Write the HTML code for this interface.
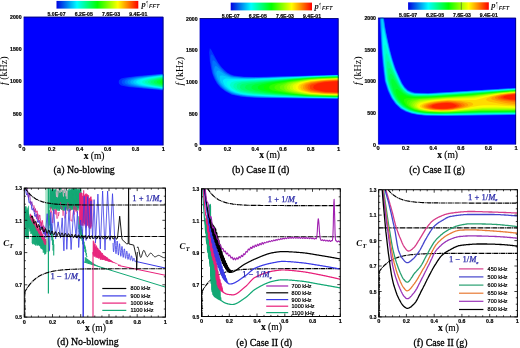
<!DOCTYPE html><html><head><meta charset="utf-8"><style>html,body{margin:0;padding:0;background:#fff;overflow:hidden;}svg{display:block;}</style></head><body>
<svg width="520" height="348" viewBox="0 0 520 348">
<defs>
<linearGradient id="cbg" x1="0" x2="1" y1="0" y2="0"><stop offset="0" stop-color="#0000e0"/><stop offset="0.25" stop-color="#00ffff"/><stop offset="0.5" stop-color="#00ff00"/><stop offset="0.75" stop-color="#ffff00"/><stop offset="1" stop-color="#ff0000"/></linearGradient>
<clipPath id="clipa"><rect x="23.8" y="16.8" width="139.6" height="128.5"/></clipPath>
<clipPath id="clipb"><rect x="199.8" y="18.2" width="138.7" height="126.6"/></clipPath>
<clipPath id="clipc"><rect x="378.2" y="17.8" width="137.8" height="126.6"/></clipPath>
<clipPath id="clipd"><rect x="24.3" y="188.1" width="141.1" height="129"/></clipPath>
<clipPath id="clipe"><rect x="201.5" y="188.8" width="138.8" height="127.7"/></clipPath>
<clipPath id="clipf"><rect x="378.7" y="189.7" width="138.7" height="127.2"/></clipPath>
</defs>
<rect width="520" height="348" fill="#fff"/>
<rect x="23.8" y="16.8" width="139.6" height="128.5" fill="#0000ff"/>
<g clip-path="url(#clipa)">
<path d="M160 74L163.4 73.7 163.4 90.4 128.1 87.1 121.2 85.4 119.3 84.1 118.8 83.1 118.8 81 119.3 80 121.2 78.6 124.2 77.7 137.3 75.9 160 74Z" fill="#0033ff"/>
<path d="M151.4 75L163.4 74 163.4 90 141.5 88.1 129.3 86.4 124.2 85 122.6 84.1 121.5 82.1 122.5 80 127.1 78 135.3 76.7 151.4 75Z" fill="#0052ff"/>
<path d="M155.2 75L163.4 74.3 163.4 89.7 145.6 88.1 131.4 86.1 125.8 84.1 124.4 82.1 125.7 80 131.1 78 139.3 76.7 155.2 75Z" fill="#0072ff"/>
<path d="M158.8 75L163.4 74.6 163.4 89.4 148.3 87.9 135.2 86.1 129 84.1 127.8 83.1 127.4 82.1 127.7 81 128.9 80 134.8 78 158.8 75Z" fill="#0091ff"/>
<path d="M162.3 75L163.4 74.9 163.4 89.1 138.8 86.1 132.1 84.1 130.7 83.1 130.3 82.1 130.7 81 132 80 138.4 78 162.3 75Z" fill="#00b0ff"/>
<path d="M155.9 76L163.4 75.3 163.4 88.8 141.3 85.9 135.2 84.1 133.7 83.1 133.2 82.1 133.6 81 135 80 137.7 79 145.3 77.4 155.9 76Z" fill="#00cfff"/>
<path d="M159.3 76L163.4 75.6 163.4 88.4 151.9 87.1 142.3 85.3 138.3 84.1 136.7 83.1 136.1 82.1 136.6 81 138.1 80 140.9 79 148.3 77.5 159.3 76Z" fill="#00efff"/>
<path d="M162.5 76L163.4 75.9 163.4 88.1 144.3 85.1 141.3 84.1 139.6 83.1 139.1 82.1 139.5 81 141.1 80 144 79 162.5 76Z" fill="#00fff0"/>
<path d="M157.9 77L163.4 76.3 163.4 87.7 147.5 85.1 144.3 84.1 142.6 83.1 142 82.1 142.5 81 144.2 80 147.2 79 157.9 77Z" fill="#00ffd1"/>
<path d="M161.1 77L163.4 76.7 163.4 87.3 150.5 85.1 147.4 84.1 145.5 83.1 144.9 82.1 145.4 81 147.2 80 150.2 79 161.1 77Z" fill="#00ffb2"/>
<path d="M158 78L163.4 77.2 163.4 86.9 151.3 84.4 148.5 83.1 147.8 82.1 148.4 81 150.2 80 158 78Z" fill="#00ff92"/>
<path d="M161 78L163.4 77.7 163.4 86.4 153.3 84.1 151.4 83.1 150.7 82.1 151.3 81 153.1 80 161 78Z" fill="#00ff73"/>
<path d="M159.4 79L163.4 78.2 163.4 85.8 156.3 84.1 154.3 83.1 153.7 82.1 154.2 81 156.1 80 159.4 79Z" fill="#00ff54"/>
<path d="M162.4 79L163.4 78.8 163.4 85.2 159.3 84.1 157.3 83.1 156.6 82.1 157.2 81 159.1 80 162.4 79Z" fill="#00ff35"/>
<path d="M162 80L163.4 79.6 163.4 84.4 160.2 83.1 159.5 82.1 160.1 81 162 80Z" fill="#00ff15"/>
<path d="M163 81L163.4 80.9 163.4 83.2 162.4 82.1 163 81Z" fill="#0aff00"/>
</g>
<path d="M23.8 17.1H163.1V145.3" fill="none" stroke="#000050" stroke-width="0.7"/>
<path d="M24 16.8V145.1H163.4" fill="none" stroke="#0000a0" stroke-width="0.5"/>
<rect x="56.5" y="0.9" width="81.8" height="7.7" fill="url(#cbg)"/>
<text x="56.5" y="15.8" font-size="6.0" font-family="'Liberation Sans', Arial, sans-serif" stroke="#000" stroke-width="0.2" text-anchor="middle" font-weight="bold" textLength="18" lengthAdjust="spacingAndGlyphs">5.0E-07</text>
<text x="83.8" y="15.8" font-size="6.0" font-family="'Liberation Sans', Arial, sans-serif" stroke="#000" stroke-width="0.2" text-anchor="middle" font-weight="bold" textLength="18" lengthAdjust="spacingAndGlyphs">6.2E-05</text>
<text x="111" y="15.8" font-size="6.0" font-family="'Liberation Sans', Arial, sans-serif" stroke="#000" stroke-width="0.2" text-anchor="middle" font-weight="bold" textLength="18" lengthAdjust="spacingAndGlyphs">7.6E-03</text>
<text x="138.3" y="15.8" font-size="6.0" font-family="'Liberation Sans', Arial, sans-serif" stroke="#000" stroke-width="0.2" text-anchor="middle" font-weight="bold" textLength="18" lengthAdjust="spacingAndGlyphs">9.4E-01</text>
<text x="141.5" y="6.8" font-family="'Liberation Serif', 'Times New Roman', serif" font-size="8.5" font-style="italic" font-weight="bold" fill="#222">p′</text>
<line x1="147.5" y1="0.8" x2="147.5" y2="7.3" stroke="#888" stroke-width="0.4"/>
<text x="149.1" y="8.1" font-family="'Liberation Sans', Arial, sans-serif" font-size="5.8" font-style="italic" font-weight="bold" fill="#222" textLength="10.4" lengthAdjust="spacingAndGlyphs">FFT</text>
<text x="21.6" y="147.6" font-size="6.2" font-family="'Liberation Sans', Arial, sans-serif" stroke="#000" stroke-width="0.2" text-anchor="end" font-weight="bold" textLength="3.0" lengthAdjust="spacingAndGlyphs">0</text>
<text x="21.6" y="115.5" font-size="6.2" font-family="'Liberation Sans', Arial, sans-serif" stroke="#000" stroke-width="0.2" text-anchor="end" font-weight="bold" textLength="8.7" lengthAdjust="spacingAndGlyphs">500</text>
<text x="21.6" y="83.4" font-size="6.2" font-family="'Liberation Sans', Arial, sans-serif" stroke="#000" stroke-width="0.2" text-anchor="end" font-weight="bold" textLength="11.6" lengthAdjust="spacingAndGlyphs">1000</text>
<text x="21.6" y="51.2" font-size="6.2" font-family="'Liberation Sans', Arial, sans-serif" stroke="#000" stroke-width="0.2" text-anchor="end" font-weight="bold" textLength="11.6" lengthAdjust="spacingAndGlyphs">1500</text>
<text x="21.6" y="19.1" font-size="6.2" font-family="'Liberation Sans', Arial, sans-serif" stroke="#000" stroke-width="0.2" text-anchor="end" font-weight="bold" textLength="11.6" lengthAdjust="spacingAndGlyphs">2000</text>
<text x="23.8" y="151.1" font-size="6.2" font-family="'Liberation Sans', Arial, sans-serif" stroke="#000" stroke-width="0.2" text-anchor="middle" font-weight="bold" textLength="3.2" lengthAdjust="spacingAndGlyphs">0</text>
<text x="51.7" y="151.1" font-size="6.2" font-family="'Liberation Sans', Arial, sans-serif" stroke="#000" stroke-width="0.2" text-anchor="middle" font-weight="bold" textLength="7.4" lengthAdjust="spacingAndGlyphs">0.2</text>
<text x="79.6" y="151.1" font-size="6.2" font-family="'Liberation Sans', Arial, sans-serif" stroke="#000" stroke-width="0.2" text-anchor="middle" font-weight="bold" textLength="7.4" lengthAdjust="spacingAndGlyphs">0.4</text>
<text x="107.6" y="151.1" font-size="6.2" font-family="'Liberation Sans', Arial, sans-serif" stroke="#000" stroke-width="0.2" text-anchor="middle" font-weight="bold" textLength="7.4" lengthAdjust="spacingAndGlyphs">0.6</text>
<text x="135.5" y="151.1" font-size="6.2" font-family="'Liberation Sans', Arial, sans-serif" stroke="#000" stroke-width="0.2" text-anchor="middle" font-weight="bold" textLength="7.4" lengthAdjust="spacingAndGlyphs">0.8</text>
<text x="163.4" y="151.1" font-size="6.2" font-family="'Liberation Sans', Arial, sans-serif" stroke="#000" stroke-width="0.2" text-anchor="middle" font-weight="bold" textLength="3.2" lengthAdjust="spacingAndGlyphs">1</text>
<text x="94.1" y="158.7" font-family="'Liberation Serif', 'Times New Roman', serif" font-size="9.5" text-anchor="middle" stroke="#000" stroke-width="0.15"><tspan font-weight="bold">x</tspan> (m)</text>
<text transform="translate(6.6,70.8) rotate(-90)" font-family="'Liberation Serif', 'Times New Roman', serif" font-size="10" text-anchor="middle"><tspan font-style="italic">f</tspan> (kHz)</text>
<rect x="199.8" y="18.2" width="138.7" height="126.6" fill="#0000ff"/>
<g clip-path="url(#clipb)">
<path d="M209.8 48.3L210.9 49.2 218.1 62.4 221.9 67.4 227.2 72.5 231 74.6 234 75.5 244 76.7 256.1 77 338.5 74.7 338.5 99 255.1 97.9 241 96.8 232 94.8 225.5 91.5 220.3 87.5 216.9 83.6 213.9 78 211.9 72.4 209.9 62 209.2 52.4 209.8 48.3Z" fill="#0033ff"/>
<path d="M210.7 55.4L210.9 54.7 211.9 54.4 212.9 55.3 219.4 65.4 225 71.5 230 74.7 234 76 244 77.1 256.1 77.3 338.5 74.9 338.5 98.7 258.1 97.7 242.4 96.6 232 94.4 226.4 91.5 222.2 88.5 218.3 84.5 215.9 80.7 213.1 74.5 211.9 69.6 210.4 59.4 210.7 55.4Z" fill="#0052ff"/>
<path d="M212.4 61.4L212.9 60.5 213.9 60.5 214.9 61.3 220 67.4 223.9 71.5 226.9 73.7 232 76 240 77.2 258.1 77.6 338.5 75 338.5 98.5 261.1 97.4 245.8 96.6 234.2 94.6 229.2 92.6 224.9 89.9 220.9 86.5 217.9 82.8 215.9 79.3 213.5 73.5 212.3 66.4 212.4 61.4Z" fill="#0072ff"/>
<path d="M214.8 66.4L215.9 66.1 216.9 66.5 224.9 73.3 230 76 234 77 241 77.7 258.1 77.9 338.5 75.1 338.5 98.3 264.1 97.2 247 96.3 236 94.6 232 93.3 226.8 90.5 222.9 87.5 219.2 83.5 216.9 79.5 214.6 73.5 214.1 69.4 214.8 66.4Z" fill="#0091ff"/>
<path d="M216.6 71.5L217.9 70.5 218.9 70.6 225.9 75.1 231 77.1 245 78.3 260.1 78.2 338.5 75.3 338.5 98.2 266.1 97 249 96.1 238.1 94.6 233 93.1 229.7 91.5 225.2 88.5 222 85.5 219.7 82.5 217.3 77.5 216.3 73.5 216.6 71.5Z" fill="#00b0ff"/>
<path d="M220.6 75.5L222.9 75.4 232 78.1 248 78.8 338.5 75.4 338.5 98 269.1 96.8 251.1 95.8 240.4 94.6 235 93.1 231.1 91.5 227.8 89.5 224.3 86.5 221.1 82.5 219.8 79.5 219.7 76.5 220.6 75.5Z" fill="#00cfff"/>
<path d="M310.1 76.5L338.5 75.6 338.5 97.9 309.4 97.6 272.2 96.5 254.1 95.6 243.6 94.6 235.2 92.6 230.9 90.5 225.8 86.5 224.2 84.5 223 81.5 223 80.5 223.6 79.5 225.9 78.5 233 79.1 252.1 79.2 310.1 76.5Z" fill="#00efff"/>
<path d="M314.7 76.5L338.5 75.8 338.5 97.8 290.3 96.8 264.1 95.8 247.7 94.6 240 93.3 233 90.7 229.8 88.5 227.8 86.5 226.5 83.5 226.7 82.5 227.9 81.1 231 80.3 259.1 79.4 314.7 76.5Z" fill="#00fff0"/>
<path d="M319.3 76.5L338.5 75.9 338.5 97.6 294.3 96.7 252.1 94.5 241 92.9 237 91.5 231.9 88.5 229.9 85.5 230 84.5 231.2 82.5 233.4 81.5 238 80.8 319.3 76.5Z" fill="#00ffd1"/>
<path d="M323.7 76.5L338.5 76.1 338.5 97.5 296 96.6 253.1 94 243.2 92.6 239.5 91.5 235.7 89.5 233.7 87.5 233.4 86.5 233.7 84.5 235 83.1 237 82.2 242 81.3 323.7 76.5Z" fill="#00ffb2"/>
<path d="M329.1 76.5L338.5 76.2 338.5 97.3 301.3 96.6 269.1 94.8 254.9 93.6 247.8 92.6 241 91 237.4 88.5 236.7 86.5 237.3 84.5 238.5 83.5 242 82.3 302.3 77.7 329.1 76.5Z" fill="#00ff92"/>
<path d="M334.7 76.5L338.5 76.4 338.5 97.1 306.3 96.6 261.3 93.6 253.2 92.6 244.1 90.5 241 89.2 240 87.5 240.3 85.5 242 83.9 250.7 82.5 302.3 77.9 334.7 76.5Z" fill="#00ff73"/>
<path d="M312.7 77.5L338.5 76.5 338.5 97 306.3 96.3 267.4 93.6 256.1 92 249.5 90.5 247 89.5 245.6 88.5 245.1 87.5 245.8 85.5 247.8 84.5 258.4 82.5 289.3 79.3 312.7 77.5Z" fill="#00ff54"/>
<path d="M316.9 77.5L338.5 76.7 338.5 96.8 307.3 96.1 273.2 93.5 265.4 92.6 255.5 90.5 253.1 89.5 251.8 88.5 251.5 87.5 251.7 86.5 252.6 85.5 254.9 84.5 264.7 82.5 290.4 79.5 316.9 77.5Z" fill="#00ff35"/>
<path d="M321.1 77.5L338.5 76.9 338.5 96.6 305.3 95.8 274.2 92.9 261.8 90.5 259.3 89.5 258.1 88.5 257.9 87.5 258 86.5 259.1 85.5 261.5 84.5 270.1 82.5 293.8 79.5 321.1 77.5Z" fill="#00ff15"/>
<path d="M325.5 77.5L338.5 77.1 338.5 96.4 310.4 95.8 288.2 94 270.2 91.3 265.1 89.5 264.1 88.5 263.9 87.5 264 86.5 265 85.5 266.9 84.5 275.5 82.5 301.3 79.1 325.5 77.5Z" fill="#0aff00"/>
<path d="M331.6 77.5L338.5 77.3 338.5 96.2 310.4 95.6 290.3 93.8 272.8 90.5 270.5 89.5 269.5 88.5 269.2 87.5 269.4 86.5 270.2 85.5 272.2 84.5 275.6 83.5 292 80.5 310.4 78.5 331.6 77.5Z" fill="#29ff00"/>
<path d="M337.5 77.5L338.5 77.5 338.5 96 311.4 95.4 292.2 93.6 278.3 90.5 275.9 89.5 274.8 88.5 274.5 87.5 274.7 86.5 275.5 85.5 277.4 84.5 292.3 81 310.4 78.8 337.5 77.5Z" fill="#48ff00"/>
<path d="M318.4 78.5L338.5 77.7 338.5 95.8 311.4 95.1 295.8 93.6 285.8 91.5 281.3 89.5 280.1 88.5 279.8 87.5 279.9 86.5 280.7 85.5 287.7 82.5 303.3 79.8 318.4 78.5Z" fill="#68ff00"/>
<path d="M322.4 78.5L338.5 77.9 338.5 95.6 311.4 94.9 300.3 93.7 288.9 91.5 286.2 90.4 284.4 88.5 284.2 86.5 284.6 85.5 287.6 83.5 290.6 82.5 308.3 79.5 322.4 78.5Z" fill="#87ff00"/>
<path d="M327.5 78.5L338.5 78.1 338.5 95.4 311.4 94.6 302 93.6 292 91.5 289.4 90.5 287.2 88.5 287 86.5 288.5 84.5 293.5 82.5 310.4 79.6 327.5 78.5Z" fill="#a6ff00"/>
<path d="M333.9 78.5L338.5 78.3 338.5 95.2 317.4 94.6 304.9 93.6 294.3 91.3 290.8 89.5 290 88.5 289.9 86.5 291.4 84.5 293.3 83.5 300.4 81.5 311.4 79.8 333.9 78.5Z" fill="#c5ff00"/>
<path d="M319.2 79.5L338.5 78.6 338.5 94.9 323.4 94.6 307.9 93.6 298 91.5 294.3 89.9 292.9 88.5 292.7 86.5 293.1 85.5 294.1 84.5 298.9 82.5 308.6 80.5 319.2 79.5Z" fill="#e5ff00"/>
<path d="M323 79.5L338.5 78.8 338.5 94.7 324.4 94.4 310.4 93.5 300.6 91.5 298 90.5 295.7 88.5 295.5 86.5 295.9 85.5 298.6 83.5 301.4 82.5 310.4 80.6 323 79.5Z" fill="#fffa00"/>
<path d="M328.6 79.5L338.5 79.1 338.5 94.4 324.4 94.1 310.4 93 302.3 91.2 299 89.5 298.3 88.5 298.1 86.5 299.4 84.5 303.8 82.5 311.4 80.9 328.6 79.5Z" fill="#ffdb00"/>
<path d="M335.6 79.5L338.5 79.4 338.5 94.1 324.4 93.8 310.1 92.6 303 90.5 301.4 89.5 300.4 87.5 300.8 85.5 301.7 84.5 306.2 82.5 310.3 81.5 324.4 80 335.6 79.5Z" fill="#ffbc00"/>
<path d="M322.7 80.5L338.5 79.7 338.5 93.8 324.4 93.5 311.4 92.2 305.5 90.5 303 88.5 303.2 85.5 305.8 83.5 311.4 81.9 322.7 80.5Z" fill="#ff9c00"/>
<path d="M328.3 80.5L338.5 80 338.5 93.5 324.4 93.1 311.4 91.6 308 90.5 305.5 88.5 305.2 86.5 305.5 85.5 306.4 84.5 310.4 82.7 317.7 81.5 328.3 80.5Z" fill="#ff7d00"/>
<path d="M335.9 80.5L338.5 80.4 338.5 93.1 324.4 92.7 315.2 91.5 310.4 90.5 308.7 89.5 307.5 87.5 307.9 85.5 308.8 84.5 311.4 83.3 324.4 81.1 335.9 80.5Z" fill="#ff5e00"/>
<path d="M325.7 81.5L338.5 80.8 338.5 92.7 325.4 92.2 319.4 91.5 314.3 90.5 311.3 89.5 310.2 88.5 309.9 86.5 310.2 85.5 311.4 84.5 318.6 82.5 325.7 81.5Z" fill="#ff3f00"/>
<path d="M333.8 81.5L338.5 81.2 338.5 92.2 325.4 91.7 321.4 91.1 315.2 89.5 313.7 88.5 313.3 87.5 313.7 85.5 317.9 83.5 324.4 82.2 333.8 81.5Z" fill="#ff1f00"/>
</g>
<path d="M199.8 18.5H338.2V144.8" fill="none" stroke="#000050" stroke-width="0.7"/>
<path d="M200 18.2V144.6H338.5" fill="none" stroke="#0000a0" stroke-width="0.5"/>
<rect x="230.7" y="2.6" width="81.3" height="7.8" fill="url(#cbg)"/>
<text x="230.7" y="17.6" font-size="6.0" font-family="'Liberation Sans', Arial, sans-serif" stroke="#000" stroke-width="0.2" text-anchor="middle" font-weight="bold" textLength="18" lengthAdjust="spacingAndGlyphs">5.0E-07</text>
<text x="257.8" y="17.6" font-size="6.0" font-family="'Liberation Sans', Arial, sans-serif" stroke="#000" stroke-width="0.2" text-anchor="middle" font-weight="bold" textLength="18" lengthAdjust="spacingAndGlyphs">6.2E-05</text>
<text x="284.9" y="17.6" font-size="6.0" font-family="'Liberation Sans', Arial, sans-serif" stroke="#000" stroke-width="0.2" text-anchor="middle" font-weight="bold" textLength="18" lengthAdjust="spacingAndGlyphs">7.6E-03</text>
<text x="312" y="17.6" font-size="6.0" font-family="'Liberation Sans', Arial, sans-serif" stroke="#000" stroke-width="0.2" text-anchor="middle" font-weight="bold" textLength="18" lengthAdjust="spacingAndGlyphs">9.4E-01</text>
<text x="314.5" y="8.6" font-family="'Liberation Serif', 'Times New Roman', serif" font-size="8.5" font-style="italic" font-weight="bold" fill="#222">p′</text>
<line x1="320.5" y1="2.6" x2="320.5" y2="9.1" stroke="#888" stroke-width="0.4"/>
<text x="322.1" y="9.9" font-family="'Liberation Sans', Arial, sans-serif" font-size="5.8" font-style="italic" font-weight="bold" fill="#222" textLength="10.4" lengthAdjust="spacingAndGlyphs">FFT</text>
<text x="197.6" y="147.1" font-size="6.2" font-family="'Liberation Sans', Arial, sans-serif" stroke="#000" stroke-width="0.2" text-anchor="end" font-weight="bold" textLength="3.0" lengthAdjust="spacingAndGlyphs">0</text>
<text x="197.6" y="115.5" font-size="6.2" font-family="'Liberation Sans', Arial, sans-serif" stroke="#000" stroke-width="0.2" text-anchor="end" font-weight="bold" textLength="8.7" lengthAdjust="spacingAndGlyphs">500</text>
<text x="197.6" y="83.8" font-size="6.2" font-family="'Liberation Sans', Arial, sans-serif" stroke="#000" stroke-width="0.2" text-anchor="end" font-weight="bold" textLength="11.6" lengthAdjust="spacingAndGlyphs">1000</text>
<text x="197.6" y="52.2" font-size="6.2" font-family="'Liberation Sans', Arial, sans-serif" stroke="#000" stroke-width="0.2" text-anchor="end" font-weight="bold" textLength="11.6" lengthAdjust="spacingAndGlyphs">1500</text>
<text x="197.6" y="20.5" font-size="6.2" font-family="'Liberation Sans', Arial, sans-serif" stroke="#000" stroke-width="0.2" text-anchor="end" font-weight="bold" textLength="11.6" lengthAdjust="spacingAndGlyphs">2000</text>
<text x="199.8" y="150.6" font-size="6.2" font-family="'Liberation Sans', Arial, sans-serif" stroke="#000" stroke-width="0.2" text-anchor="middle" font-weight="bold" textLength="3.2" lengthAdjust="spacingAndGlyphs">0</text>
<text x="227.5" y="150.6" font-size="6.2" font-family="'Liberation Sans', Arial, sans-serif" stroke="#000" stroke-width="0.2" text-anchor="middle" font-weight="bold" textLength="7.4" lengthAdjust="spacingAndGlyphs">0.2</text>
<text x="255.3" y="150.6" font-size="6.2" font-family="'Liberation Sans', Arial, sans-serif" stroke="#000" stroke-width="0.2" text-anchor="middle" font-weight="bold" textLength="7.4" lengthAdjust="spacingAndGlyphs">0.4</text>
<text x="283" y="150.6" font-size="6.2" font-family="'Liberation Sans', Arial, sans-serif" stroke="#000" stroke-width="0.2" text-anchor="middle" font-weight="bold" textLength="7.4" lengthAdjust="spacingAndGlyphs">0.6</text>
<text x="310.8" y="150.6" font-size="6.2" font-family="'Liberation Sans', Arial, sans-serif" stroke="#000" stroke-width="0.2" text-anchor="middle" font-weight="bold" textLength="7.4" lengthAdjust="spacingAndGlyphs">0.8</text>
<text x="338.5" y="150.6" font-size="6.2" font-family="'Liberation Sans', Arial, sans-serif" stroke="#000" stroke-width="0.2" text-anchor="middle" font-weight="bold" textLength="3.2" lengthAdjust="spacingAndGlyphs">1</text>
<text x="269.6" y="158.2" font-family="'Liberation Serif', 'Times New Roman', serif" font-size="9.5" text-anchor="middle" stroke="#000" stroke-width="0.15"><tspan font-weight="bold">x</tspan> (m)</text>
<text transform="translate(182.6,71.2) rotate(-90)" font-family="'Liberation Serif', 'Times New Roman', serif" font-size="10" text-anchor="middle"><tspan font-style="italic">f</tspan> (kHz)</text>
<rect x="378.2" y="17.8" width="137.8" height="126.6" fill="#0000ff"/>
<g clip-path="url(#clipc)">
<path d="M379.6 17.8L383.9 17.8 385.9 30.9 388 40.9 391.1 54 394.1 64 397.1 72.1 402.2 83.1 404.9 87.1 408 90.1 414.4 92.5 427.5 93 460.7 91.4 481.8 90.1 483.8 89.7 497.9 89.2 498.9 88.7 514 88.2 516 87.7 516 115 457.7 115.9 423.5 115.8 411.4 113.8 405.4 111.7 401.3 109.6 395.5 104.2 391.2 98.2 387.8 91.1 384.8 82.1 382.8 68 381.8 56 379.6 17.8Z" fill="#0033ff"/>
<path d="M379.9 17.8L383.7 17.8 385.7 30.9 389.9 50 392.9 61 396 70 401.9 83.1 404.6 87.1 407.6 90.1 410.4 91.6 414.4 92.8 419.4 93.3 428.5 93.3 516 88 516 114.8 449.6 115.7 425.5 115.6 416.4 114.6 411.4 113.5 405.4 111.3 400.3 108.5 395.3 103.6 391.3 97.8 388.1 91.1 384.9 81.1 382 55 379.9 17.8Z" fill="#0052ff"/>
<path d="M380.1 17.8L383.5 17.8 385.6 30.9 389.6 50 392 59 395.7 70 401.7 83.1 404.4 87.3 407.4 90.3 409.4 91.5 414.4 93 427.5 93.5 516 88.2 516 114.6 447.6 115.6 426.5 115.4 417.4 114.5 411.7 113.3 405.8 111.2 400.4 108.2 395.3 103.2 391.3 97.3 388.3 90.8 385.2 81.1 382.1 53 380.1 17.8Z" fill="#0072ff"/>
<path d="M380.5 17.8L383.3 17.8 384.8 27.8 387.8 42.9 391.8 59 394.7 68 401.9 84.1 404.7 88.1 407.4 90.6 411.4 92.5 415.4 93.4 428.5 93.7 516 88.4 516 114.4 446.6 115.4 425.5 115.1 417.5 114.3 411.4 112.9 406.4 111.2 400.9 108.2 396.3 104 392.1 98.2 388.3 90.1 385.4 81.1 382.4 53 380.5 17.8Z" fill="#0091ff"/>
<path d="M380.9 17.8L382.9 17.8 384.8 29.9 388.9 48.9 391.8 60 394.8 69 401.6 84.1 404.4 88.1 407.4 90.9 411.4 92.8 415.4 93.7 428.5 93.9 516 88.6 516 114.2 444.6 115.2 426.5 114.9 418.9 114.3 412.4 113 407.1 111.2 401.3 108.2 396.3 103.5 392.3 97.9 388.3 89.3 385.7 81.1 384.2 70.3 382.2 47.4 380.9 17.8Z" fill="#00b0ff"/>
<path d="M381.8 17.8L382.3 17.8 383.2 22.1 385.6 35.9 388.8 50 393.8 67 400.7 83.1 404 88.1 407.2 91.1 410.4 92.7 414.4 93.8 427.5 94.2 458.7 92.6 516 88.8 516 114 446.6 115 426.5 114.7 418.4 114 411.4 112.5 405.4 110.2 401.3 107.9 396.4 103.2 392.3 97.4 389.3 91.1 386 81.1 384.1 66 382.4 44.9 381.6 20.8 381.8 17.8Z" fill="#00cfff"/>
<path d="M382.9 27.8L383.2 27.4 384.2 30.9 389.7 55 393.8 68 400.9 84.1 404.4 89 407.4 91.7 411.4 93.4 414.4 94.1 428.5 94.4 516 89 516 113.7 446.6 114.8 426.5 114.5 418.4 113.7 411.5 112.2 406 110.2 402.4 108.2 397.3 103.8 393.1 98.2 389.3 90.2 386.3 81.1 383.2 52.5 382.4 32.9 382.9 27.8Z" fill="#00efff"/>
<path d="M383.6 36.9L384.2 36.2 385.2 39 390.7 60 395 72.1 401.7 86.1 404.4 89.5 407.4 92 411.4 93.7 415.4 94.5 428.5 94.7 463.7 92.8 516 89.2 516 113.5 446.6 114.6 427.5 114.4 419.4 113.7 413.4 112.5 408.4 110.9 403.3 108.5 398.1 104.2 393.5 98.2 390.3 91.8 387.3 83.2 386.2 78.1 384.2 59.9 383.2 44.9 383.2 38.6 383.6 36.9Z" fill="#00fff0"/>
<path d="M384.7 44.9L385.2 44.5 386.2 46.4 392.9 68 399.1 82.1 402.7 88.1 407.4 92.4 411.4 94.1 415.4 94.8 429.5 94.9 516 89.3 516 113.3 446.6 114.4 430.2 114.3 416.4 112.9 410.1 111.2 405.3 109.2 400.3 105.8 395.3 100.2 391.3 93.2 388.3 85.2 386.9 80.1 385.1 65 384.2 51 384.2 45.7 384.7 44.9Z" fill="#00ffd1"/>
<path d="M385.9 54L386.2 53.3 387.3 54.2 392.8 69 399.6 84.1 403.9 90.1 408.4 93.4 411.4 94.4 415.4 95.1 430.5 95.1 516 89.5 516 113 433.5 114.1 419.4 113.2 414.4 112.2 408.2 110.2 402.3 107 397.3 102.2 393.3 96.3 390.3 89.7 388.3 83.7 387 78.1 385.6 62 385.5 57 385.9 54Z" fill="#00ffb2"/>
<path d="M387.1 62L387.3 61.5 388.3 61.3 389.3 62.8 398.1 82.1 400.9 87.1 404.4 91.2 408.4 93.8 411.4 94.8 415.4 95.4 429.5 95.4 464.7 93.4 516 89.7 516 112.7 433.5 113.9 419.4 112.9 409.1 110.2 403.3 107.2 399.7 104.2 395.6 99.2 392.3 93.3 390.3 88.4 387.9 80.1 386.8 68 387.1 62Z" fill="#00ff92"/>
<path d="M389 68L390.3 68.6 391.3 69.9 398.5 84.1 401.7 89.1 406.4 93.3 412.4 95.4 418.4 95.9 434.5 95.5 516 89.9 516 112.5 435.5 113.7 421.5 113 416.4 112.1 410.4 110.4 404 107.2 400.4 104.2 396.3 99.4 393.3 94.2 390.3 86.6 388.3 79.1 388.1 70 388.3 68.8 389 68Z" fill="#00ff73"/>
<path d="M390 74.1L391.3 73.8 393.3 75.9 398.8 86.1 403.3 91.7 407.4 94.4 413.4 96 435.5 95.7 468.7 93.7 516 90.1 516 112.2 478.8 112.5 438.6 113.6 423.5 112.9 414.1 111.2 408.5 109.2 403.4 106.2 399.3 102.3 396.3 98.4 393.3 92.7 390.3 84.1 389.2 79.1 389.3 75.9 390 74.1Z" fill="#00ff54"/>
<path d="M391.3 79.1L392.3 78.6 393.3 79.1 399.1 88.1 403.3 92.7 407.4 95.1 413.4 96.5 428.5 96.4 459.7 94.6 516 90.3 516 111.9 482.8 112.2 439.6 113.4 424.5 112.7 415.3 111.2 409.4 109.2 405.7 107.2 401.9 104.2 398.4 100.2 395.3 95.2 393.3 90.3 391.3 82.4 391.3 79.1Z" fill="#00ff35"/>
<path d="M395.8 89.1L397.3 89 403.3 93.8 406.4 95.5 410.4 96.6 415.4 97 429.5 96.7 464.7 94.6 516 90.5 516 111.6 478.8 111.9 442.6 113.1 428.5 112.8 418.4 111.7 410.4 109.2 406.7 107.2 402.9 104.2 399.5 100.2 397.1 96.2 395.4 91.1 395.8 89.1Z" fill="#00ff15"/>
<path d="M507.5 91.1L516 90.7 516 111.2 478.8 111.6 443.6 112.9 431.5 112.7 422.5 112 414.2 110.2 407.7 107.2 405.1 105.2 402.3 102.2 399.7 97.2 400.3 95.3 401.3 95 407.4 96.8 411.4 97.4 425.5 97.2 468.7 94.7 507.5 91.1Z" fill="#0aff00"/>
<path d="M510.7 91.1L516 90.9 516 110.9 479.8 111.2 445.6 112.7 426.5 112.1 418.4 111 410.5 108.2 406.3 105.2 403.8 101.2 404.2 99.2 406.7 98.2 426.5 97.6 463.7 95.4 510.7 91.1Z" fill="#29ff00"/>
<path d="M514.5 91.1L516 91.1 516 110.5 478.8 110.8 446.6 112.4 429.5 112.1 420.4 111.1 413.9 109.2 408.8 106.2 406.7 103.2 407.2 101.2 408.1 100.2 412.4 99.1 468.7 95.4 499.9 92.2 514.5 91.1Z" fill="#48ff00"/>
<path d="M502.4 92.2L516 91.3 516 110.1 478.8 110.4 446.6 112.2 431.5 112 422.5 111.1 415.4 109.3 411.4 107.2 409 104.2 409.7 102.2 411.4 100.7 419.4 99 470.7 95.7 502.4 92.2Z" fill="#68ff00"/>
<path d="M505 92.2L516 91.5 516 109.7 482.8 109.8 447.6 111.9 434.5 111.8 426.2 111.2 419.4 110.1 414.4 108.2 411.7 106.2 411.2 105.2 411.6 103.2 413.4 101.5 419.4 99.6 446.6 97.4 472.7 96 505 92.2Z" fill="#87ff00"/>
<path d="M507.9 92.2L516 91.7 516 109.2 481.8 109.3 448.6 111.6 435.5 111.6 426.5 110.9 419.4 109.7 414.2 107.2 413 105.2 413.2 104.2 415.1 102.2 420.4 100.2 446.6 97.9 471.7 96.6 497.3 93.2 507.9 92.2Z" fill="#a6ff00"/>
<path d="M511.1 92.2L516 91.9 516 108.7 482.8 108.6 450.6 111.3 436.5 111.4 426.5 110.6 419.4 109.2 415.7 107.2 414.8 105.2 416.2 103.2 418.4 101.8 425.5 100.3 446.6 98.3 473.8 97 499.5 93.2 511.1 92.2Z" fill="#c5ff00"/>
<path d="M515.1 92.2L516 92.1 516 108.2 495.9 107.7 482.8 107.9 452.6 110.8 439.6 111.2 429.5 110.6 422.5 109.5 418.5 108.2 416.5 106.2 417.2 104.2 419.4 102.4 428.5 100.6 446.6 98.8 473.8 97.8 497.9 93.7 515.1 92.2Z" fill="#e5ff00"/>
<path d="M504.3 93.2L516 92.4 516 107.5 495.9 106.7 483.8 106.9 474.8 107.6 455.6 110.3 440.6 111 430.5 110.4 423.5 109.3 420.2 108.2 418.6 107.2 418.1 106.2 419 104.2 420.6 103.2 429.5 101 446.6 99.2 473.8 98.7 490.8 95.2 504.3 93.2Z" fill="#fffa00"/>
<path d="M507 93.2L516 92.6 516 106.6 494.9 105.3 483.8 105.3 478.8 105.8 457.7 109.7 441.6 110.7 432.5 110.3 425.2 109.2 422 108.2 420.3 107.2 419.7 106.2 420.4 104.9 423.5 103.2 432.2 101.2 447.6 99.7 475.8 100 493.2 95.2 507 93.2Z" fill="#ffdb00"/>
<path d="M510 93.2L516 92.8 516 105.6 500.9 104 488.8 101.5 486.3 100.2 486.2 99.2 487.2 98.2 491.7 96.2 500.9 94.2 510 93.2ZM436.2 101.2L447.6 100.2 460.7 100.7 470.7 102.2 472.6 103.2 473.3 104.2 472.7 105.2 467.9 107.2 458.2 109.2 447.6 110.4 434.5 110.2 427.5 109.3 424.5 108.4 422.2 107.2 421.7 106.2 422.5 105 426.1 103.2 436.2 101.2Z" fill="#ffbc00"/>
<path d="M513.7 93.2L516 93.1 516 104.2 505.9 102.9 496.9 101 491.9 99.4 491.1 98.2 492.1 97.2 497.7 95.2 503.2 94.2 513.7 93.2ZM440.9 101.2L449.6 100.8 460.7 101.6 466.7 103.2 468.1 104.2 468.3 105.2 467.1 106.2 464.7 107.2 452.6 109.6 441.6 110.2 430.5 109.4 425.8 108.2 424 107.2 423.6 106.2 424.3 105.2 426.5 104 430.5 102.8 440.9 101.2Z" fill="#ff9c00"/>
<path d="M505.7 94.2L516 93.3 516 102.6 500.9 100.6 496.9 99.5 494.9 98.2 495 97.2 496.7 96.2 505.7 94.2ZM436.7 102.2L446.6 101.3 455.6 101.8 462.4 103.2 464.3 104.2 464.9 105.2 464.1 106.2 462 107.2 452.7 109.2 443.6 109.9 433.5 109.4 427.8 108.2 425.9 107.2 425.5 106.2 426.3 105.2 428.5 104.1 436.7 102.2Z" fill="#ff7d00"/>
<path d="M508.5 94.2L516 93.6 516 101.5 503.9 100.1 500.1 99.2 498 98.2 497.7 97.2 499 96.2 502.2 95.2 508.5 94.2ZM441.2 102.2L447.6 101.8 454.6 102.4 459.7 103.6 461.9 105.2 461.4 106.2 459.5 107.2 451.6 109 443.6 109.5 434.5 109.1 429.9 108.2 427.8 107.2 427.4 106.2 428.3 105.2 433.5 103.4 441.2 102.2Z" fill="#ff5e00"/>
<path d="M511.8 94.2L516 93.9 516 100.6 504.3 99.2 501.2 98.2 500.3 97.2 501.4 96.2 504.7 95.2 511.8 94.2ZM437.5 103.2L445.6 102.4 450.6 102.6 456.7 103.7 459.2 105.2 459 106.2 457.2 107.2 453.5 108.2 446.6 109.1 437.5 109 432.2 108.2 429.8 107.2 429.3 106.2 430.4 105.2 432.5 104.3 437.5 103.2Z" fill="#ff3f00"/>
<path d="M507.3 95.2L516 94.3 516 99.8 509.3 99.2 504.6 98.2 503.1 97.2 503.9 96.2 507.3 95.2ZM442.1 103.2L447.6 103 452.6 103.6 456.6 105.2 456.6 106.2 454.6 107.3 447.6 108.6 439.6 108.7 434.9 108.2 431.9 107.2 431.4 106.2 432.6 105.2 436.5 104 442.1 103.2Z" fill="#ff1f00"/>
</g>
<path d="M378.2 18.1H515.7V144.4" fill="none" stroke="#000050" stroke-width="0.7"/>
<path d="M378.4 17.8V144.2H516" fill="none" stroke="#0000a0" stroke-width="0.5"/>
<rect x="408.1" y="2.3" width="80.7" height="7.5" fill="url(#cbg)"/>
<line x1="461.3" y1="2.3" x2="461.3" y2="9.8" stroke="#333" stroke-width="0.5"/>
<text x="408.1" y="16.7" font-size="6.0" font-family="'Liberation Sans', Arial, sans-serif" stroke="#000" stroke-width="0.2" text-anchor="middle" font-weight="bold" textLength="18" lengthAdjust="spacingAndGlyphs">5.0E-07</text>
<text x="435" y="16.7" font-size="6.0" font-family="'Liberation Sans', Arial, sans-serif" stroke="#000" stroke-width="0.2" text-anchor="middle" font-weight="bold" textLength="18" lengthAdjust="spacingAndGlyphs">6.2E-05</text>
<text x="461.9" y="16.7" font-size="6.0" font-family="'Liberation Sans', Arial, sans-serif" stroke="#000" stroke-width="0.2" text-anchor="middle" font-weight="bold" textLength="18" lengthAdjust="spacingAndGlyphs">7.6E-03</text>
<text x="488.8" y="16.7" font-size="6.0" font-family="'Liberation Sans', Arial, sans-serif" stroke="#000" stroke-width="0.2" text-anchor="middle" font-weight="bold" textLength="18" lengthAdjust="spacingAndGlyphs">9.4E-01</text>
<text x="491.2" y="8.3" font-family="'Liberation Serif', 'Times New Roman', serif" font-size="8.5" font-style="italic" font-weight="bold" fill="#222">p′</text>
<line x1="497.2" y1="2.3" x2="497.2" y2="8.8" stroke="#888" stroke-width="0.4"/>
<text x="498.8" y="9.6" font-family="'Liberation Sans', Arial, sans-serif" font-size="5.8" font-style="italic" font-weight="bold" fill="#222" textLength="10.4" lengthAdjust="spacingAndGlyphs">FFT</text>
<text x="376" y="146.7" font-size="6.2" font-family="'Liberation Sans', Arial, sans-serif" stroke="#000" stroke-width="0.2" text-anchor="end" font-weight="bold" textLength="3.0" lengthAdjust="spacingAndGlyphs">0</text>
<text x="376" y="115" font-size="6.2" font-family="'Liberation Sans', Arial, sans-serif" stroke="#000" stroke-width="0.2" text-anchor="end" font-weight="bold" textLength="8.7" lengthAdjust="spacingAndGlyphs">500</text>
<text x="376" y="83.4" font-size="6.2" font-family="'Liberation Sans', Arial, sans-serif" stroke="#000" stroke-width="0.2" text-anchor="end" font-weight="bold" textLength="11.6" lengthAdjust="spacingAndGlyphs">1000</text>
<text x="376" y="51.8" font-size="6.2" font-family="'Liberation Sans', Arial, sans-serif" stroke="#000" stroke-width="0.2" text-anchor="end" font-weight="bold" textLength="11.6" lengthAdjust="spacingAndGlyphs">1500</text>
<text x="376" y="20.1" font-size="6.2" font-family="'Liberation Sans', Arial, sans-serif" stroke="#000" stroke-width="0.2" text-anchor="end" font-weight="bold" textLength="11.6" lengthAdjust="spacingAndGlyphs">2000</text>
<text x="378.2" y="150.2" font-size="6.2" font-family="'Liberation Sans', Arial, sans-serif" stroke="#000" stroke-width="0.2" text-anchor="middle" font-weight="bold" textLength="3.2" lengthAdjust="spacingAndGlyphs">0</text>
<text x="405.8" y="150.2" font-size="6.2" font-family="'Liberation Sans', Arial, sans-serif" stroke="#000" stroke-width="0.2" text-anchor="middle" font-weight="bold" textLength="7.4" lengthAdjust="spacingAndGlyphs">0.2</text>
<text x="433.3" y="150.2" font-size="6.2" font-family="'Liberation Sans', Arial, sans-serif" stroke="#000" stroke-width="0.2" text-anchor="middle" font-weight="bold" textLength="7.4" lengthAdjust="spacingAndGlyphs">0.4</text>
<text x="460.9" y="150.2" font-size="6.2" font-family="'Liberation Sans', Arial, sans-serif" stroke="#000" stroke-width="0.2" text-anchor="middle" font-weight="bold" textLength="7.4" lengthAdjust="spacingAndGlyphs">0.6</text>
<text x="488.4" y="150.2" font-size="6.2" font-family="'Liberation Sans', Arial, sans-serif" stroke="#000" stroke-width="0.2" text-anchor="middle" font-weight="bold" textLength="7.4" lengthAdjust="spacingAndGlyphs">0.8</text>
<text x="516" y="150.2" font-size="6.2" font-family="'Liberation Sans', Arial, sans-serif" stroke="#000" stroke-width="0.2" text-anchor="middle" font-weight="bold" textLength="3.2" lengthAdjust="spacingAndGlyphs">1</text>
<text x="447.6" y="157.8" font-family="'Liberation Serif', 'Times New Roman', serif" font-size="9.5" text-anchor="middle" stroke="#000" stroke-width="0.15"><tspan font-weight="bold">x</tspan> (m)</text>
<text transform="translate(361,70.8) rotate(-90)" font-family="'Liberation Serif', 'Times New Roman', serif" font-size="10" text-anchor="middle"><tspan font-style="italic">f</tspan> (kHz)</text>
<g clip-path="url(#clipd)">
<rect x="45.2" y="188" width="4.6" height="64" fill="#a8e4c8"/>
<polyline points="25,218.7 25.2,207.3 25.5,220 25.7,206.3 26,223 26.2,209.9 26.5,225.3 26.7,210.8 27,223.6 27.2,210.7 27.5,226.4 27.7,211 28,227.6 28.2,212.6 28.5,227.7 28.7,214 29,226.9 29.2,215.8 29.4,229.2 29.7,217.4 29.9,231.5 30.2,215.3 30.4,231 30.7,215.8 30.9,234 31.2,218.4 31.4,233.3 31.7,220.7 31.9,233.5 32.2,220.1 32.4,234.9 32.7,220 32.9,237.4 33.2,220.6 33.4,235.8 33.6,221.4 33.9,237.8 34.1,221.5 34.4,236.9 34.6,222.9 34.9,239.7 35.1,226.3 35.4,239.6 35.6,226.9 35.9,240 36.1,227.3 36.4,242.7 36.6,227.4 36.9,242 37.1,229.3 37.4,243.2 37.6,229.1 37.8,245.1 38.1,229.1 38.3,244.9 38.6,229 38.8,243.8 39.1,230.5 39.3,244 39.6,232 39.8,246.1 40.1,232.9 40.3,246.5 40.6,231.9 40.8,248.1 41.1,232.9 41.3,249 41.6,233.1 41.8,247.6 42,234.2 42.3,249.4 42.5,235.3 42.8,249.4 43,237.3 43.3,252.7 43.5,238.6 43.8,250.5 44,239.5 44.3,252.6 44.5,237.5 44.8,254.6 45,241 45.3,254 45.5,239 45.8,253.5 46,241.3" fill="none" stroke="#12a874" stroke-width="0.7" stroke-linejoin="round"/>
<polyline points="25.3,235.1 25.5,207.6 25.8,236.2 26,206.6 26.3,238.7 26.5,211 26.8,235.8 27,208.7 27.3,236.8 27.5,210.1 27.8,238.8 28,207.5 28.3,238.8 28.5,205.8" fill="none" stroke="#12a874" stroke-width="0.7" stroke-linejoin="round"/>
<polyline points="32,243.1 32.3,236.4 32.6,244.2 32.9,236.3 33.2,243.5 33.5,236.1 33.8,244.1 34.1,237 34.4,244.7 34.7,236.8 35,244 35.2,237.7 35.5,245.3 35.8,237.9 36.1,245.6 36.4,237.8 36.7,244.2 37,236.8 37.3,245 37.6,238.2 37.9,245.9 38.2,238 38.5,244.6 38.8,238 39.1,244.8 39.4,237.7 39.7,245.8 40,238.1 40.3,246 40.6,238.2 40.9,244.7 41.2,238.8 41.5,245.9 41.8,238.5 42,244.9 42.3,238.9 42.6,245 42.9,239.2 43.2,245.9 43.5,240 43.8,245.6 44.1,239.7 44.4,246.2 44.7,240.3 45,246.3" fill="none" stroke="#12a874" stroke-width="0.7" stroke-linejoin="round"/>
<polyline points="49.8,207.8 50,188.2 50.2,209.5 50.5,189.8 50.7,207.7 50.9,188.9 51.1,208.2 51.4,190.3 51.6,208.5 51.8,190.2 52,207.6 52.3,189.1 52.5,209.6 52.7,188.7 52.9,210.8 53.2,188.7 53.4,207.8 53.6,190.9 53.8,210.6 54.1,190.1 54.3,209.3 54.5,190.1 54.7,208.7 55,189.1 55.2,207.7 55.4,189.6 55.6,208.8 55.9,190.2 56.1,210.4 56.3,188.2 56.5,209.6 56.8,190.6 57,208.2 57.2,190.5 57.4,210.6 57.7,191.2 57.9,208.2 58.1,191 58.3,209.2 58.6,191.2 58.8,210.8 59,188.1 59.2,210.9 59.5,188.9 59.7,210.1 59.9,188.6 60.1,209 60.3,188.1 60.6,209 60.8,188.6 61,208.7 61.2,188.1 61.5,209.9 61.7,191.2 61.9,209.1 62.1,190.8 62.4,208.7 62.6,190.1 62.8,210.3 63,190 63.3,210.9 63.5,190.8 63.7,207.7 63.9,190.9 64.2,210.8 64.4,189.2 64.6,209.9 64.8,188.4 65.1,208.8 65.3,190.8 65.5,209.9 65.7,191 66,208.2 66.2,188.4 66.4,208.4 66.6,191 66.9,210.3 67.1,190 67.3,208.8 67.5,190.1 67.8,210.7 68,190.3 68.2,208.8 68.4,190.8 68.7,208.2 68.9,189.1 69.1,208.5 69.3,191 69.6,207.9 69.8,188.6 70,210.9 70.2,190.2 70.5,210.3 70.7,189.9 70.9,207.7 71.1,189.3 71.3,210.1 71.6,189.6 71.8,208.7 72,188.3 72.2,209.7 72.5,188.5 72.7,208.7 72.9,190.9 73.1,209.7 73.4,189.3 73.6,209.1 73.8,188.7 74,210.1 74.3,189.1 74.5,209.4 74.7,188.3 74.9,208.4 75.2,190 75.4,210 75.6,188.3 75.8,208.4 76.1,188.5 76.3,210.5 76.5,188.5 76.7,210.7 77,191.1 77.2,210.1 77.4,189.1 77.6,208.1 77.9,190.1 78.1,210.4 78.3,189.5 78.5,208 78.8,189.3 79,208.5 79.2,188.3 79.4,208.5 79.7,190.7 79.9,208.2 80.1,190.3 80.3,209.7 80.6,188.2 80.8,209.2 81,190.6" fill="none" stroke="#12a874" stroke-width="0.7" stroke-linejoin="round"/>
<polyline points="49,222.4 49.3,209.9 49.6,225.4 49.9,215.6 50.2,228.4 50.5,217.7 50.8,234.8 51.1,224 51.4,237.4 51.6,227.8 51.9,240.4 52.2,232.7 52.5,245 52.8,236.3 53.1,250.6 53.4,239.9 53.7,255.4 54,244.4" fill="none" stroke="#12a874" stroke-width="0.7" stroke-linejoin="round"/>
<polyline points="48.4,188 48.4,293.4" fill="none" stroke="#12a874" stroke-width="1.2" stroke-linejoin="round"/>
<polyline points="78.6,229 78.9,216.3 79.2,232.2 79.5,217.9 79.8,234.2 80,219.6 80.3,234.7 80.6,224.2 80.9,238.1 81.2,227.1 81.5,239.1 81.8,229.5 82.1,240.8 82.4,233.8 82.7,243.9 82.9,234.8 83.2,245 83.5,239.5 83.8,248.2 84.1,241.8 84.4,248.9 84.7,244.9 85,251.9 85.3,246.6 85.6,252.8 85.8,249.6 86.1,255.6 86.4,253 86.7,257.3 87,256" fill="none" stroke="#12a874" stroke-width="0.7" stroke-linejoin="round"/>
<polyline points="84,262 166,287.3" fill="none" stroke="#12a874" stroke-width="1.0" stroke-linejoin="round"/>
<polyline points="85,262 85.3,257.3 85.7,262.2 86,257.9 86.4,262.5 86.7,258.4 87.1,262.7 87.4,259 87.8,262.9 88.1,259.5 88.5,263.2 88.8,260.1 89.2,263.4 89.5,260.6 89.9,263.6 90.2,261.1 90.6,263.9 90.9,261.6 91.3,264.1 91.6,262.1 92,264.3 92.3,262.6 92.7,264.6 93,263.1 93.4,264.8 93.7,263.6 94.1,265 94.4,264 94.8,265.3 95.1,264.5 95.5,265.5 95.8,264.9 96.2,265.7 96.5,265.3 96.9,266 97.2,265.7 97.6,266.2 97.9,266.1 98.3,266.4 98.6,266.4 99,266.7 99.3,266.7 99.7,266.9" fill="none" stroke="#12a874" stroke-width="0.7" stroke-linejoin="round"/>
<polyline points="30,217.8 30.4,213.8 30.8,219.1 31.2,214.9 31.6,220.7 32,215.9 32.3,222.2 32.7,217 33.1,223.3 33.5,218.9 33.9,224.5 34.3,219.3 34.7,225.2 35.1,221.7 35.5,226.7 35.9,222.2 36.2,228.8 36.6,223.5 37,230.6 37.4,224.6 37.8,231.4 38.2,226 38.6,233.3 39,228.4 39.4,234.3 39.8,228.7 40.1,235.4 40.5,230.2 40.9,237 41.3,231.5 41.7,238.4 42.1,233.4 42.5,239.8 42.9,234.3 43.3,240.8 43.7,236.4 44,243.2 44.4,236.6 44.8,244.7 45.2,239.2 45.6,244.8 46,239.4" fill="none" stroke="#e8207a" stroke-width="0.7" stroke-linejoin="round"/>
<polyline points="49.5,217.4 50,216.8 50.4,213.4 50.9,207.2 51.3,212.5 51.8,211.3 52.2,216.5 52.7,223 53.1,214.9 53.6,210.9 54,209.3 54.5,213.8 54.9,213.3 55.4,209.4 55.8,214.5 56.3,209.4 56.7,218.4 57.2,218.3 57.6,218.3 58.1,212.1 58.5,216.1 59,213.5 59.4,212.4 59.9,212.6" fill="none" stroke="#e8207a" stroke-width="0.6" stroke-linejoin="round"/>
<polyline points="60,204.7 60.6,202.2 61.2,208.4 61.8,206.6 62.4,210.4 63,215.9 63.6,210.6 64.2,215.3 64.8,218.4 65.4,217.6 66,212.6 66.6,213.6 67.2,208.4 67.8,202.5 68.4,203.5 69,210.4 69.6,212.2 70.2,208.3 70.8,220.7 71.4,219.7 72,221.6 72.6,214.4 73.2,211.7 73.8,206 74.4,214.6 75,205.5 75.6,211.5 76.2,207 76.8,212.5 77.4,210.1" fill="none" stroke="#e8207a" stroke-width="0.5" stroke-linejoin="round"/>
<polyline points="56,191.5 56.5,196.9 57,188 57.5,197.3 58,194.3 58.5,188.8 59,191 59.5,191.2 60,192.8 60.5,190.9 61,189.7 61.5,191.8 62,188.9 62.5,187.8 63,192.8 63.5,196.5 64,186.9 64.5,193 65,190.4 65.5,189.1 66,196.4 66.5,190.9 67,199 67.5,189.9" fill="none" stroke="#f4b8d4" stroke-width="0.6" stroke-linejoin="round"/>
<polyline points="79.5,222.6 79.7,193.2 80,224.8 80.2,192.8 80.5,225 80.7,194.5 81,225.2 81.2,192.5 81.5,222.4 81.7,193 82,225.7 82.2,195.8 82.4,225.5 82.7,196.1 82.9,222.4 83.2,193.2 83.4,223.1 83.7,190.3 83.9,225.7 84.2,196.9 84.4,224.3 84.6,194.7 84.9,223.8 85.1,195.9 85.4,224.5 85.6,194.1 85.9,227.6 86.1,193.4 86.4,226.9 86.6,194.7 86.9,221.7 87.1,194.3 87.3,225.9 87.6,194.7 87.8,225 88.1,199.2 88.3,222.8 88.6,195.2 88.8,227.5 89.1,199.1 89.3,225.9 89.5,197.9 89.8,229.1 90,199.4 90.3,227.4 90.5,196.9 90.8,228.4 91,196.6 91.3,223.9 91.5,199.7 91.8,226.5 92,199.5" fill="none" stroke="#e8207a" stroke-width="0.7" stroke-linejoin="round"/>
<polyline points="93,252 93,318" fill="none" stroke="#e8207a" stroke-width="1.1" stroke-linejoin="round"/>
<polyline points="93,254.4 93.3,240.7 93.6,255.6 93.9,241.7 94.2,256.9 94.5,244.5 94.8,255.9 95.1,243.5 95.4,256.5 95.7,246.7 96,257.6 96.3,245.5 96.6,257.2 96.9,246.8 97.2,257.6 97.5,248 97.8,257.9 98.1,248.5 98.4,258.4 98.7,249.8 99,258.3 99.3,249.8 99.6,257.8 99.9,250.7 100.2,259.3 100.5,251.3 100.8,259.9 101.1,252.3 101.4,258.8 101.7,253.3 102,259.9 102.3,253 102.6,259.8 102.9,254.5 103.2,259.8 103.5,255.3 103.8,259.7 104.1,255.4 104.4,259.8 104.7,256 105,260.4 105.3,256 105.6,260.5 105.9,256.8 106.2,260.9 106.5,257.2 106.8,260.6 107.1,257.4 107.4,261.1 107.7,257.9 108,261.2 108.3,258.9 108.6,261.5 108.9,258.9 109.2,261.6 109.5,259.4 109.8,261.8 110.1,259.8 110.4,261.9 110.7,260.2 111,261.8 111.3,260.5 111.6,262.1 111.9,261 112.2,262.3 112.5,261.5 112.8,262.6 113.1,261.8 113.4,262.6 113.7,262.1 114,263 114.3,262.4 114.6,263.1 114.9,262.7 115.2,263.4 115.5,263.1 115.8,263.5 116.1,263.3 116.4,263.8 116.7,263.6 117,263.9 117.3,263.9 117.6,264.2 117.9,264.2 118.2,264.4 118.5,264.5 118.8,264.6 119.1,264.7 119.4,264.9 119.7,265 120,265.1 120.3,265.2 120.6,265.3 120.9,265.5" fill="none" stroke="#e8207a" stroke-width="0.7" stroke-linejoin="round"/>
<polyline points="118,265.4 166,275.4" fill="none" stroke="#e8207a" stroke-width="1.0" stroke-linejoin="round"/>
<polyline points="25.5,186.9 25.8,189.8 26,192.1 26.3,193.9 26.5,194.8 26.8,195 27.1,194.5 27.3,193.9 27.6,193.6 27.8,193.9 28.1,195.1 28.4,196.8 28.6,198.9 28.9,200.9 29.1,202.4 29.4,203.1 29.7,203.1 29.9,202.5 30.2,201.7 30.4,201.3 30.7,201.5 30.9,202.5 31.2,204.2 31.5,206.2 31.7,208.1 32,209.5 32.2,210.1 32.5,210 32.8,209.4 33,208.6 33.3,208.1 33.5,208.2 33.8,209.2 34.1,210.8 34.3,212.7 34.6,214.6 34.8,216 35.1,216.6 35.4,216.4 35.6,215.7 35.9,214.9 36.1,214.3 36.4,214.5 36.7,215.4 36.9,216.9 37.2,218.9 37.4,220.7 37.7,222.1 38,222.6 38.2,222.5 38.5,221.7 38.7,220.9 39,220.3 39.3,220.4 39.5,221.3 39.8,222.8 40,224.7 40.3,226.5 40.6,227.9 40.8,228.4 41.1,228.2 41.3,227.5 41.6,226.6 41.8,226 42.1,226.1 42.4,226.9 42.6,228.4 42.9,230.3 43.1,232.1 43.4,233.4 43.7,234 43.9,233.8 44.2,233 44.4,232.1 44.7,231.5 45,231.5 45.2,232.4 45.5,233.9 45.7,235.8 46,237.6" fill="none" stroke="#3a3ae6" stroke-width="1.0" stroke-linejoin="round"/>
<polyline points="27.1,187.2 27.4,189.3 27.6,191.9 27.9,194.6 28.1,196.7 28.4,197.4 28.7,196.7 28.9,195.1 29.2,193.7 29.4,193.5 29.7,194.9 30,197.7 30.2,200.9 30.5,203.4 30.7,204.5 31,204.1 31.3,203 31.5,202 31.8,201.7 32,202.4 32.3,203.7 32.5,205 32.8,206.1 33.1,206.9 33.3,207.9 33.6,209 33.8,210.3 34.1,211.4 34.4,211.7 34.6,211 34.9,209.8 35.1,208.7 35.4,208.8 35.7,210.4 35.9,213.1 36.2,216.2 36.4,218.4 36.7,218.9 37,217.9 37.2,216 37.5,214.5 37.7,214 38,215.1 38.3,217.1 38.5,219.4 38.8,221.1 39,222 39.3,222.2 39.6,222.2 39.8,222.3 40.1,222.6 40.3,222.8 40.6,222.8 40.9,222.5 41.1,222.3 41.4,222.8 41.6,224.2 41.9,226.5 42.2,228.9 42.4,230.6 42.7,230.7 42.9,229.4 43.2,227.4 43.4,225.8 43.7,225.6 44,227.1 44.2,229.7 44.5,232.6 44.7,234.6 45,235.2 45.3,234.6 45.5,233.5 45.8,232.6 46,232.5 46.3,233 46.6,233.9 46.8,234.8 47.1,235.4 47.3,236.1 47.6,237.1" fill="none" stroke="#8a2ab0" stroke-width="0.9" stroke-linejoin="round"/>
<polyline points="33.9,205.3 34.1,206.4 34.4,207.2 34.7,207.9 34.9,208.6 35.2,209.5 35.4,210.6 35.7,211.6 36,212.3 36.2,212.4 36.5,212 36.7,211.2 37,210.8 37.3,211.2 37.5,212.7 37.8,215.1 38,217.6 38.3,219.6 38.6,220.3 38.8,219.6 39.1,217.9 39.3,216 39.6,214.9 39.9,215.4 40.1,217.4 40.4,220.6 40.6,223.8 40.9,226 41.2,226.5 41.4,225.4 41.7,223.3 41.9,221.3 42.2,220.3 42.5,220.9 42.7,223 43,225.9 43.2,228.6 43.5,230.4 43.8,230.8 44,230 44.3,228.6 44.5,227.5 44.8,227.1 45,227.8 45.3,229.2 45.6,230.8 45.8,232.3 46.1,233.2 46.3,233.6 46.6,233.8 46.9,234 47.1,234.4 47.4,234.9 47.6,235.3 47.9,235.4 48.2,235.4 48.4,235.2 48.7,235.3 48.9,236.1 49.2,237.6" fill="none" stroke="#e8207a" stroke-width="0.9" stroke-linejoin="round"/>
<polyline points="45,238 47.2,213.7 49.5,250.7 50.8,212.4 52.1,233.7 53.8,209.9 55.6,238.7 58.1,221.8 60.5,238.1 62.2,217.9 63.9,250.8 65.4,207.1 66.8,249.3 69,209.3 71.1,249.6 73.6,210.4 76.1,237.9 77.4,211.3 78.7,247.5 80.6,220 82.5,234.6 84.2,196.3 86,240.4 87.7,196.7 89.4,238.2 91,200.9 92.6,238.5 94.1,199.6 95.5,242.9 97.9,194.1 100.3,248.9 102.6,191 105,250.1 107.6,191.1 110.1,240.4 112.5,193.7 114.9,242.9" fill="none" stroke="#3a3ae6" stroke-width="0.8" stroke-linejoin="round"/>
<polyline points="83.2,236 83.2,318" fill="none" stroke="#3a3ae6" stroke-width="1.5" stroke-linejoin="round"/>
<polyline points="113,243 113.2,247.7 113.4,250.9 113.6,251.8 113.9,250.3 114.1,246.9 114.3,242.9 114.5,239.5 114.7,237.9 114.9,238.6 115.2,241.5 115.4,245.6 115.6,249.8 115.8,252.7 116,253.7 116.2,252.4 116.5,249.4 116.7,245.7 116.9,242.6 117.1,241 117.3,241.4 117.5,243.9 117.8,247.5 118,251.3 118.2,254.1 118.4,255.1 118.6,254.1 118.8,251.5 119.1,248.2 119.3,245.3 119.5,243.7 119.7,244 119.9,246.1 120.1,249.3 120.4,252.7 120.6,255.3 120.8,256.3 121,255.6 121.2,253.4 121.4,250.5 121.7,247.9 121.9,246.4 122.1,246.5 122.3,248.2 122.5,251 122.7,254 123,256.4 123.2,257.4 123.4,256.9 123.6,255.1 123.8,252.6 124,250.3 124.3,248.9 124.5,248.9 124.7,250.3 124.9,252.6 125.1,255.3 125.3,257.4 125.6,258.4 125.8,258.1 126,256.6 126.2,254.5 126.4,252.6 126.6,251.3 126.9,251.2 127.1,252.3 127.3,254.3 127.5,256.6 127.7,258.4 127.9,259.4 128.2,259.2 128.4,258.1 128.6,256.4 128.8,254.7 129,253.7 129.2,253.6 129.5,254.4 129.7,256 129.9,257.8 130.1,259.4 130.3,260.2 130.5,260.2 130.8,259.4 131,258.1 131.2,256.8 131.4,255.9 131.6,255.8 131.8,256.5 132.1,257.7 132.3,259.1 132.5,260.4 132.7,261.1 132.9,261.1 133.1,260.6 133.4,259.7 133.6,258.8 133.8,258.2 134,258.1 134.2,258.6 134.4,259.4 134.7,260.5 134.9,261.4 135.1,261.9 135.3,262 135.5,261.7 135.7,261.2 136,260.6 136.2,260.3 136.4,260.3 136.6,260.6" fill="none" stroke="#3a3ae6" stroke-width="0.8" stroke-linejoin="round"/>
<polyline points="136.6,261.6 166,268.2" fill="none" stroke="#3a3ae6" stroke-width="1.0" stroke-linejoin="round"/>
<polyline points="31,217.8 31.4,216.9 31.8,216 32.2,215.9 32.6,217.1 33,219.3 33.4,221.7 33.8,223.3 34.2,223.6 34.6,222.8 35,221.6 35.4,220.9 35.8,221.5 36.2,223.2 36.6,225.4 37,227 37.4,227.6 37.8,226.9 38.2,225.6 38.5,224.6 38.9,224.6 39.3,225.8 39.7,227.7 40.1,229.5 40.5,230.3 40.9,229.9 41.3,228.6 41.7,227.4 42.1,226.9 42.5,227.6 42.9,229.2 43.3,231 43.7,232.1 44.1,232 44.5,230.9 44.9,229.5 45.3,228.7 45.7,228.9 46.1,230.2 46.5,231.9 46.9,233.2 47.3,233.4 47.7,232.6 48.1,231.2 48.5,230.1 48.9,230 49.3,230.9 49.7,232.5 50.1,233.9 50.5,234.5 50.9,233.9 51.3,232.7 51.7,231.4 52.1,230.9 52.5,231.4 52.8,232.8 53.2,234.3 53.6,235.2 54,235 54.4,233.9 54.8,232.5 55.2,231.7 55.6,231.9 56,233 56.4,234.5 56.8,235.6 57.2,235.7 57.6,234.9 58,233.5 58.4,232.5 58.8,232.3 59.2,233.1 59.6,234.6 60,235.8 60.4,236.3 60.8,235.7 61.2,234.5 61.6,233.3 62,232.8 62.4,233.3 62.8,234.6 63.2,235.9 63.6,236.7 64,236.4 64.4,235.3 64.8,234.1 65.2,233.3 65.6,233.5 66,234.5 66.4,235.9 66.8,236.9 67.2,237 67.5,236.1 67.9,234.9 68.3,233.9 68.7,233.7 69.1,234.5 69.5,235.9 69.9,237 70.3,237.4 70.7,236.8 71.1,235.6 71.5,234.5 71.9,234.1 72.3,234.6 72.7,235.8 73.1,237 73.5,237.7 73.9,237.4 74.3,236.4 74.7,235.2 75.1,234.5 75.5,234.7 75.9,235.7 76.3,237 76.7,237.9 77.1,238 77.5,237.1 77.9,235.9 78.3,235 78.7,234.9 79.1,235.6 79.5,236.9 79.9,238 80.3,238.4 80.7,237.8 81.1,236.6 81.5,235.6 81.8,235.2 82.2,235.7 82.6,236.8 83,238 83.4,238.7 83.8,238.4 84.2,237.4 84.6,236.2 85,235.5 85.4,235.7 85.8,236.7 86.2,238 86.6,238.8 87,238.8 87.4,237.9 87.8,236.7 88.2,235.8 88.6,235.7 89,236.4 89.4,237.6 89.8,238.6 90.2,238.9 90.6,238.3 91,237.2 91.4,236.1 91.8,235.7 92.2,236.2 92.6,237.3 93,238.4 93.4,239 93.8,238.6 94.2,237.6 94.6,236.5 95,235.8 95.4,236 95.8,236.9 96.2,238.1 96.5,238.9 96.9,238.9 97.3,238 97.7,236.9 98.1,236 98.5,235.9 98.9,236.6 99.3,237.8 99.7,238.8 100.1,239 100.5,238.4 100.9,237.3 101.3,236.3 101.7,235.9 102.1,236.4 102.5,237.5 102.9,238.6 103.3,239.1 103.7,238.7 104.1,237.7 104.5,236.6 104.9,236 105.3,236.2 105.7,237.1 106.1,238.3 106.5,239 106.9,239 107.3,238.1 107.7,237 108.1,236.1 108.5,236.1 108.9,236.8 109.3,238 109.7,238.9 110.1,239.1 110.5,238.5 110.8,237.4 111.2,236.4 111.6,236 112,236.5 112.4,237.6 112.8,238.7 113.2,239.2 113.6,238.8 114,237.8 114.4,236.7 114.8,236.1 115.2,236.4 115.6,237.3 116,238.4 116.4,239.2 116.8,239.1 117.2,238.2 117.6,237.1 118,236.3" fill="none" stroke="#000000" stroke-width="1.0" stroke-linejoin="round"/>
<polyline points="117.5,238 118.5,228 119.7,216.2 120.9,228 122,239.4 126.5,243.7 128.2,243.8 128.6,188 129,244 133.7,245.1 136.6,258 136.6,270.3 137.3,252" fill="none" stroke="#000000" stroke-width="0.9" stroke-linejoin="round"/>
<polyline points="137.3,247.8 137.5,247.2 137.7,246.9 137.9,246.9 138.1,247.3 138.3,247.8 138.5,248.6 138.7,249.6 139,250.7 139.2,251.9 139.4,253 139.6,254.1 139.8,255.1 140,256 140.2,256.6 140.4,257.1 140.6,257.4 140.8,257.5 141,257.3 141.2,257 141.4,256.6 141.6,256 141.8,255.3 142,254.5 142.3,253.8 142.5,253 142.7,252.3 142.9,251.7 143.1,251.2 143.3,250.8 143.5,250.5 143.7,250.4 143.9,250.4 144.1,250.5 144.3,250.7 144.5,251.1 144.7,251.5 144.9,252 145.1,252.6 145.4,253.2 145.6,253.8 145.8,254.3 146,254.9 146.2,255.4 146.4,255.8 146.6,256.1 146.8,256.4 147,256.6 147.2,256.7 147.4,256.7 147.6,256.6 147.8,256.4 148,256.2 148.2,256 148.4,255.7 148.7,255.4 148.9,255 149.1,254.7 149.3,254.4 149.5,254.1 149.7,253.8 149.9,253.6 150.1,253.4 150.3,253.2 150.5,253.1 150.7,253.1 150.9,253.1 151.1,253.2 151.3,253.3 151.5,253.5 151.8,253.7 152,253.9 152.2,254.2 152.4,254.4 152.6,254.7 152.8,255 153,255.3 153.2,255.5 153.4,255.8 153.6,256 153.8,256.2 154,256.4 154.2,256.5 154.4,256.6 154.6,256.7 154.9,256.8 155.1,256.8 155.3,256.8 155.5,256.7 155.7,256.7 155.9,256.6 156.1,256.5 156.3,256.4 156.5,256.3 156.7,256.2 156.9,256 157.1,255.9 157.3,255.8 157.5,255.7 157.7,255.6 157.9,255.6 158.2,255.5 158.4,255.5 158.6,255.4 158.8,255.4 159,255.5 159.2,255.5 159.4,255.5 159.6,255.6 159.8,255.7 160,255.8 160.2,255.9 160.4,256 160.6,256.1 160.8,256.3 161,256.4 161.3,256.5 161.5,256.6 161.7,256.8 161.9,256.9 162.1,257 162.3,257.1 162.5,257.2 162.7,257.3 162.9,257.4 163.1,257.5 163.3,257.5 163.5,257.6 163.7,257.6 163.9,257.7 164.1,257.7 164.3,257.7 164.6,257.7 164.8,257.7 165,257.7 165.2,257.7 165.4,257.7 165.6,257.7 165.8,257.7 166,257.6" fill="none" stroke="#000000" stroke-width="0.9" stroke-linejoin="round"/>
<polyline points="24.3,186.7 25.2,188.2 26.1,189.5 27,190.8 27.8,191.9 28.7,193 29.6,193.9 30.5,194.8 31.4,195.7 32.3,196.4 33.2,197.1 34.1,197.7 34.9,198.3 35.8,198.9 36.7,199.4 37.6,199.8 38.5,200.2 39.4,200.6 40.3,201 41.2,201.3 42,201.6 42.9,201.9 43.8,202.1 44.7,202.4 45.6,202.6 46.5,202.8 47.4,203 48.3,203.1 49.1,203.3 50,203.4 50.9,203.5 51.8,203.7 52.7,203.8 53.6,203.9 54.5,204 55.4,204.1 56.2,204.1 57.1,204.2 58,204.3 58.9,204.3 59.8,204.4 60.7,204.4 61.6,204.5 62.5,204.5 63.3,204.6 64.2,204.6 65.1,204.6 66,204.7 66.9,204.7 67.8,204.7 68.7,204.8 69.6,204.8 70.4,204.8 71.3,204.8 72.2,204.8 73.1,204.8 74,204.9 74.9,204.9 75.8,204.9 76.7,204.9 77.5,204.9 78.4,204.9 79.3,204.9 80.2,204.9 81.1,204.9 82,205 82.9,205 83.8,205 84.6,205 85.5,205 86.4,205 87.3,205 88.2,205 89.1,205 90,205 90.9,205 91.7,205 92.6,205 93.5,205 94.4,205 95.3,205 96.2,205 97.1,205 98,205 98.8,205 99.7,205 100.6,205 101.5,205 102.4,205 103.3,205 104.2,205 105.1,205 105.9,205 106.8,205 107.7,205 108.6,205 109.5,205 110.4,205 111.3,205 112.2,205 113,205 113.9,205 114.8,205 115.7,205 116.6,205 117.5,205 118.4,205 119.3,205 120.1,205 121,205 121.9,205 122.8,205 123.7,205 124.6,205 125.5,205 126.4,205 127.2,205 128.1,205 129,205 129.9,205 130.8,205 131.7,205 132.6,205 133.5,205 134.3,205 135.2,205 136.1,205 137,205 137.9,205 138.8,205 139.7,205 140.6,205 141.4,205 142.3,205 143.2,205 144.1,205 145,205 145.9,205 146.8,205 147.7,205 148.5,205 149.4,205 150.3,205 151.2,205 152.1,205 153,205 153.9,205 154.8,205 155.6,205 156.5,205 157.4,205 158.3,205 159.2,205 160.1,205 161,205 161.9,205 162.7,205 163.6,205 164.5,205 165.4,205" fill="none" stroke="#000" stroke-width="1.15" stroke-dasharray="5 0.6 0.9 0.6" stroke-linejoin="round"/>
<polyline points="24.3,292.9 25.2,291.3 26.1,289.8 27,288.3 27.8,287 28.7,285.8 29.6,284.6 30.5,283.6 31.4,282.6 32.3,281.6 33.2,280.8 34.1,279.9 34.9,279.2 35.8,278.5 36.7,277.8 37.6,277.2 38.5,276.6 39.4,276.1 40.3,275.6 41.2,275.1 42,274.7 42.9,274.3 43.8,273.9 44.7,273.6 45.6,273.2 46.5,272.9 47.4,272.7 48.3,272.4 49.1,272.1 50,271.9 50.9,271.7 51.8,271.5 52.7,271.3 53.6,271.1 54.5,271 55.4,270.8 56.2,270.7 57.1,270.5 58,270.4 58.9,270.3 59.8,270.2 60.7,270.1 61.6,270 62.5,269.9 63.3,269.8 64.2,269.8 65.1,269.7 66,269.6 66.9,269.6 67.8,269.5 68.7,269.5 69.6,269.4 70.4,269.4 71.3,269.3 72.2,269.3 73.1,269.2 74,269.2 74.9,269.2 75.8,269.1 76.7,269.1 77.5,269.1 78.4,269.1 79.3,269 80.2,269 81.1,269 82,269 82.9,269 83.8,268.9 84.6,268.9 85.5,268.9 86.4,268.9 87.3,268.9 88.2,268.9 89.1,268.9 90,268.9 90.9,268.9 91.7,268.8 92.6,268.8 93.5,268.8 94.4,268.8 95.3,268.8 96.2,268.8 97.1,268.8 98,268.8 98.8,268.8 99.7,268.8 100.6,268.8 101.5,268.8 102.4,268.8 103.3,268.8 104.2,268.8 105.1,268.8 105.9,268.8 106.8,268.8 107.7,268.8 108.6,268.8 109.5,268.8 110.4,268.8 111.3,268.8 112.2,268.7 113,268.7 113.9,268.7 114.8,268.7 115.7,268.7 116.6,268.7 117.5,268.7 118.4,268.7 119.3,268.7 120.1,268.7 121,268.7 121.9,268.7 122.8,268.7 123.7,268.7 124.6,268.7 125.5,268.7 126.4,268.7 127.2,268.7 128.1,268.7 129,268.7 129.9,268.7 130.8,268.7 131.7,268.7 132.6,268.7 133.5,268.7 134.3,268.7 135.2,268.7 136.1,268.7 137,268.7 137.9,268.7 138.8,268.7 139.7,268.7 140.6,268.7 141.4,268.7 142.3,268.7 143.2,268.7 144.1,268.7 145,268.7 145.9,268.7 146.8,268.7 147.7,268.7 148.5,268.7 149.4,268.7 150.3,268.7 151.2,268.7 152.1,268.7 153,268.7 153.9,268.7 154.8,268.7 155.6,268.7 156.5,268.7 157.4,268.7 158.3,268.7 159.2,268.7 160.1,268.7 161,268.7 161.9,268.7 162.7,268.7 163.6,268.7 164.5,268.7 165.4,268.7" fill="none" stroke="#000" stroke-width="1.15" stroke-dasharray="5 0.6 0.9 0.6" stroke-linejoin="round"/>
<polyline points="24.9,317.1 24.9,292.9" fill="none" stroke="#000" stroke-width="1.0" stroke-dasharray="5 0.6 0.9 0.6" stroke-linejoin="round"/>
<polyline points="24.3,236.5 165.4,236.5" fill="none" stroke="#000" stroke-width="1.15" stroke-dasharray="5 0.6 0.9 0.6" stroke-linejoin="round"/>
</g>
<rect x="24.3" y="188.1" width="141.1" height="129" fill="none" stroke="#000" stroke-width="1.0"/>
<path d="M24.3 317.1v-3.0M24.3 188.1v3.0M31.4 317.1v-1.6M31.4 188.1v1.6M38.4 317.1v-1.6M38.4 188.1v1.6M45.5 317.1v-1.6M45.5 188.1v1.6M52.5 317.1v-3.0M52.5 188.1v3.0M59.6 317.1v-1.6M59.6 188.1v1.6M66.6 317.1v-1.6M66.6 188.1v1.6M73.7 317.1v-1.6M73.7 188.1v1.6M80.7 317.1v-3.0M80.7 188.1v3.0M87.8 317.1v-1.6M87.8 188.1v1.6M94.8 317.1v-1.6M94.8 188.1v1.6M101.9 317.1v-1.6M101.9 188.1v1.6M109 317.1v-3.0M109 188.1v3.0M116 317.1v-1.6M116 188.1v1.6M123.1 317.1v-1.6M123.1 188.1v1.6M130.1 317.1v-1.6M130.1 188.1v1.6M137.2 317.1v-3.0M137.2 188.1v3.0M144.2 317.1v-1.6M144.2 188.1v1.6M151.3 317.1v-1.6M151.3 188.1v1.6M158.3 317.1v-1.6M158.3 188.1v1.6M165.4 317.1v-3.0M165.4 188.1v3.0M24.3 317.1h3.0M165.4 317.1h-3.0M24.3 309h1.6M165.4 309h-1.6M24.3 301h1.6M165.4 301h-1.6M24.3 292.9h1.6M165.4 292.9h-1.6M24.3 284.8h3.0M165.4 284.8h-3.0M24.3 276.8h1.6M165.4 276.8h-1.6M24.3 268.7h1.6M165.4 268.7h-1.6M24.3 260.7h1.6M165.4 260.7h-1.6M24.3 252.6h3.0M165.4 252.6h-3.0M24.3 244.5h1.6M165.4 244.5h-1.6M24.3 236.5h1.6M165.4 236.5h-1.6M24.3 228.4h1.6M165.4 228.4h-1.6M24.3 220.3h3.0M165.4 220.3h-3.0M24.3 212.3h1.6M165.4 212.3h-1.6M24.3 204.2h1.6M165.4 204.2h-1.6M24.3 196.2h1.6M165.4 196.2h-1.6M24.3 188.1h3.0M165.4 188.1h-3.0" stroke="#000" stroke-width="0.75" fill="none"/>
<text x="22" y="319.3" font-size="6.0" font-family="'Liberation Sans', Arial, sans-serif" stroke="#000" stroke-width="0.2" text-anchor="end" font-weight="bold" textLength="6.8" lengthAdjust="spacingAndGlyphs">0.5</text>
<text x="22" y="287.1" font-size="6.0" font-family="'Liberation Sans', Arial, sans-serif" stroke="#000" stroke-width="0.2" text-anchor="end" font-weight="bold" textLength="6.8" lengthAdjust="spacingAndGlyphs">0.7</text>
<text x="22" y="254.8" font-size="6.0" font-family="'Liberation Sans', Arial, sans-serif" stroke="#000" stroke-width="0.2" text-anchor="end" font-weight="bold" textLength="6.8" lengthAdjust="spacingAndGlyphs">0.9</text>
<text x="22" y="222.5" font-size="6.0" font-family="'Liberation Sans', Arial, sans-serif" stroke="#000" stroke-width="0.2" text-anchor="end" font-weight="bold" textLength="6.8" lengthAdjust="spacingAndGlyphs">1.1</text>
<text x="22" y="190.3" font-size="6.0" font-family="'Liberation Sans', Arial, sans-serif" stroke="#000" stroke-width="0.2" text-anchor="end" font-weight="bold" textLength="6.8" lengthAdjust="spacingAndGlyphs">1.3</text>
<text x="24.3" y="323.5" font-size="6.0" font-family="'Liberation Sans', Arial, sans-serif" stroke="#000" stroke-width="0.2" text-anchor="middle" font-weight="bold" textLength="3.1" lengthAdjust="spacingAndGlyphs">0</text>
<text x="52.5" y="323.5" font-size="6.0" font-family="'Liberation Sans', Arial, sans-serif" stroke="#000" stroke-width="0.2" text-anchor="middle" font-weight="bold" textLength="7.2" lengthAdjust="spacingAndGlyphs">0.2</text>
<text x="80.7" y="323.5" font-size="6.0" font-family="'Liberation Sans', Arial, sans-serif" stroke="#000" stroke-width="0.2" text-anchor="middle" font-weight="bold" textLength="7.2" lengthAdjust="spacingAndGlyphs">0.4</text>
<text x="109" y="323.5" font-size="6.0" font-family="'Liberation Sans', Arial, sans-serif" stroke="#000" stroke-width="0.2" text-anchor="middle" font-weight="bold" textLength="7.2" lengthAdjust="spacingAndGlyphs">0.6</text>
<text x="137.2" y="323.5" font-size="6.0" font-family="'Liberation Sans', Arial, sans-serif" stroke="#000" stroke-width="0.2" text-anchor="middle" font-weight="bold" textLength="7.2" lengthAdjust="spacingAndGlyphs">0.8</text>
<text x="165.4" y="323.5" font-size="6.0" font-family="'Liberation Sans', Arial, sans-serif" stroke="#000" stroke-width="0.2" text-anchor="middle" font-weight="bold" textLength="3.1" lengthAdjust="spacingAndGlyphs">1</text>
<text x="95.4" y="330.7" font-family="'Liberation Serif', 'Times New Roman', serif" font-size="9.5" text-anchor="middle" stroke="#000" stroke-width="0.15"><tspan font-weight="bold">x</tspan> (m)</text>
<text x="3.2" y="246.2" font-family="'Liberation Serif', 'Times New Roman', serif" font-size="8.8" font-style="italic" font-weight="bold">C<tspan font-size="6.2" dy="1.6" dx="0.2">T</tspan></text>
<text x="132.2" y="200.5" font-family="'Liberation Serif', 'Times New Roman', serif" font-size="8.6" fill="#2a2aa8" stroke="#2a2aa8" stroke-width="0.25">1 + 1/<tspan font-style="italic">M</tspan><tspan font-size="5" dy="1.5" font-style="italic">e</tspan></text>
<text x="50.6" y="279.2" font-family="'Liberation Serif', 'Times New Roman', serif" font-size="8.6" fill="#2a2aa8" stroke="#2a2aa8" stroke-width="0.25">1 − 1/<tspan font-style="italic">M</tspan><tspan font-size="5" dy="1.5" font-style="italic">e</tspan></text>
<line x1="102.3" y1="288.5" x2="126.3" y2="288.5" stroke="#000" stroke-width="1.2"/>
<text x="130.6" y="290.4" font-size="5.2" font-family="'Liberation Sans', Arial, sans-serif" stroke="#000" stroke-width="0.2" textLength="20.0" lengthAdjust="spacingAndGlyphs">800 kHz</text>
<line x1="102.3" y1="295.9" x2="126.3" y2="295.9" stroke="#3a3ae6" stroke-width="1.2"/>
<text x="130.6" y="297.8" font-size="5.2" font-family="'Liberation Sans', Arial, sans-serif" stroke="#000" stroke-width="0.2" textLength="20.0" lengthAdjust="spacingAndGlyphs">900 kHz</text>
<line x1="102.3" y1="303.1" x2="126.3" y2="303.1" stroke="#e8207a" stroke-width="1.2"/>
<text x="130.6" y="305" font-size="5.2" font-family="'Liberation Sans', Arial, sans-serif" stroke="#000" stroke-width="0.2" textLength="23.0" lengthAdjust="spacingAndGlyphs">1000 kHz</text>
<line x1="102.3" y1="310.4" x2="126.3" y2="310.4" stroke="#12a874" stroke-width="1.2"/>
<text x="130.6" y="312.3" font-size="5.2" font-family="'Liberation Sans', Arial, sans-serif" stroke="#000" stroke-width="0.2" textLength="23.0" lengthAdjust="spacingAndGlyphs">1100 kHz</text>
<g clip-path="url(#clipe)">
<polyline points="201.5,175 202.4,177.5 203.2,179.7 204.1,181.8 205,183.7 205.9,185.5 206.7,187.1 207.6,188.6 208.5,189.9 209.4,191.2 210.2,192.4 211.1,193.4 212,194.4 212.8,195.3 213.7,196.1 214.6,196.9 215.5,197.6 216.3,198.2 217.2,198.8 218.1,199.4 219,199.9 219.8,200.3 220.7,200.7 221.6,201.1 222.5,201.5 223.3,201.8 224.2,202.1 225.1,202.4 225.9,202.6 226.8,202.9 227.7,203.1 228.6,203.3 229.4,203.5 230.3,203.6 231.2,203.8 232.1,203.9 232.9,204.1 233.8,204.2 234.7,204.3 235.5,204.4 236.4,204.5 237.3,204.6 238.2,204.7 239,204.7 239.9,204.8 240.8,204.9 241.7,204.9 242.5,205 243.4,205 244.3,205.1 245.1,205.1 246,205.1 246.9,205.2 247.8,205.2 248.6,205.2 249.5,205.3 250.4,205.3 251.3,205.3 252.1,205.3 253,205.3 253.9,205.4 254.8,205.4 255.6,205.4 256.5,205.4 257.4,205.4 258.2,205.4 259.1,205.4 260,205.4 260.9,205.5 261.7,205.5 262.6,205.5 263.5,205.5 264.4,205.5 265.2,205.5 266.1,205.5 267,205.5 267.8,205.5 268.7,205.5 269.6,205.5 270.5,205.5 271.3,205.5 272.2,205.5 273.1,205.5 274,205.5 274.8,205.5 275.7,205.5 276.6,205.5 277.4,205.5 278.3,205.5 279.2,205.5 280.1,205.5 280.9,205.5 281.8,205.5 282.7,205.5 283.6,205.5 284.4,205.6 285.3,205.6 286.2,205.6 287,205.6 287.9,205.6 288.8,205.6 289.7,205.6 290.5,205.6 291.4,205.6 292.3,205.6 293.2,205.6 294,205.6 294.9,205.6 295.8,205.6 296.7,205.6 297.5,205.6 298.4,205.6 299.3,205.6 300.1,205.6 301,205.6 301.9,205.6 302.8,205.6 303.6,205.6 304.5,205.6 305.4,205.6 306.3,205.6 307.1,205.6 308,205.6 308.9,205.6 309.7,205.6 310.6,205.6 311.5,205.6 312.4,205.6 313.2,205.6 314.1,205.6 315,205.6 315.9,205.6 316.7,205.6 317.6,205.6 318.5,205.6 319.3,205.6 320.2,205.6 321.1,205.6 322,205.6 322.8,205.6 323.7,205.6 324.6,205.6 325.5,205.6 326.3,205.6 327.2,205.6 328.1,205.6 329,205.6 329.8,205.6 330.7,205.6 331.6,205.6 332.4,205.6 333.3,205.6 334.2,205.6 335.1,205.6 335.9,205.6 336.8,205.6 337.7,205.6 338.6,205.6 339.4,205.6 340.3,205.6" fill="none" stroke="#000" stroke-width="1.15" stroke-dasharray="5 0.6 0.9 0.6" stroke-linejoin="round"/>
<polyline points="201.5,292.6 202.4,290.9 203.2,289.4 204.1,288 205,286.7 205.9,285.5 206.7,284.4 207.6,283.3 208.5,282.3 209.4,281.4 210.2,280.5 211.1,279.7 212,279 212.8,278.3 213.7,277.6 214.6,277 215.5,276.4 216.3,275.9 217.2,275.4 218.1,275 219,274.5 219.8,274.1 220.7,273.8 221.6,273.4 222.5,273.1 223.3,272.8 224.2,272.5 225.1,272.2 225.9,272 226.8,271.8 227.7,271.6 228.6,271.4 229.4,271.2 230.3,271 231.2,270.8 232.1,270.7 232.9,270.5 233.8,270.4 234.7,270.3 235.5,270.2 236.4,270.1 237.3,270 238.2,269.9 239,269.8 239.9,269.7 240.8,269.6 241.7,269.6 242.5,269.5 243.4,269.4 244.3,269.4 245.1,269.3 246,269.3 246.9,269.2 247.8,269.2 248.6,269.2 249.5,269.1 250.4,269.1 251.3,269.1 252.1,269 253,269 253.9,269 254.8,268.9 255.6,268.9 256.5,268.9 257.4,268.9 258.2,268.9 259.1,268.9 260,268.8 260.9,268.8 261.7,268.8 262.6,268.8 263.5,268.8 264.4,268.8 265.2,268.8 266.1,268.7 267,268.7 267.8,268.7 268.7,268.7 269.6,268.7 270.5,268.7 271.3,268.7 272.2,268.7 273.1,268.7 274,268.7 274.8,268.7 275.7,268.7 276.6,268.7 277.4,268.7 278.3,268.7 279.2,268.7 280.1,268.7 280.9,268.7 281.8,268.7 282.7,268.6 283.6,268.6 284.4,268.6 285.3,268.6 286.2,268.6 287,268.6 287.9,268.6 288.8,268.6 289.7,268.6 290.5,268.6 291.4,268.6 292.3,268.6 293.2,268.6 294,268.6 294.9,268.6 295.8,268.6 296.7,268.6 297.5,268.6 298.4,268.6 299.3,268.6 300.1,268.6 301,268.6 301.9,268.6 302.8,268.6 303.6,268.6 304.5,268.6 305.4,268.6 306.3,268.6 307.1,268.6 308,268.6 308.9,268.6 309.7,268.6 310.6,268.6 311.5,268.6 312.4,268.6 313.2,268.6 314.1,268.6 315,268.6 315.9,268.6 316.7,268.6 317.6,268.6 318.5,268.6 319.3,268.6 320.2,268.6 321.1,268.6 322,268.6 322.8,268.6 323.7,268.6 324.6,268.6 325.5,268.6 326.3,268.6 327.2,268.6 328.1,268.6 329,268.6 329.8,268.6 330.7,268.6 331.6,268.6 332.4,268.6 333.3,268.6 334.2,268.6 335.1,268.6 335.9,268.6 336.8,268.6 337.7,268.6 338.6,268.6 339.4,268.6 340.3,268.6" fill="none" stroke="#000" stroke-width="1.15" stroke-dasharray="5 0.6 0.9 0.6" stroke-linejoin="round"/>
<polyline points="202.1,316.5 202.1,292.6" fill="none" stroke="#000" stroke-width="1.0" stroke-dasharray="5 0.6 0.9 0.6" stroke-linejoin="round"/>
<polyline points="201.5,236.7 340.3,236.7" fill="none" stroke="#000" stroke-width="1.15" stroke-dasharray="5 0.6 0.9 0.6" stroke-linejoin="round"/>
<polyline points="202.5,188.8 202.7,191.3 202.8,193.9 203,196.3 203.1,198.8 203.3,201.2 203.4,203.5 203.6,205.8 203.7,208.1 203.9,210.3 204,212.5 204.2,214.6 204.3,216.7 204.5,218.7 204.6,220.7 204.8,222.6 205,224.4 205.1,222.8 205.3,228 205.4,229.8 205.6,231.5 205.7,233.2 205.9,219.2 206,218.7 206.2,218.2 206.3,239.6 206.5,241.1 206.6,242.6 206.8,244 206.9,216 207.1,215.6 207.3,215.1 207.4,249.2 207.6,250.4 207.7,251.6 207.9,252.6 208,212 208.2,211.3 208.3,210.5 208.5,256.1 208.6,256.9 208.8,257.7 208.9,258.6 209.1,206.6 209.2,206 209.4,205.4 209.6,262.4 209.7,263.5 209.9,264.7 210,266.1 210.2,204.3 210.3,204.9 210.5,206 210.6,275.2 210.8,278 210.9,280.7 211.1,283.2 211.2,222 211.4,224.6 211.5,226.6 211.7,289.3 211.9,290.2 212,291 212.2,291.8 212.3,234.8 212.5,236.2 212.6,237.6 212.8,294 212.9,294.4 213.1,294.6 213.2,294.9 213.4,243.3 213.5,244.3 213.7,245.4 213.8,295.7 214,295.9 214.1,296.1 214.3,296.3 214.5,250.6 214.6,251.6 214.8,252.6 214.9,296.8 215.1,297 215.2,297.1 215.4,297.2 215.5,257.6 215.7,258.7 215.8,259.7 216,297.6 216.1,297.7 216.3,297.8 216.4,263.8 216.6,264.8 216.8,265.8 216.9,266.9 217.1,298.3 217.2,298.4 217.4,298.5 217.5,271.2 217.7,272.3 217.8,273.4 218,274.5 218.1,299 218.3,299.1 218.4,299.2 218.6,279 218.7,280.1 218.9,281.3 219.1,282.5 219.2,299.6 219.4,299.7 219.5,299.7 219.7,287.4 219.8,288.7 220,290 220.1,291.4 220.3,300.1 220.4,300.2 220.6,300.3 220.7,297.6 220.9,299.7 221,300.5 221.2,300.6 221.4,300.7 221.5,300.8 221.7,300.9 221.8,301 222,301.1 222.1,301.2 222.3,301.3 222.4,301.4 222.6,301.5 222.7,301.6 222.9,301.7 223,301.8 223.2,301.9 223.3,302 223.5,302.1 223.7,302.2 223.8,302.3 224,302.3 224.1,302.4 224.3,302.5 224.4,302.6 224.6,302.7 224.7,302.8 224.9,302.9 225,302.9 225.2,303 225.3,303.1 225.5,303.1 225.6,303.2 225.8,303.2 226,303.3 226.1,303.3 226.3,303.4 226.4,303.4 226.6,303.5 226.7,303.5 226.9,303.6 227,303.6 227.2,303.6 227.3,303.7 227.5,303.7 227.6,303.8 227.8,303.8 227.9,303.8 228.1,303.9 228.3,303.9 228.4,304 228.6,304 228.7,304 228.9,304.1 229,304.1 229.2,304.1 229.3,304.2 229.5,304.2 229.6,304.2 229.8,304.3 229.9,304.3 230.1,304.3 230.2,304.3 230.4,304.4 230.6,304.4 230.7,304.4 230.9,304.4 231,304.4 231.2,304.5 231.3,304.5 231.5,304.5 231.6,304.5 231.8,304.5 231.9,304.5 232.1,304.5 232.2,304.5 232.4,304.5 232.5,304.5 232.7,304.5 232.8,304.5 233,304.5 233.2,304.4 233.3,304.4 233.5,304.4 233.6,304.4 233.8,304.3 233.9,304.3 234.1,304.3 234.2,304.2 234.4,304.2 234.5,304.2 234.7,304.1 234.8,304.1 235,304 235.1,304 235.3,303.9 235.5,303.9 235.6,303.8 235.8,303.7 235.9,303.7 236.1,303.6 236.2,303.5 236.4,303.5 236.5,303.4 236.7,303.3 236.8,303.3 237,303.2 237.1,303.1 237.3,303 237.4,302.9 237.6,302.9 237.8,302.8 237.9,302.7 238.1,302.6 238.2,302.5 238.4,302.4 238.5,302.3 238.7,302.2 238.8,302.1 239,302.1 239.1,302 239.3,301.9 239.4,301.8 239.6,301.7 239.7,301.6 239.9,301.5 240.1,301.4 240.2,301.3 240.4,301.2 240.5,301.1 240.7,301 240.8,300.8 241,300.7 241.1,300.6 241.3,300.5 241.4,300.4 241.6,300.3 241.7,300.2 241.9,300.1 242,300 242.2,299.9 242.4,299.8 242.5,299.7 242.7,299.6 242.8,299.5 243,299.4 243.1,299.3 243.3,299.2 243.4,299.1 243.6,298.9 243.7,298.8 243.9,298.7 244,298.6 244.2,298.5 244.3,298.4 244.5,298.3 244.7,298.2 244.8,298.1 245,298 245.1,297.9 245.3,297.8 245.4,297.7 245.6,297.6 245.7,297.5 245.9,297.4 246,297.3 246.2,297.1 246.3,297 246.5,296.9 246.6,296.8 246.8,296.6 247,296.5 247.1,296.4 247.3,296.2 247.4,296.1 247.6,296 247.7,295.8 247.9,295.7 248,295.6 248.2,295.4 248.3,295.3 248.5,295.1 248.6,295 248.8,294.8 248.9,294.7 249.1,294.5 249.3,294.4 249.4,294.2 249.6,294.1 249.7,293.9 249.9,293.8 250,293.6 250.2,293.5 250.3,293.3 250.5,293.2 250.6,293 250.8,292.9 250.9,292.7 251.1,292.6 251.2,292.5 251.4,292.3 251.6,292.2 251.7,292 251.9,291.9 252,291.7 252.2,291.6 252.3,291.5 252.5,291.3 252.6,291.2 252.8,291.1 252.9,290.9 253.1,290.8 253.2,290.7 253.4,290.5 253.5,290.4 253.7,290.3 253.8,290.2 254,290.1 254.2,290 254.3,289.9 254.5,289.7 254.6,289.6 254.8,289.5 254.9,289.4 255.1,289.4 255.2,289.3 255.4,289.2 255.5,289.1 255.7,289 255.8,288.9 256,288.8 256.1,288.7 256.3,288.6 256.5,288.5 256.6,288.4 256.8,288.3 256.9,288.2 257.1,288.2 257.2,288.1 257.4,288 257.5,287.9 257.7,287.8 257.8,287.7 258,287.6 258.1,287.5 258.3,287.4 258.4,287.4 258.6,287.3 258.8,287.2 258.9,287.1 259.1,287 259.2,286.9 259.4,286.8 259.5,286.7 259.7,286.7 259.8,286.6 260,286.5 260.1,286.4 260.3,286.3 260.4,286.2 260.6,286.2 260.7,286.1 260.9,286 261.1,285.9 261.2,285.8 261.4,285.7 261.5,285.7 261.7,285.6 261.8,285.5 262,285.4 262.1,285.3 262.3,285.3 262.4,285.2 262.6,285.1 262.7,285 262.9,285 263,284.9 263.2,284.8 263.4,284.7 263.5,284.6 263.7,284.6 263.8,284.5 264,284.4 264.1,284.4 264.3,284.3 264.4,284.2 264.6,284.1 264.7,284.1 264.9,284 265,283.9 265.2,283.9 265.3,283.8 265.5,283.7 265.7,283.7 265.8,283.6 266,283.5 266.1,283.5 266.3,283.4 266.4,283.3 266.6,283.3 266.7,283.2 266.9,283.1 267,283.1 267.2,283 267.3,282.9 267.5,282.9 267.6,282.8 267.8,282.8 268,282.7 268.1,282.7 268.3,282.6 268.4,282.5 268.6,282.5 268.7,282.4 268.9,282.4 269,282.3 269.2,282.3 269.3,282.2 269.5,282.2 269.6,282.1 269.8,282.1 269.9,282 270.1,282 270.3,281.9 270.4,281.9 270.6,281.8 270.7,281.8 270.9,281.7 271,281.7 271.2,281.6 271.3,281.6 271.5,281.6 271.6,281.5 271.8,281.5 271.9,281.4 272.1,281.4 272.2,281.4 272.4,281.3 272.5,281.3 272.7,281.3 272.9,281.2 273,281.2 273.2,281.1 273.3,281.1 273.5,281.1 273.6,281.1 273.8,281 273.9,281 274.1,281 274.2,280.9 274.4,280.9 274.5,280.9 274.7,280.8 274.8,280.8 275,280.8 275.2,280.7 275.3,280.7 275.5,280.7 275.6,280.7 275.8,280.6 275.9,280.6 276.1,280.6 276.2,280.5 276.4,280.5 276.5,280.5 276.7,280.4 276.8,280.4 277,280.4 277.1,280.4 277.3,280.3 277.5,280.3 277.6,280.3 277.8,280.3 277.9,280.2 278.1,280.2 278.2,280.2 278.4,280.2 278.5,280.1 278.7,280.1 278.8,280.1 279,280.1 279.1,280 279.3,280 279.4,280 279.6,280 279.8,280 279.9,280 280.1,279.9 280.2,279.9 280.4,279.9 280.5,279.9 280.7,279.9 280.8,279.9 281,279.9 281.1,279.8 281.3,279.8 281.4,279.8 281.6,279.8 281.7,279.8 281.9,279.8 282.1,279.8 282.2,279.8 282.4,279.8 282.5,279.8 282.7,279.8 282.8,279.8 283,279.8 283.1,279.8 283.3,279.8 283.4,279.8 283.6,279.8 283.7,279.8 283.9,279.8 284,279.8 284.2,279.8 284.4,279.8 284.5,279.8 284.7,279.8 284.8,279.8 285,279.8 285.1,279.8 285.3,279.8 285.4,279.8 285.6,279.9 285.7,279.9 285.9,279.9 286,279.9 286.2,279.9 286.3,279.9 286.5,279.9 286.7,279.9 286.8,279.9 287,279.9 287.1,279.9 287.3,279.9 287.4,279.9 287.6,279.9 287.7,279.9 287.9,280 288,280 288.2,280 288.3,280 288.5,280 288.6,280 288.8,280 289,280 289.1,280 289.3,280 289.4,280 289.6,280.1 289.7,280.1 289.9,280.1 290,280.1 290.2,280.1 290.3,280.1 290.5,280.1 290.6,280.1 290.8,280.1 290.9,280.2 291.1,280.2 291.2,280.2 291.4,280.2 291.6,280.2 291.7,280.2 291.9,280.2 292,280.2 292.2,280.3 292.3,280.3 292.5,280.3 292.6,280.3 292.8,280.3 292.9,280.3 293.1,280.3 293.2,280.3 293.4,280.4 293.5,280.4 293.7,280.4 293.9,280.4 294,280.4 294.2,280.4 294.3,280.4 294.5,280.5 294.6,280.5 294.8,280.5 294.9,280.5 295.1,280.5 295.2,280.5 295.4,280.5 295.5,280.6 295.7,280.6 295.8,280.6 296,280.6 296.2,280.6 296.3,280.6 296.5,280.6 296.6,280.7 296.8,280.7 296.9,280.7 297.1,280.7 297.2,280.7 297.4,280.7 297.5,280.8 297.7,280.8 297.8,280.8 298,280.8 298.1,280.8 298.3,280.8 298.5,280.8 298.6,280.9 298.8,280.9 298.9,280.9 299.1,280.9 299.2,280.9 299.4,280.9 299.5,281 299.7,281 299.8,281 300,281 300.1,281 300.3,281 300.4,281 300.6,281.1 300.8,281.1 300.9,281.1 301.1,281.1 301.2,281.1 301.4,281.1 301.5,281.2 301.7,281.2 301.8,281.2 302,281.2 302.1,281.2 302.3,281.2 302.4,281.3 302.6,281.3 302.7,281.3 302.9,281.3 303.1,281.3 303.2,281.4 303.4,281.4 303.5,281.4 303.7,281.4 303.8,281.4 304,281.5 304.1,281.5 304.3,281.5 304.4,281.5 304.6,281.5 304.7,281.6 304.9,281.6 305,281.6 305.2,281.6 305.4,281.7 305.5,281.7 305.7,281.7 305.8,281.7 306,281.8 306.1,281.8 306.3,281.8 306.4,281.8 306.6,281.8 306.7,281.9 306.9,281.9 307,281.9 307.2,281.9 307.3,282 307.5,282 307.7,282 307.8,282.1 308,282.1 308.1,282.1 308.3,282.1 308.4,282.2 308.6,282.2 308.7,282.2 308.9,282.2 309,282.3 309.2,282.3 309.3,282.3 309.5,282.4 309.6,282.4 309.8,282.4 310,282.4 310.1,282.5 310.3,282.5 310.4,282.5 310.6,282.5 310.7,282.6 310.9,282.6 311,282.6 311.2,282.7 311.3,282.7 311.5,282.7 311.6,282.8 311.8,282.8 311.9,282.8 312.1,282.8 312.2,282.9 312.4,282.9 312.6,282.9 312.7,283 312.9,283 313,283 313.2,283 313.3,283.1 313.5,283.1 313.6,283.1 313.8,283.2 313.9,283.2 314.1,283.2 314.2,283.2 314.4,283.3 314.5,283.3 314.7,283.3 314.9,283.4 315,283.4 315.2,283.4 315.3,283.5 315.5,283.5 315.6,283.5 315.8,283.5 315.9,283.6 316.1,283.6 316.2,283.6 316.4,283.7 316.5,283.7 316.7,283.7 316.8,283.7 317,283.8 317.2,283.8 317.3,283.8 317.5,283.9 317.6,283.9 317.8,283.9 317.9,283.9 318.1,284 318.2,284 318.4,284 318.5,284 318.7,284.1 318.8,284.1 319,284.1 319.1,284.2 319.3,284.2 319.5,284.2 319.6,284.2 319.8,284.3 319.9,284.3 320.1,284.3 320.2,284.3 320.4,284.4 320.5,284.4 320.7,284.4 320.8,284.4 321,284.5 321.1,284.5 321.3,284.5 321.4,284.6 321.6,284.6 321.8,284.6 321.9,284.6 322.1,284.7 322.2,284.7 322.4,284.7 322.5,284.7 322.7,284.8 322.8,284.8 323,284.8 323.1,284.8 323.3,284.9 323.4,284.9 323.6,284.9 323.7,285 323.9,285 324.1,285 324.2,285 324.4,285.1 324.5,285.1 324.7,285.1 324.8,285.1 325,285.2 325.1,285.2 325.3,285.2 325.4,285.2 325.6,285.3 325.7,285.3 325.9,285.3 326,285.4 326.2,285.4 326.4,285.4 326.5,285.4 326.7,285.5 326.8,285.5 327,285.5 327.1,285.5 327.3,285.6 327.4,285.6 327.6,285.6 327.7,285.7 327.9,285.7 328,285.7 328.2,285.7 328.3,285.8 328.5,285.8 328.7,285.8 328.8,285.8 329,285.9 329.1,285.9 329.3,285.9 329.4,285.9 329.6,286 329.7,286 329.9,286 330,286.1 330.2,286.1 330.3,286.1 330.5,286.1 330.6,286.2 330.8,286.2 330.9,286.2 331.1,286.2 331.3,286.3 331.4,286.3 331.6,286.3 331.7,286.4 331.9,286.4 332,286.4 332.2,286.4 332.3,286.5 332.5,286.5 332.6,286.5 332.8,286.5 332.9,286.6 333.1,286.6 333.2,286.6 333.4,286.7 333.6,286.7 333.7,286.7 333.9,286.7 334,286.8 334.2,286.8 334.3,286.8 334.5,286.8 334.6,286.9 334.8,286.9 334.9,286.9 335.1,287 335.2,287 335.4,287 335.5,287 335.7,287.1 335.9,287.1 336,287.1 336.2,287.2 336.3,287.2 336.5,287.2 336.6,287.2 336.8,287.3 336.9,287.3 337.1,287.3 337.2,287.3 337.4,287.4 337.5,287.4 337.7,287.4 337.8,287.5 338,287.5 338.2,287.5 338.3,287.5 338.5,287.6 338.6,287.6 338.8,287.6 338.9,287.6 339.1,287.7 339.2,287.7 339.4,287.7 339.5,287.8 339.7,287.8 339.8,287.8 340,287.8 340.1,287.9 340.3,287.9" fill="none" stroke="#12a874" stroke-width="1.2" stroke-linejoin="round"/>
<polyline points="203.2,188.8 203.4,190.6 203.5,192.4 203.7,194.2 203.8,195.9 204,197.6 204.1,199.3 204.3,201 204.4,202.6 204.6,204.3 204.7,205.9 204.9,207.4 205,209 205.2,210.5 205.3,211.9 205.5,213.4 205.6,214.8 205.8,215.1 205.9,215.6 206.1,216.1 206.3,216.6 206.4,221.4 206.6,222.6 206.7,223.9 206.9,218.8 207,219.4 207.2,219.9 207.3,220.5 207.5,229.7 207.6,230.8 207.8,231.9 207.9,222.5 208.1,223 208.2,223.5 208.4,224 208.5,237.1 208.7,238.1 208.8,239 209,225.8 209.1,226.2 209.3,226.6 209.5,227 209.6,243.6 209.8,244.5 209.9,245.4 210.1,228.5 210.2,228.8 210.4,229.2 210.5,229.5 210.7,249.5 210.8,250.3 211,251.1 211.1,230.7 211.3,231 211.4,231.3 211.6,231.6 211.7,254.8 211.9,255.5 212,256.2 212.2,232.5 212.4,232.7 212.5,232.9 212.7,233.2 212.8,259.2 213,259.8 213.1,260.3 213.3,236.6 213.4,237.4 213.6,238.2 213.7,239.1 213.9,263 214,263.5 214.2,264.1 214.3,242.7 214.5,243.7 214.6,244.7 214.8,245.7 214.9,267.7 215.1,268.6 215.2,269.7 215.4,251.1 215.6,252.8 215.7,254.7 215.9,256.5 216,277 216.2,278.5 216.3,279.8 216.5,263.4 216.6,264.8 216.8,265.9 216.9,266.8 217.1,284 217.2,284.5 217.4,285 217.5,270.2 217.7,270.9 217.8,271.7 218,272.4 218.1,287 218.3,287.3 218.5,287.6 218.6,275 218.8,275.6 218.9,276.2 219.1,276.8 219.2,288.8 219.4,289 219.5,289.2 219.7,279.1 219.8,279.6 220,280.2 220.1,280.7 220.3,290 220.4,290.2 220.6,290.3 220.7,282.9 220.9,283.4 221,284 221.2,284.5 221.3,290.9 221.5,291.1 221.7,291.2 221.8,286.7 222,287.3 222.1,287.9 222.3,288.5 222.4,291.7 222.6,291.8 222.7,291.9 222.9,291.2 223,292.1 223.2,292.2 223.3,292.3 223.5,292.4 223.6,292.5 223.8,292.6 223.9,292.7 224.1,292.8 224.2,292.9 224.4,293 224.6,293.1 224.7,293.2 224.9,293.3 225,293.3 225.2,293.4 225.3,293.5 225.5,293.6 225.6,293.6 225.8,293.7 225.9,293.8 226.1,293.8 226.2,293.9 226.4,294 226.5,294 226.7,294.1 226.8,294.1 227,294.2 227.1,294.2 227.3,294.3 227.4,294.3 227.6,294.3 227.8,294.4 227.9,294.4 228.1,294.4 228.2,294.4 228.4,294.4 228.5,294.5 228.7,294.5 228.8,294.5 229,294.5 229.1,294.5 229.3,294.6 229.4,294.6 229.6,294.6 229.7,294.6 229.9,294.6 230,294.6 230.2,294.7 230.3,294.7 230.5,294.7 230.7,294.7 230.8,294.7 231,294.7 231.1,294.7 231.3,294.7 231.4,294.8 231.6,294.8 231.7,294.8 231.9,294.8 232,294.8 232.2,294.8 232.3,294.8 232.5,294.8 232.6,294.8 232.8,294.8 232.9,294.8 233.1,294.8 233.2,294.8 233.4,294.8 233.5,294.8 233.7,294.8 233.9,294.7 234,294.7 234.2,294.7 234.3,294.6 234.5,294.6 234.6,294.6 234.8,294.5 234.9,294.5 235.1,294.4 235.2,294.4 235.4,294.3 235.5,294.2 235.7,294.2 235.8,294.1 236,294 236.1,294 236.3,293.9 236.4,293.8 236.6,293.7 236.8,293.6 236.9,293.5 237.1,293.4 237.2,293.3 237.4,293.2 237.5,293.1 237.7,293 237.8,292.9 238,292.8 238.1,292.7 238.3,292.6 238.4,292.5 238.6,292.4 238.7,292.3 238.9,292.2 239,292 239.2,291.9 239.3,291.8 239.5,291.7 239.6,291.6 239.8,291.4 240,291.3 240.1,291.2 240.3,291 240.4,290.9 240.6,290.8 240.7,290.7 240.9,290.5 241,290.4 241.2,290.3 241.3,290.1 241.5,290 241.6,289.9 241.8,289.7 241.9,289.6 242.1,289.5 242.2,289.3 242.4,289.2 242.5,289.1 242.7,288.9 242.9,288.8 243,288.7 243.2,288.5 243.3,288.4 243.5,288.3 243.6,288.1 243.8,288 243.9,287.9 244.1,287.7 244.2,287.6 244.4,287.5 244.5,287.4 244.7,287.3 244.8,287.1 245,287 245.1,286.9 245.3,286.8 245.4,286.6 245.6,286.5 245.7,286.4 245.9,286.2 246.1,286.1 246.2,286 246.4,285.8 246.5,285.7 246.7,285.5 246.8,285.4 247,285.2 247.1,285.1 247.3,284.9 247.4,284.7 247.6,284.6 247.7,284.4 247.9,284.2 248,284.1 248.2,283.9 248.3,283.7 248.5,283.6 248.6,283.4 248.8,283.2 249,283.1 249.1,282.9 249.3,282.7 249.4,282.6 249.6,282.4 249.7,282.2 249.9,282 250,281.9 250.2,281.7 250.3,281.5 250.5,281.4 250.6,281.2 250.8,281 250.9,280.9 251.1,280.7 251.2,280.5 251.4,280.4 251.5,280.2 251.7,280.1 251.8,279.9 252,279.8 252.2,279.6 252.3,279.5 252.5,279.3 252.6,279.2 252.8,279 252.9,278.9 253.1,278.8 253.2,278.6 253.4,278.5 253.5,278.4 253.7,278.3 253.8,278.2 254,278 254.1,277.9 254.3,277.8 254.4,277.7 254.6,277.6 254.7,277.5 254.9,277.5 255.1,277.4 255.2,277.3 255.4,277.2 255.5,277.1 255.7,277.1 255.8,277 256,276.9 256.1,276.8 256.3,276.7 256.4,276.7 256.6,276.6 256.7,276.5 256.9,276.4 257,276.4 257.2,276.3 257.3,276.2 257.5,276.1 257.6,276.1 257.8,276 257.9,275.9 258.1,275.8 258.3,275.8 258.4,275.7 258.6,275.6 258.7,275.6 258.9,275.5 259,275.4 259.2,275.3 259.3,275.3 259.5,275.2 259.6,275.1 259.8,275.1 259.9,275 260.1,274.9 260.2,274.9 260.4,274.8 260.5,274.7 260.7,274.7 260.8,274.6 261,274.6 261.2,274.5 261.3,274.4 261.5,274.4 261.6,274.3 261.8,274.2 261.9,274.2 262.1,274.1 262.2,274.1 262.4,274 262.5,273.9 262.7,273.9 262.8,273.8 263,273.8 263.1,273.7 263.3,273.7 263.4,273.6 263.6,273.5 263.7,273.5 263.9,273.4 264,273.4 264.2,273.3 264.4,273.3 264.5,273.2 264.7,273.2 264.8,273.1 265,273.1 265.1,273 265.3,273 265.4,272.9 265.6,272.9 265.7,272.8 265.9,272.8 266,272.7 266.2,272.7 266.3,272.6 266.5,272.6 266.6,272.5 266.8,272.5 266.9,272.4 267.1,272.4 267.3,272.4 267.4,272.3 267.6,272.3 267.7,272.2 267.9,272.2 268,272.1 268.2,272.1 268.3,272.1 268.5,272 268.6,272 268.8,271.9 268.9,271.9 269.1,271.9 269.2,271.8 269.4,271.8 269.5,271.8 269.7,271.7 269.8,271.7 270,271.7 270.1,271.6 270.3,271.6 270.5,271.6 270.6,271.5 270.8,271.5 270.9,271.5 271.1,271.4 271.2,271.4 271.4,271.4 271.5,271.3 271.7,271.3 271.8,271.3 272,271.2 272.1,271.2 272.3,271.2 272.4,271.2 272.6,271.1 272.7,271.1 272.9,271.1 273,271.1 273.2,271 273.4,271 273.5,271 273.7,271 273.8,270.9 274,270.9 274.1,270.9 274.3,270.9 274.4,270.8 274.6,270.8 274.7,270.8 274.9,270.8 275,270.7 275.2,270.7 275.3,270.7 275.5,270.7 275.6,270.7 275.8,270.6 275.9,270.6 276.1,270.6 276.2,270.6 276.4,270.5 276.6,270.5 276.7,270.5 276.9,270.5 277,270.5 277.2,270.4 277.3,270.4 277.5,270.4 277.6,270.4 277.8,270.3 277.9,270.3 278.1,270.3 278.2,270.3 278.4,270.3 278.5,270.3 278.7,270.2 278.8,270.2 279,270.2 279.1,270.2 279.3,270.2 279.5,270.2 279.6,270.1 279.8,270.1 279.9,270.1 280.1,270.1 280.2,270.1 280.4,270.1 280.5,270.1 280.7,270.1 280.8,270.1 281,270 281.1,270 281.3,270 281.4,270 281.6,270 281.7,270 281.9,270 282,270 282.2,270 282.3,270 282.5,270 282.7,270 282.8,270 283,270 283.1,270 283.3,270 283.4,270 283.6,270 283.7,270 283.9,270 284,270 284.2,270 284.3,270 284.5,270 284.6,270 284.8,270 284.9,270 285.1,270 285.2,270 285.4,270.1 285.6,270.1 285.7,270.1 285.9,270.1 286,270.1 286.2,270.1 286.3,270.1 286.5,270.1 286.6,270.1 286.8,270.1 286.9,270.1 287.1,270.1 287.2,270.1 287.4,270.1 287.5,270.2 287.7,270.2 287.8,270.2 288,270.2 288.1,270.2 288.3,270.2 288.4,270.2 288.6,270.2 288.8,270.2 288.9,270.3 289.1,270.3 289.2,270.3 289.4,270.3 289.5,270.3 289.7,270.3 289.8,270.3 290,270.3 290.1,270.3 290.3,270.4 290.4,270.4 290.6,270.4 290.7,270.4 290.9,270.4 291,270.4 291.2,270.4 291.3,270.5 291.5,270.5 291.7,270.5 291.8,270.5 292,270.5 292.1,270.5 292.3,270.5 292.4,270.6 292.6,270.6 292.7,270.6 292.9,270.6 293,270.6 293.2,270.6 293.3,270.6 293.5,270.7 293.6,270.7 293.8,270.7 293.9,270.7 294.1,270.7 294.2,270.7 294.4,270.8 294.5,270.8 294.7,270.8 294.9,270.8 295,270.8 295.2,270.8 295.3,270.9 295.5,270.9 295.6,270.9 295.8,270.9 295.9,270.9 296.1,270.9 296.2,271 296.4,271 296.5,271 296.7,271 296.8,271 297,271 297.1,271.1 297.3,271.1 297.4,271.1 297.6,271.1 297.8,271.1 297.9,271.1 298.1,271.2 298.2,271.2 298.4,271.2 298.5,271.2 298.7,271.2 298.8,271.3 299,271.3 299.1,271.3 299.3,271.3 299.4,271.3 299.6,271.3 299.7,271.4 299.9,271.4 300,271.4 300.2,271.4 300.3,271.4 300.5,271.4 300.6,271.5 300.8,271.5 301,271.5 301.1,271.5 301.3,271.5 301.4,271.5 301.6,271.6 301.7,271.6 301.9,271.6 302,271.6 302.2,271.6 302.3,271.7 302.5,271.7 302.6,271.7 302.8,271.7 302.9,271.7 303.1,271.8 303.2,271.8 303.4,271.8 303.5,271.8 303.7,271.8 303.9,271.9 304,271.9 304.2,271.9 304.3,271.9 304.5,271.9 304.6,272 304.8,272 304.9,272 305.1,272 305.2,272.1 305.4,272.1 305.5,272.1 305.7,272.1 305.8,272.2 306,272.2 306.1,272.2 306.3,272.2 306.4,272.3 306.6,272.3 306.7,272.3 306.9,272.3 307.1,272.4 307.2,272.4 307.4,272.4 307.5,272.4 307.7,272.5 307.8,272.5 308,272.5 308.1,272.5 308.3,272.6 308.4,272.6 308.6,272.6 308.7,272.6 308.9,272.7 309,272.7 309.2,272.7 309.3,272.8 309.5,272.8 309.6,272.8 309.8,272.8 310,272.9 310.1,272.9 310.3,272.9 310.4,272.9 310.6,273 310.7,273 310.9,273 311,273.1 311.2,273.1 311.3,273.1 311.5,273.1 311.6,273.2 311.8,273.2 311.9,273.2 312.1,273.3 312.2,273.3 312.4,273.3 312.5,273.4 312.7,273.4 312.8,273.4 313,273.4 313.2,273.5 313.3,273.5 313.5,273.5 313.6,273.6 313.8,273.6 313.9,273.6 314.1,273.7 314.2,273.7 314.4,273.7 314.5,273.7 314.7,273.8 314.8,273.8 315,273.8 315.1,273.9 315.3,273.9 315.4,273.9 315.6,274 315.7,274 315.9,274 316.1,274 316.2,274.1 316.4,274.1 316.5,274.1 316.7,274.2 316.8,274.2 317,274.2 317.1,274.3 317.3,274.3 317.4,274.3 317.6,274.3 317.7,274.4 317.9,274.4 318,274.4 318.2,274.5 318.3,274.5 318.5,274.5 318.6,274.6 318.8,274.6 318.9,274.6 319.1,274.6 319.3,274.7 319.4,274.7 319.6,274.7 319.7,274.8 319.9,274.8 320,274.8 320.2,274.8 320.3,274.9 320.5,274.9 320.6,274.9 320.8,275 320.9,275 321.1,275 321.2,275.1 321.4,275.1 321.5,275.1 321.7,275.2 321.8,275.2 322,275.2 322.2,275.2 322.3,275.3 322.5,275.3 322.6,275.3 322.8,275.4 322.9,275.4 323.1,275.4 323.2,275.5 323.4,275.5 323.5,275.5 323.7,275.6 323.8,275.6 324,275.6 324.1,275.6 324.3,275.7 324.4,275.7 324.6,275.7 324.7,275.8 324.9,275.8 325,275.8 325.2,275.9 325.4,275.9 325.5,275.9 325.7,276 325.8,276 326,276 326.1,276.1 326.3,276.1 326.4,276.1 326.6,276.2 326.7,276.2 326.9,276.2 327,276.3 327.2,276.3 327.3,276.3 327.5,276.4 327.6,276.4 327.8,276.4 327.9,276.5 328.1,276.5 328.3,276.5 328.4,276.6 328.6,276.6 328.7,276.6 328.9,276.7 329,276.7 329.2,276.7 329.3,276.8 329.5,276.8 329.6,276.8 329.8,276.9 329.9,276.9 330.1,276.9 330.2,277 330.4,277 330.5,277 330.7,277.1 330.8,277.1 331,277.1 331.1,277.2 331.3,277.2 331.5,277.2 331.6,277.3 331.8,277.3 331.9,277.3 332.1,277.4 332.2,277.4 332.4,277.4 332.5,277.5 332.7,277.5 332.8,277.5 333,277.6 333.1,277.6 333.3,277.6 333.4,277.7 333.6,277.7 333.7,277.7 333.9,277.8 334,277.8 334.2,277.8 334.4,277.9 334.5,277.9 334.7,278 334.8,278 335,278 335.1,278.1 335.3,278.1 335.4,278.1 335.6,278.2 335.7,278.2 335.9,278.2 336,278.3 336.2,278.3 336.3,278.3 336.5,278.4 336.6,278.4 336.8,278.5 336.9,278.5 337.1,278.5 337.2,278.6 337.4,278.6 337.6,278.6 337.7,278.7 337.9,278.7 338,278.7 338.2,278.8 338.3,278.8 338.5,278.9 338.6,278.9 338.8,278.9 338.9,279 339.1,279 339.2,279 339.4,279.1 339.5,279.1 339.7,279.2 339.8,279.2 340,279.2 340.1,279.3 340.3,279.3" fill="none" stroke="#e8207a" stroke-width="1.2" stroke-linejoin="round"/>
<polyline points="204,188.8 204.2,190.1 204.3,191.4 204.5,192.6 204.6,193.9 204.8,195.1 204.9,196.4 205.1,197.6 205.2,198.8 205.4,200 205.5,201.2 205.7,202.4 205.8,203.6 206,204.8 206.1,206 206.3,207.1 206.4,208.3 206.6,209.4 206.7,210.5 206.9,211.6 207,212.7 207.2,213 207.3,213.4 207.5,216 207.6,217 207.8,218.1 207.9,215.4 208.1,215.9 208.2,216.5 208.4,217 208.5,223.1 208.7,224.1 208.9,225.1 209,219.1 209.2,219.6 209.3,220.1 209.5,220.6 209.6,229.7 209.8,230.6 209.9,231.5 210.1,222.5 210.2,223 210.4,223.5 210.5,223.9 210.7,235.8 210.8,236.6 211,237.4 211.1,225.7 211.3,226.2 211.4,226.6 211.6,227 211.7,241.4 211.9,242.2 212,242.9 212.2,228.6 212.3,229 212.5,229.4 212.6,229.8 212.8,246.6 212.9,247.3 213.1,248 213.2,231.2 213.4,231.6 213.6,231.9 213.7,232.2 213.9,251.4 214,252 214.2,252.7 214.3,253.3 214.5,235.3 214.6,236 214.8,236.8 214.9,255.7 215.1,256.3 215.2,256.8 215.4,257.4 215.5,240.5 215.7,241.2 215.8,241.9 216,259.5 216.1,260.1 216.3,260.6 216.4,261.1 216.6,245.3 216.7,246 216.9,246.7 217,263 217.2,263.5 217.3,264 217.5,264.4 217.6,249.9 217.8,250.5 217.9,251.2 218.1,266.2 218.3,266.7 218.4,267.1 218.6,267.5 218.7,254.2 218.9,254.8 219,255.4 219.2,269.1 219.3,269.5 219.5,269.9 219.6,270.3 219.8,258.2 219.9,258.8 220.1,259.4 220.2,271.8 220.4,272.2 220.5,272.6 220.7,273 220.8,262.2 221,262.8 221.1,263.3 221.3,274.4 221.4,274.8 221.6,275.2 221.7,275.5 221.9,266.1 222,266.6 222.2,267.1 222.3,276.8 222.5,277.1 222.6,277.4 222.8,277.7 223,269.6 223.1,270.1 223.3,270.5 223.4,278.7 223.6,278.9 223.7,279.1 223.9,279.3 224,272.6 224.2,273 224.3,273.4 224.5,280 224.6,280.2 224.8,280.4 224.9,280.5 225.1,275.4 225.2,275.8 225.4,276.2 225.5,281.2 225.7,281.4 225.8,281.5 226,281.7 226.1,278.2 226.3,278.6 226.4,279 226.6,279.4 226.7,282.4 226.9,282.5 227,282.7 227.2,281.1 227.3,281.5 227.5,282 227.7,282.4 227.8,283.2 228,283.3 228.1,283.4 228.3,283.5 228.4,283.6 228.6,283.7 228.7,283.7 228.9,283.8 229,283.9 229.2,283.9 229.3,283.9 229.5,284 229.6,284 229.8,284 229.9,284 230.1,284 230.2,284 230.4,284 230.5,284 230.7,284 230.8,283.9 231,283.9 231.1,283.9 231.3,283.9 231.4,283.9 231.6,283.8 231.7,283.8 231.9,283.8 232,283.7 232.2,283.7 232.4,283.6 232.5,283.6 232.7,283.6 232.8,283.5 233,283.5 233.1,283.4 233.3,283.4 233.4,283.3 233.6,283.2 233.7,283.2 233.9,283.1 234,283.1 234.2,283 234.3,282.9 234.5,282.9 234.6,282.8 234.8,282.7 234.9,282.6 235.1,282.6 235.2,282.5 235.4,282.4 235.5,282.3 235.7,282.2 235.8,282.2 236,282.1 236.1,282 236.3,281.9 236.4,281.8 236.6,281.7 236.7,281.6 236.9,281.5 237.1,281.5 237.2,281.4 237.4,281.3 237.5,281.2 237.7,281.1 237.8,281 238,280.9 238.1,280.8 238.3,280.7 238.4,280.6 238.6,280.5 238.7,280.4 238.9,280.3 239,280.2 239.2,280.1 239.3,280 239.5,279.8 239.6,279.7 239.8,279.6 239.9,279.5 240.1,279.4 240.2,279.3 240.4,279.2 240.5,279.1 240.7,279 240.8,278.9 241,278.8 241.1,278.7 241.3,278.6 241.4,278.4 241.6,278.3 241.8,278.2 241.9,278.1 242.1,278 242.2,277.9 242.4,277.8 242.5,277.7 242.7,277.6 242.8,277.5 243,277.4 243.1,277.3 243.3,277.2 243.4,277.1 243.6,277 243.7,276.8 243.9,276.7 244,276.6 244.2,276.5 244.3,276.4 244.5,276.3 244.6,276.2 244.8,276.1 244.9,276 245.1,275.9 245.2,275.8 245.4,275.7 245.5,275.6 245.7,275.5 245.8,275.4 246,275.3 246.1,275.2 246.3,275.1 246.5,275 246.6,274.8 246.8,274.7 246.9,274.6 247.1,274.5 247.2,274.3 247.4,274.2 247.5,274.1 247.7,274 247.8,273.8 248,273.7 248.1,273.6 248.3,273.4 248.4,273.3 248.6,273.2 248.7,273 248.9,272.9 249,272.7 249.2,272.6 249.3,272.5 249.5,272.3 249.6,272.2 249.8,272.1 249.9,271.9 250.1,271.8 250.2,271.6 250.4,271.5 250.5,271.4 250.7,271.2 250.8,271.1 251,271 251.2,270.9 251.3,270.7 251.5,270.6 251.6,270.5 251.8,270.3 251.9,270.2 252.1,270.1 252.2,270 252.4,269.9 252.5,269.7 252.7,269.6 252.8,269.5 253,269.4 253.1,269.3 253.3,269.2 253.4,269.1 253.6,269 253.7,268.9 253.9,268.8 254,268.7 254.2,268.6 254.3,268.5 254.5,268.5 254.6,268.4 254.8,268.3 254.9,268.2 255.1,268.2 255.2,268.1 255.4,268 255.5,268 255.7,267.9 255.9,267.8 256,267.8 256.2,267.7 256.3,267.6 256.5,267.6 256.6,267.5 256.8,267.4 256.9,267.4 257.1,267.3 257.2,267.2 257.4,267.2 257.5,267.1 257.7,267.1 257.8,267 258,266.9 258.1,266.9 258.3,266.8 258.4,266.8 258.6,266.7 258.7,266.7 258.9,266.6 259,266.5 259.2,266.5 259.3,266.4 259.5,266.4 259.6,266.3 259.8,266.3 259.9,266.2 260.1,266.2 260.2,266.1 260.4,266 260.6,266 260.7,265.9 260.9,265.9 261,265.8 261.2,265.8 261.3,265.7 261.5,265.7 261.6,265.6 261.8,265.6 261.9,265.5 262.1,265.5 262.2,265.4 262.4,265.4 262.5,265.3 262.7,265.3 262.8,265.2 263,265.2 263.1,265.2 263.3,265.1 263.4,265.1 263.6,265 263.7,265 263.9,264.9 264,264.9 264.2,264.8 264.3,264.8 264.5,264.8 264.6,264.7 264.8,264.7 264.9,264.6 265.1,264.6 265.3,264.5 265.4,264.5 265.6,264.5 265.7,264.4 265.9,264.4 266,264.3 266.2,264.3 266.3,264.3 266.5,264.2 266.6,264.2 266.8,264.1 266.9,264.1 267.1,264.1 267.2,264 267.4,264 267.5,263.9 267.7,263.9 267.8,263.9 268,263.8 268.1,263.8 268.3,263.8 268.4,263.7 268.6,263.7 268.7,263.7 268.9,263.6 269,263.6 269.2,263.6 269.3,263.5 269.5,263.5 269.6,263.5 269.8,263.4 270,263.4 270.1,263.4 270.3,263.3 270.4,263.3 270.6,263.3 270.7,263.2 270.9,263.2 271,263.2 271.2,263.1 271.3,263.1 271.5,263.1 271.6,263 271.8,263 271.9,263 272.1,263 272.2,262.9 272.4,262.9 272.5,262.9 272.7,262.8 272.8,262.8 273,262.8 273.1,262.7 273.3,262.7 273.4,262.7 273.6,262.7 273.7,262.6 273.9,262.6 274,262.6 274.2,262.5 274.3,262.5 274.5,262.5 274.7,262.5 274.8,262.4 275,262.4 275.1,262.4 275.3,262.3 275.4,262.3 275.6,262.3 275.7,262.3 275.9,262.2 276,262.2 276.2,262.2 276.3,262.1 276.5,262.1 276.6,262.1 276.8,262.1 276.9,262 277.1,262 277.2,262 277.4,261.9 277.5,261.9 277.7,261.9 277.8,261.9 278,261.8 278.1,261.8 278.3,261.8 278.4,261.8 278.6,261.7 278.7,261.7 278.9,261.7 279,261.7 279.2,261.7 279.4,261.6 279.5,261.6 279.7,261.6 279.8,261.6 280,261.6 280.1,261.5 280.3,261.5 280.4,261.5 280.6,261.5 280.7,261.5 280.9,261.5 281,261.5 281.2,261.4 281.3,261.4 281.5,261.4 281.6,261.4 281.8,261.4 281.9,261.4 282.1,261.4 282.2,261.4 282.4,261.4 282.5,261.4 282.7,261.4 282.8,261.4 283,261.4 283.1,261.4 283.3,261.4 283.4,261.4 283.6,261.4 283.7,261.4 283.9,261.4 284.1,261.4 284.2,261.4 284.4,261.4 284.5,261.4 284.7,261.4 284.8,261.4 285,261.4 285.1,261.4 285.3,261.4 285.4,261.4 285.6,261.5 285.7,261.5 285.9,261.5 286,261.5 286.2,261.5 286.3,261.5 286.5,261.5 286.6,261.5 286.8,261.5 286.9,261.5 287.1,261.5 287.2,261.5 287.4,261.5 287.5,261.5 287.7,261.5 287.8,261.6 288,261.6 288.1,261.6 288.3,261.6 288.4,261.6 288.6,261.6 288.8,261.6 288.9,261.6 289.1,261.6 289.2,261.6 289.4,261.6 289.5,261.7 289.7,261.7 289.8,261.7 290,261.7 290.1,261.7 290.3,261.7 290.4,261.7 290.6,261.7 290.7,261.7 290.9,261.8 291,261.8 291.2,261.8 291.3,261.8 291.5,261.8 291.6,261.8 291.8,261.8 291.9,261.8 292.1,261.9 292.2,261.9 292.4,261.9 292.5,261.9 292.7,261.9 292.8,261.9 293,261.9 293.1,261.9 293.3,262 293.5,262 293.6,262 293.8,262 293.9,262 294.1,262 294.2,262 294.4,262.1 294.5,262.1 294.7,262.1 294.8,262.1 295,262.1 295.1,262.1 295.3,262.1 295.4,262.2 295.6,262.2 295.7,262.2 295.9,262.2 296,262.2 296.2,262.2 296.3,262.2 296.5,262.3 296.6,262.3 296.8,262.3 296.9,262.3 297.1,262.3 297.2,262.3 297.4,262.3 297.5,262.4 297.7,262.4 297.8,262.4 298,262.4 298.2,262.4 298.3,262.4 298.5,262.5 298.6,262.5 298.8,262.5 298.9,262.5 299.1,262.5 299.2,262.5 299.4,262.5 299.5,262.6 299.7,262.6 299.8,262.6 300,262.6 300.1,262.6 300.3,262.6 300.4,262.6 300.6,262.7 300.7,262.7 300.9,262.7 301,262.7 301.2,262.7 301.3,262.7 301.5,262.7 301.6,262.8 301.8,262.8 301.9,262.8 302.1,262.8 302.2,262.8 302.4,262.8 302.5,262.9 302.7,262.9 302.9,262.9 303,262.9 303.2,262.9 303.3,262.9 303.5,263 303.6,263 303.8,263 303.9,263 304.1,263 304.2,263.1 304.4,263.1 304.5,263.1 304.7,263.1 304.8,263.1 305,263.1 305.1,263.2 305.3,263.2 305.4,263.2 305.6,263.2 305.7,263.2 305.9,263.3 306,263.3 306.2,263.3 306.3,263.3 306.5,263.4 306.6,263.4 306.8,263.4 306.9,263.4 307.1,263.4 307.2,263.5 307.4,263.5 307.6,263.5 307.7,263.5 307.9,263.5 308,263.6 308.2,263.6 308.3,263.6 308.5,263.6 308.6,263.7 308.8,263.7 308.9,263.7 309.1,263.7 309.2,263.7 309.4,263.8 309.5,263.8 309.7,263.8 309.8,263.8 310,263.9 310.1,263.9 310.3,263.9 310.4,263.9 310.6,264 310.7,264 310.9,264 311,264 311.2,264.1 311.3,264.1 311.5,264.1 311.6,264.1 311.8,264.2 311.9,264.2 312.1,264.2 312.3,264.2 312.4,264.3 312.6,264.3 312.7,264.3 312.9,264.3 313,264.4 313.2,264.4 313.3,264.4 313.5,264.4 313.6,264.5 313.8,264.5 313.9,264.5 314.1,264.5 314.2,264.6 314.4,264.6 314.5,264.6 314.7,264.6 314.8,264.7 315,264.7 315.1,264.7 315.3,264.7 315.4,264.8 315.6,264.8 315.7,264.8 315.9,264.8 316,264.9 316.2,264.9 316.3,264.9 316.5,264.9 316.6,265 316.8,265 317,265 317.1,265 317.3,265.1 317.4,265.1 317.6,265.1 317.7,265.1 317.9,265.2 318,265.2 318.2,265.2 318.3,265.2 318.5,265.2 318.6,265.3 318.8,265.3 318.9,265.3 319.1,265.3 319.2,265.4 319.4,265.4 319.5,265.4 319.7,265.4 319.8,265.5 320,265.5 320.1,265.5 320.3,265.5 320.4,265.6 320.6,265.6 320.7,265.6 320.9,265.6 321,265.7 321.2,265.7 321.3,265.7 321.5,265.7 321.7,265.8 321.8,265.8 322,265.8 322.1,265.8 322.3,265.9 322.4,265.9 322.6,265.9 322.7,265.9 322.9,266 323,266 323.2,266 323.3,266 323.5,266.1 323.6,266.1 323.8,266.1 323.9,266.1 324.1,266.2 324.2,266.2 324.4,266.2 324.5,266.2 324.7,266.3 324.8,266.3 325,266.3 325.1,266.3 325.3,266.4 325.4,266.4 325.6,266.4 325.7,266.4 325.9,266.5 326,266.5 326.2,266.5 326.4,266.6 326.5,266.6 326.7,266.6 326.8,266.6 327,266.7 327.1,266.7 327.3,266.7 327.4,266.7 327.6,266.8 327.7,266.8 327.9,266.8 328,266.8 328.2,266.9 328.3,266.9 328.5,266.9 328.6,266.9 328.8,267 328.9,267 329.1,267 329.2,267.1 329.4,267.1 329.5,267.1 329.7,267.1 329.8,267.2 330,267.2 330.1,267.2 330.3,267.2 330.4,267.3 330.6,267.3 330.7,267.3 330.9,267.4 331.1,267.4 331.2,267.4 331.4,267.4 331.5,267.5 331.7,267.5 331.8,267.5 332,267.5 332.1,267.6 332.3,267.6 332.4,267.6 332.6,267.7 332.7,267.7 332.9,267.7 333,267.7 333.2,267.8 333.3,267.8 333.5,267.8 333.6,267.8 333.8,267.9 333.9,267.9 334.1,267.9 334.2,268 334.4,268 334.5,268 334.7,268 334.8,268.1 335,268.1 335.1,268.1 335.3,268.2 335.4,268.2 335.6,268.2 335.8,268.2 335.9,268.3 336.1,268.3 336.2,268.3 336.4,268.4 336.5,268.4 336.7,268.4 336.8,268.4 337,268.5 337.1,268.5 337.3,268.5 337.4,268.5 337.6,268.6 337.7,268.6 337.9,268.6 338,268.7 338.2,268.7 338.3,268.7 338.5,268.8 338.6,268.8 338.8,268.8 338.9,268.8 339.1,268.9 339.2,268.9 339.4,268.9 339.5,269 339.7,269 339.8,269 340,269 340.1,269.1 340.3,269.1" fill="none" stroke="#3a3ae6" stroke-width="1.2" stroke-linejoin="round"/>
<polyline points="204.5,188.8 204.7,189.9 204.8,191 205,192.1 205.1,193.2 205.3,194.3 205.4,195.4 205.6,196.5 205.7,197.5 205.9,198.6 206,199.7 206.2,200.7 206.3,201.7 206.5,202.8 206.6,203.8 206.8,204.8 206.9,205.8 207.1,206.7 207.2,207.7 207.4,208.7 207.5,209.6 207.7,210.6 207.8,211.5 208,212.4 208.1,213.3 208.3,214.2 208.4,215.1 208.6,216 208.7,216.8 208.9,217.7 209,216.5 209.2,216.9 209.3,217.3 209.5,217.8 209.6,221.7 209.8,222.5 209.9,223.2 210.1,219.4 210.2,219.8 210.4,220.1 210.5,220.5 210.7,226.7 210.8,227.3 211,228 211.1,221.8 211.3,222.1 211.4,222.5 211.6,222.7 211.8,231 211.9,231.5 212.1,232.1 212.2,223.9 212.4,224.1 212.5,224.4 212.7,224.6 212.8,234.8 213,235.3 213.1,235.8 213.3,225.5 213.4,225.8 213.6,226 213.7,226.2 213.9,238.2 214,238.7 214.2,239.1 214.3,227 214.5,227.2 214.6,227.4 214.8,227.6 214.9,241.3 215.1,241.8 215.2,242.2 215.4,242.6 215.5,228.8 215.7,229.3 215.8,229.9 216,244.3 216.1,244.8 216.3,245.2 216.4,245.6 216.6,232.5 216.7,233 216.9,233.5 217,247.3 217.2,247.7 217.3,248.1 217.5,248.5 217.6,236.2 217.8,236.7 217.9,237.3 218.1,250.3 218.2,250.7 218.4,251.2 218.5,251.6 218.7,240 218.9,240.6 219,241.2 219.2,253.4 219.3,253.9 219.5,254.4 219.6,254.8 219.8,244 219.9,244.6 220.1,245.2 220.2,256.7 220.4,257.1 220.5,257.6 220.7,258 220.8,248 221,248.5 221.1,249.1 221.3,259.8 221.4,260.2 221.6,260.6 221.7,261 221.9,251.7 222,252.2 222.2,252.7 222.3,262.6 222.5,262.9 222.6,263.3 222.8,263.6 222.9,255.1 223.1,255.6 223.2,256 223.4,256.4 223.5,265.2 223.7,265.5 223.8,265.7 224,257.9 224.1,258.3 224.3,258.7 224.4,259 224.6,266.9 224.7,267.2 224.9,267.4 225,260.5 225.2,260.8 225.3,261.2 225.5,261.5 225.6,268.6 225.8,268.8 226,269 226.1,263 226.3,263.3 226.4,263.6 226.6,264 226.7,270.1 226.9,270.3 227,270.5 227.2,265.3 227.3,265.6 227.5,265.9 227.6,266.2 227.8,271.3 227.9,271.5 228.1,271.6 228.2,267.3 228.4,267.6 228.5,267.8 228.7,268.1 228.8,272.2 229,272.3 229.1,272.3 229.3,269 229.4,269.2 229.6,269.4 229.7,269.5 229.9,272.5 230,272.5 230.2,272.5 230.3,270.2 230.5,270.3 230.6,270.5 230.8,270.6 230.9,272.4 231.1,272.4 231.2,272.4 231.4,272.3 231.5,271.4 231.7,271.6 231.8,271.8 232,272.2 232.1,272.1 232.3,272.1 232.4,272 232.6,272 232.7,271.9 232.9,271.9 233,271.8 233.2,271.8 233.4,271.7 233.5,271.6 233.7,271.6 233.8,271.5 234,271.4 234.1,271.3 234.3,271.3 234.4,271.2 234.6,271.1 234.7,271 234.9,270.9 235,270.8 235.2,270.8 235.3,270.7 235.5,270.6 235.6,270.5 235.8,270.4 235.9,270.3 236.1,270.2 236.2,270.1 236.4,270 236.5,269.9 236.7,269.8 236.8,269.7 237,269.6 237.1,269.5 237.3,269.4 237.4,269.3 237.6,269.2 237.7,269 237.9,268.9 238,268.8 238.2,268.7 238.3,268.6 238.5,268.5 238.6,268.4 238.8,268.3 238.9,268.2 239.1,268 239.2,267.9 239.4,267.8 239.5,267.7 239.7,267.6 239.8,267.5 240,267.4 240.1,267.2 240.3,267.1 240.5,267 240.6,266.9 240.8,266.8 240.9,266.7 241.1,266.6 241.2,266.5 241.4,266.4 241.5,266.2 241.7,266.1 241.8,266 242,265.9 242.1,265.8 242.3,265.7 242.4,265.6 242.6,265.5 242.7,265.4 242.9,265.3 243,265.2 243.2,265.1 243.3,265 243.5,264.9 243.6,264.8 243.8,264.7 243.9,264.6 244.1,264.5 244.2,264.4 244.4,264.3 244.5,264.3 244.7,264.2 244.8,264.1 245,264 245.1,263.9 245.3,263.8 245.4,263.8 245.6,263.7 245.7,263.6 245.9,263.5 246,263.4 246.2,263.4 246.3,263.3 246.5,263.2 246.6,263.1 246.8,263 246.9,263 247.1,262.9 247.2,262.8 247.4,262.7 247.6,262.6 247.7,262.6 247.9,262.5 248,262.4 248.2,262.3 248.3,262.2 248.5,262.2 248.6,262.1 248.8,262 248.9,261.9 249.1,261.8 249.2,261.8 249.4,261.7 249.5,261.6 249.7,261.5 249.8,261.5 250,261.4 250.1,261.3 250.3,261.2 250.4,261.1 250.6,261.1 250.7,261 250.9,260.9 251,260.8 251.2,260.8 251.3,260.7 251.5,260.6 251.6,260.5 251.8,260.5 251.9,260.4 252.1,260.3 252.2,260.2 252.4,260.2 252.5,260.1 252.7,260 252.8,260 253,259.9 253.1,259.8 253.3,259.8 253.4,259.7 253.6,259.6 253.7,259.5 253.9,259.5 254,259.4 254.2,259.3 254.3,259.3 254.5,259.2 254.7,259.1 254.8,259.1 255,259 255.1,259 255.3,258.9 255.4,258.8 255.6,258.8 255.7,258.7 255.9,258.6 256,258.6 256.2,258.5 256.3,258.4 256.5,258.4 256.6,258.3 256.8,258.3 256.9,258.2 257.1,258.1 257.2,258.1 257.4,258 257.5,257.9 257.7,257.9 257.8,257.8 258,257.7 258.1,257.7 258.3,257.6 258.4,257.6 258.6,257.5 258.7,257.4 258.9,257.4 259,257.3 259.2,257.2 259.3,257.2 259.5,257.1 259.6,257 259.8,257 259.9,256.9 260.1,256.8 260.2,256.8 260.4,256.7 260.5,256.7 260.7,256.6 260.8,256.5 261,256.5 261.1,256.4 261.3,256.3 261.4,256.3 261.6,256.2 261.8,256.2 261.9,256.1 262.1,256 262.2,256 262.4,255.9 262.5,255.9 262.7,255.8 262.8,255.7 263,255.7 263.1,255.6 263.3,255.6 263.4,255.5 263.6,255.4 263.7,255.4 263.9,255.3 264,255.3 264.2,255.2 264.3,255.2 264.5,255.1 264.6,255 264.8,255 264.9,254.9 265.1,254.9 265.2,254.8 265.4,254.8 265.5,254.7 265.7,254.7 265.8,254.6 266,254.6 266.1,254.5 266.3,254.4 266.4,254.4 266.6,254.3 266.7,254.3 266.9,254.2 267,254.2 267.2,254.1 267.3,254.1 267.5,254 267.6,254 267.8,253.9 267.9,253.9 268.1,253.9 268.2,253.8 268.4,253.8 268.5,253.7 268.7,253.7 268.9,253.6 269,253.6 269.2,253.5 269.3,253.5 269.5,253.5 269.6,253.4 269.8,253.4 269.9,253.3 270.1,253.3 270.2,253.3 270.4,253.2 270.5,253.2 270.7,253.1 270.8,253.1 271,253.1 271.1,253 271.3,253 271.4,253 271.6,252.9 271.7,252.9 271.9,252.9 272,252.8 272.2,252.8 272.3,252.8 272.5,252.8 272.6,252.7 272.8,252.7 272.9,252.7 273.1,252.7 273.2,252.6 273.4,252.6 273.5,252.6 273.7,252.6 273.8,252.5 274,252.5 274.1,252.5 274.3,252.5 274.4,252.4 274.6,252.4 274.7,252.4 274.9,252.4 275,252.3 275.2,252.3 275.3,252.3 275.5,252.3 275.6,252.2 275.8,252.2 275.9,252.2 276.1,252.2 276.3,252.2 276.4,252.1 276.6,252.1 276.7,252.1 276.9,252.1 277,252.1 277.2,252 277.3,252 277.5,252 277.6,252 277.8,251.9 277.9,251.9 278.1,251.9 278.2,251.9 278.4,251.9 278.5,251.9 278.7,251.8 278.8,251.8 279,251.8 279.1,251.8 279.3,251.8 279.4,251.8 279.6,251.7 279.7,251.7 279.9,251.7 280,251.7 280.2,251.7 280.3,251.7 280.5,251.7 280.6,251.7 280.8,251.7 280.9,251.6 281.1,251.6 281.2,251.6 281.4,251.6 281.5,251.6 281.7,251.6 281.8,251.6 282,251.6 282.1,251.6 282.3,251.6 282.4,251.6 282.6,251.6 282.7,251.6 282.9,251.6 283,251.6 283.2,251.6 283.4,251.6 283.5,251.6 283.7,251.6 283.8,251.6 284,251.6 284.1,251.6 284.3,251.6 284.4,251.6 284.6,251.6 284.7,251.6 284.9,251.6 285,251.6 285.2,251.6 285.3,251.6 285.5,251.6 285.6,251.6 285.8,251.6 285.9,251.6 286.1,251.7 286.2,251.7 286.4,251.7 286.5,251.7 286.7,251.7 286.8,251.7 287,251.7 287.1,251.7 287.3,251.7 287.4,251.7 287.6,251.7 287.7,251.7 287.9,251.7 288,251.7 288.2,251.7 288.3,251.7 288.5,251.7 288.6,251.7 288.8,251.8 288.9,251.8 289.1,251.8 289.2,251.8 289.4,251.8 289.5,251.8 289.7,251.8 289.8,251.8 290,251.8 290.1,251.8 290.3,251.8 290.5,251.8 290.6,251.8 290.8,251.9 290.9,251.9 291.1,251.9 291.2,251.9 291.4,251.9 291.5,251.9 291.7,251.9 291.8,251.9 292,251.9 292.1,251.9 292.3,251.9 292.4,252 292.6,252 292.7,252 292.9,252 293,252 293.2,252 293.3,252 293.5,252 293.6,252 293.8,252 293.9,252.1 294.1,252.1 294.2,252.1 294.4,252.1 294.5,252.1 294.7,252.1 294.8,252.1 295,252.1 295.1,252.1 295.3,252.2 295.4,252.2 295.6,252.2 295.7,252.2 295.9,252.2 296,252.2 296.2,252.2 296.3,252.2 296.5,252.2 296.6,252.3 296.8,252.3 296.9,252.3 297.1,252.3 297.2,252.3 297.4,252.3 297.6,252.3 297.7,252.3 297.9,252.4 298,252.4 298.2,252.4 298.3,252.4 298.5,252.4 298.6,252.4 298.8,252.4 298.9,252.4 299.1,252.4 299.2,252.5 299.4,252.5 299.5,252.5 299.7,252.5 299.8,252.5 300,252.5 300.1,252.5 300.3,252.5 300.4,252.6 300.6,252.6 300.7,252.6 300.9,252.6 301,252.6 301.2,252.6 301.3,252.6 301.5,252.6 301.6,252.7 301.8,252.7 301.9,252.7 302.1,252.7 302.2,252.7 302.4,252.7 302.5,252.7 302.7,252.8 302.8,252.8 303,252.8 303.1,252.8 303.3,252.8 303.4,252.8 303.6,252.8 303.7,252.9 303.9,252.9 304,252.9 304.2,252.9 304.3,252.9 304.5,253 304.7,253 304.8,253 305,253 305.1,253 305.3,253 305.4,253.1 305.6,253.1 305.7,253.1 305.9,253.1 306,253.1 306.2,253.2 306.3,253.2 306.5,253.2 306.6,253.2 306.8,253.2 306.9,253.3 307.1,253.3 307.2,253.3 307.4,253.3 307.5,253.4 307.7,253.4 307.8,253.4 308,253.4 308.1,253.4 308.3,253.5 308.4,253.5 308.6,253.5 308.7,253.5 308.9,253.6 309,253.6 309.2,253.6 309.3,253.6 309.5,253.7 309.6,253.7 309.8,253.7 309.9,253.7 310.1,253.7 310.2,253.8 310.4,253.8 310.5,253.8 310.7,253.8 310.8,253.9 311,253.9 311.1,253.9 311.3,253.9 311.4,254 311.6,254 311.8,254 311.9,254 312.1,254.1 312.2,254.1 312.4,254.1 312.5,254.1 312.7,254.2 312.8,254.2 313,254.2 313.1,254.2 313.3,254.3 313.4,254.3 313.6,254.3 313.7,254.3 313.9,254.4 314,254.4 314.2,254.4 314.3,254.5 314.5,254.5 314.6,254.5 314.8,254.5 314.9,254.6 315.1,254.6 315.2,254.6 315.4,254.6 315.5,254.7 315.7,254.7 315.8,254.7 316,254.7 316.1,254.8 316.3,254.8 316.4,254.8 316.6,254.8 316.7,254.9 316.9,254.9 317,254.9 317.2,254.9 317.3,255 317.5,255 317.6,255 317.8,255 317.9,255.1 318.1,255.1 318.2,255.1 318.4,255.1 318.5,255.2 318.7,255.2 318.8,255.2 319,255.2 319.2,255.3 319.3,255.3 319.5,255.3 319.6,255.3 319.8,255.4 319.9,255.4 320.1,255.4 320.2,255.4 320.4,255.5 320.5,255.5 320.7,255.5 320.8,255.5 321,255.6 321.1,255.6 321.3,255.6 321.4,255.6 321.6,255.7 321.7,255.7 321.9,255.7 322,255.7 322.2,255.8 322.3,255.8 322.5,255.8 322.6,255.8 322.8,255.9 322.9,255.9 323.1,255.9 323.2,255.9 323.4,256 323.5,256 323.7,256 323.8,256 324,256.1 324.1,256.1 324.3,256.1 324.4,256.1 324.6,256.2 324.7,256.2 324.9,256.2 325,256.2 325.2,256.3 325.3,256.3 325.5,256.3 325.6,256.3 325.8,256.4 325.9,256.4 326.1,256.4 326.3,256.4 326.4,256.5 326.6,256.5 326.7,256.5 326.9,256.5 327,256.6 327.2,256.6 327.3,256.6 327.5,256.6 327.6,256.7 327.8,256.7 327.9,256.7 328.1,256.7 328.2,256.8 328.4,256.8 328.5,256.8 328.7,256.9 328.8,256.9 329,256.9 329.1,256.9 329.3,257 329.4,257 329.6,257 329.7,257 329.9,257.1 330,257.1 330.2,257.1 330.3,257.1 330.5,257.2 330.6,257.2 330.8,257.2 330.9,257.3 331.1,257.3 331.2,257.3 331.4,257.3 331.5,257.4 331.7,257.4 331.8,257.4 332,257.4 332.1,257.5 332.3,257.5 332.4,257.5 332.6,257.6 332.7,257.6 332.9,257.6 333,257.6 333.2,257.7 333.4,257.7 333.5,257.7 333.7,257.7 333.8,257.8 334,257.8 334.1,257.8 334.3,257.9 334.4,257.9 334.6,257.9 334.7,257.9 334.9,258 335,258 335.2,258 335.3,258.1 335.5,258.1 335.6,258.1 335.8,258.1 335.9,258.2 336.1,258.2 336.2,258.2 336.4,258.3 336.5,258.3 336.7,258.3 336.8,258.3 337,258.4 337.1,258.4 337.3,258.4 337.4,258.5 337.6,258.5 337.7,258.5 337.9,258.5 338,258.6 338.2,258.6 338.3,258.6 338.5,258.7 338.6,258.7 338.8,258.7 338.9,258.7 339.1,258.8 339.2,258.8 339.4,258.8 339.5,258.9 339.7,258.9 339.8,258.9 340,258.9 340.1,259 340.3,259" fill="none" stroke="#000000" stroke-width="1.2" stroke-linejoin="round"/>
<polyline points="205,185.1 205.3,187.8 205.5,191.1 205.8,194.3 206.1,197.1 206.4,199.1 206.6,200.4 206.9,201.2 207.2,201.7 207.4,202.1 207.7,202.6 208,203.3 208.3,204.3 208.5,205.9 208.8,208.1 209.1,210.7 209.3,213.3 209.6,215.6 209.9,217.1 210.2,217.6 210.4,217.4 210.7,216.9 211,216.7 211.2,217.4 211.5,219.1 211.8,221.6 212,224.2 212.3,226.4 212.6,227.7 212.9,228 213.1,227.6 213.4,227.1 213.7,227.1 213.9,227.7 214.2,229 214.5,230.7 214.8,232.2 215,233.3 215.3,233.8 215.6,234 215.8,234.3 216.1,234.8 216.4,235.7 216.7,236.9 216.9,238 217.2,238.8 217.5,239.2 217.7,239.3 218,239.4 218.3,239.9 218.6,240.8 218.8,242.1 219.1,243.4 219.4,244.3 219.6,244.8 219.9,244.8 220.2,244.7 220.5,244.7 220.7,245.3 221,246.2 221.3,247.4 221.5,248.4 221.8,248.9 222.1,249 222.4,248.7 222.6,248.4 222.9,248.5 223.2,249 223.4,250 223.7,251 224,251.6 224.3,251.8 224.5,251.5 224.8,251.1 225.1,250.9 225.3,251.1 225.6,251.8 225.9,252.8 226.1,253.6 226.4,254 226.7,253.9 227,253.4 227.2,253 227.5,253 227.8,253.4 228,254.2 228.3,255.1 228.6,255.8 228.9,255.9 229.1,255.7 229.4,255.2 229.7,255 229.9,255.2 230.2,255.9 230.5,256.8 230.8,257.6 231,258.1 231.3,258 231.6,257.6 231.8,257.2 232.1,257.1 232.4,257.4 232.7,258.2 232.9,259 233.2,259.6 233.5,259.7 233.7,259.3 234,258.6 234.3,258.1 234.6,258.1 234.8,258.5 235.1,259.1 235.4,259.7 235.6,259.9 235.9,259.5 236.2,258.8 236.5,258.1 236.7,257.7 237,257.7 237.3,258.2 237.5,258.8 237.8,259.1 238.1,259 238.4,258.4 238.6,257.6 238.9,256.9 239.2,256.6 239.4,256.9 239.7,257.4 240,257.8 240.2,257.9 240.5,257.5 240.8,256.8 241.1,256 241.3,255.4 241.6,255.4 241.9,255.8 242.1,256.3 242.4,256.6 242.7,256.5 243,255.8 243.2,254.9 243.5,254.1 243.8,253.7 244,253.8 244.3,254.2 244.6,254.6 244.9,254.6 245.1,254.1 245.4,253.2 245.7,252.3 245.9,251.6 246.2,251.4 246.5,251.6 246.8,252 247,252.2 247.3,252 247.6,251.2 247.8,250.3 248.1,249.4 248.4,249 248.7,249 248.9,249.4 249.2,249.9 249.5,249.9 249.7,249.5 250,248.8 250.3,247.9 250.6,247.3 250.8,247.2 251.1,247.6 251.4,248.1 251.6,248.5 251.9,248.4 252.2,247.9 252.4,247.1 252.7,246.3 253,246 253.3,246.2 253.5,246.7 253.8,247.2 254.1,247.4 254.3,247.2 254.6,246.5 254.9,245.7 255.2,245.1 255.4,245.1 255.7,245.4 256,246 256.2,246.4 256.5,246.5 256.8,246 257.1,245.2 257.3,244.5 257.6,244.2 257.9,244.3 258.1,244.8 258.4,245.4 258.7,245.7 259,245.4 259.2,244.8 259.5,244 259.8,243.5 260,243.4 260.3,243.7 260.6,244.3 260.9,244.8 261.1,244.8 261.4,244.4 261.7,243.7 261.9,242.9 262.2,242.6 262.5,242.7 262.8,243.2 263,243.8 263.3,244.1 263.6,243.9 263.8,243.3 264.1,242.8 264.4,242.4 264.7,242.3 264.9,242.5 265.2,242.7 265.5,242.9 265.7,242.9 266,242.7 266.3,242.3 266.5,241.9 266.8,241.7 267.1,241.7 267.4,241.9 267.6,242.2 267.9,242.3 268.2,242.2 268.4,241.9 268.7,241.5 269,241.2 269.3,241.1 269.5,241.2 269.8,241.5 270.1,241.7 270.3,241.7 270.6,241.5 270.9,241.2 271.2,240.8 271.4,240.5 271.7,240.6 272,240.8 272.2,241.1 272.5,241.2 272.8,241.2 273.1,240.9 273.3,240.5 273.6,240.1 273.9,240 274.1,240.2 274.4,240.4 274.7,240.7 275,240.8 275.2,240.6 275.5,240.2 275.8,239.8 276,239.6 276.3,239.6 276.6,239.8 276.9,240.1 277.1,240.3 277.4,240.2 277.7,239.9 277.9,239.5 278.2,239.2 278.5,239.1 278.8,239.2 279,239.5 279.3,239.7 279.6,239.8 279.8,239.6 280.1,239.3 280.4,238.9 280.6,238.6 280.9,238.6 281.2,238.8 281.5,239.1 281.7,239.3 282,239.3 282.3,239 282.5,238.6 282.8,238.3 283.1,238.2 283.4,238.3 283.6,238.6 283.9,238.8 284.2,238.9 284.4,238.8 284.7,238.5 285,238.1 285.3,237.8 285.5,237.8 285.8,238.1 286.1,238.4 286.3,238.6 286.6,238.6 286.9,238.4 287.2,238 287.4,237.7 287.7,237.5 288,237.7 288.2,237.9 288.5,238.3 288.8,238.4 289.1,238.3 289.3,238 289.6,237.6 289.9,237.4 290.1,237.4 290.4,237.6 290.7,238 291,238.2 291.2,238.3 291.5,238.1 291.8,237.7 292,237.4 292.3,237.3 292.6,237.5 292.9,237.8 293.1,238.1 293.4,238.3 293.7,238.2 293.9,237.9 294.2,237.6 294.5,237.4 294.7,237.4 295,237.6 295.3,237.9 295.6,238.2 295.8,238.3 296.1,238.1 296.4,237.8 296.6,237.5 296.9,237.4 297.2,237.5 297.5,237.8 297.7,238.1 298,238.3 298.3,238.3 298.5,238 298.8,237.7 299.1,237.4 299.4,237.4 299.6,237.6 299.9,238 300.2,238.3 300.4,238.4 300.7,238.2 301,237.9 301.3,237.6 301.5,237.4 301.8,237.6 302.1,237.9 302.3,238.2 302.6,238.4 302.9,238.4 303.2,238.1 303.4,237.8 303.7,237.5 304,237.5 304.2,237.7 304.5,238.1 304.8,238.4 305.1,238.5 305.3,238.4 305.6,238 305.9,237.7 306.1,237.6 306.4,237.7 306.7,238 306.9,238.3 307.2,238.5 307.5,238.5 307.8,238.3 308,238 308.3,237.7 308.6,237.7 308.8,237.9 309.1,238.2 309.4,238.5 309.7,238.7 309.9,238.5 310.2,238.2 310.5,237.9 310.7,237.8 311,237.8 311.3,238.1 311.6,238.5 311.8,238.8 312.1,238.8 312.4,238.6 312.6,238.3 312.9,238 313.2,238 313.5,238.2 313.7,238.6 314,238.9 314.3,239.1 314.5,239 314.8,238.8 315.1,238.5 315.4,238.3 315.6,238.4 315.9,238.6 316.2,238.8 316.4,238.5 316.7,237.3 317,235 317.3,231.5 317.5,227.2 317.8,222.9 318.1,219.8 318.3,218.7 318.6,220 318.9,223.2 319.2,227.3 319.4,231.2 319.7,234.4 320,236.6 320.2,238.1 320.5,239.2 320.8,239.9 321,240.3 321.3,240.4 321.6,240.3 321.9,240 322.1,239.7 322.4,239.7 322.7,239.9 322.9,240.2 323.2,240.6 323.5,240.8 323.8,240.7 324,240.5 324.3,240.2 324.6,240 324.8,240.1 325.1,240.3 325.4,240.7 325.7,241 325.9,241.1 326.2,240.9 326.5,240.6 326.7,240.3 327,240.2 327.3,240.4 327.6,240.7 327.8,241.1 328.1,241.3 328.4,241.2 328.6,240.9 328.9,240.6 329.2,240.4 329.5,240.4 329.7,240.7 330,241.1 330.3,241.4 330.5,241.5 330.8,241.3 331.1,241 331.4,240.7 331.6,240.6 331.9,240.7 332.2,240.8 332.4,240.5 332.7,238.6 333,233.7 333.3,225 333.5,213.4 333.8,203.2 334.1,199.3 334.3,204 334.6,214.6 334.9,226.1 335.1,234.4 335.4,238.8 335.7,240.4 336,240.8 336.2,240.8 336.5,241 336.8,241.3 337,241.7 337.3,241.9 337.6,241.8 337.9,241.6 338.1,241.3 338.4,241 338.7,241 338.9,241.2 339.2,241.6 339.5,241.9 339.8,242 340,241.8 340.3,241.5" fill="none" stroke="#a020b0" stroke-width="1.1" stroke-linejoin="round"/>
</g>
<rect x="201.5" y="188.8" width="138.8" height="127.7" fill="none" stroke="#000" stroke-width="1.0"/>
<path d="M201.5 316.5v-3.0M201.5 188.8v3.0M208.4 316.5v-1.6M208.4 188.8v1.6M215.4 316.5v-1.6M215.4 188.8v1.6M222.3 316.5v-1.6M222.3 188.8v1.6M229.3 316.5v-3.0M229.3 188.8v3.0M236.2 316.5v-1.6M236.2 188.8v1.6M243.1 316.5v-1.6M243.1 188.8v1.6M250.1 316.5v-1.6M250.1 188.8v1.6M257 316.5v-3.0M257 188.8v3.0M264 316.5v-1.6M264 188.8v1.6M270.9 316.5v-1.6M270.9 188.8v1.6M277.8 316.5v-1.6M277.8 188.8v1.6M284.8 316.5v-3.0M284.8 188.8v3.0M291.7 316.5v-1.6M291.7 188.8v1.6M298.7 316.5v-1.6M298.7 188.8v1.6M305.6 316.5v-1.6M305.6 188.8v1.6M312.5 316.5v-3.0M312.5 188.8v3.0M319.5 316.5v-1.6M319.5 188.8v1.6M326.4 316.5v-1.6M326.4 188.8v1.6M333.4 316.5v-1.6M333.4 188.8v1.6M340.3 316.5v-3.0M340.3 188.8v3.0M201.5 316.5h3.0M340.3 316.5h-3.0M201.5 308.5h1.6M340.3 308.5h-1.6M201.5 300.5h1.6M340.3 300.5h-1.6M201.5 292.6h1.6M340.3 292.6h-1.6M201.5 284.6h3.0M340.3 284.6h-3.0M201.5 276.6h1.6M340.3 276.6h-1.6M201.5 268.6h1.6M340.3 268.6h-1.6M201.5 260.6h1.6M340.3 260.6h-1.6M201.5 252.6h3.0M340.3 252.6h-3.0M201.5 244.7h1.6M340.3 244.7h-1.6M201.5 236.7h1.6M340.3 236.7h-1.6M201.5 228.7h1.6M340.3 228.7h-1.6M201.5 220.7h3.0M340.3 220.7h-3.0M201.5 212.7h1.6M340.3 212.7h-1.6M201.5 204.8h1.6M340.3 204.8h-1.6M201.5 196.8h1.6M340.3 196.8h-1.6M201.5 188.8h3.0M340.3 188.8h-3.0" stroke="#000" stroke-width="0.75" fill="none"/>
<text x="199.2" y="318.7" font-size="6.0" font-family="'Liberation Sans', Arial, sans-serif" stroke="#000" stroke-width="0.2" text-anchor="end" font-weight="bold" textLength="6.8" lengthAdjust="spacingAndGlyphs">0.5</text>
<text x="199.2" y="286.8" font-size="6.0" font-family="'Liberation Sans', Arial, sans-serif" stroke="#000" stroke-width="0.2" text-anchor="end" font-weight="bold" textLength="6.8" lengthAdjust="spacingAndGlyphs">0.7</text>
<text x="199.2" y="254.8" font-size="6.0" font-family="'Liberation Sans', Arial, sans-serif" stroke="#000" stroke-width="0.2" text-anchor="end" font-weight="bold" textLength="6.8" lengthAdjust="spacingAndGlyphs">0.9</text>
<text x="199.2" y="222.9" font-size="6.0" font-family="'Liberation Sans', Arial, sans-serif" stroke="#000" stroke-width="0.2" text-anchor="end" font-weight="bold" textLength="6.8" lengthAdjust="spacingAndGlyphs">1.1</text>
<text x="199.2" y="191" font-size="6.0" font-family="'Liberation Sans', Arial, sans-serif" stroke="#000" stroke-width="0.2" text-anchor="end" font-weight="bold" textLength="6.8" lengthAdjust="spacingAndGlyphs">1.3</text>
<text x="201.5" y="322.9" font-size="6.0" font-family="'Liberation Sans', Arial, sans-serif" stroke="#000" stroke-width="0.2" text-anchor="middle" font-weight="bold" textLength="3.1" lengthAdjust="spacingAndGlyphs">0</text>
<text x="229.3" y="322.9" font-size="6.0" font-family="'Liberation Sans', Arial, sans-serif" stroke="#000" stroke-width="0.2" text-anchor="middle" font-weight="bold" textLength="7.2" lengthAdjust="spacingAndGlyphs">0.2</text>
<text x="257" y="322.9" font-size="6.0" font-family="'Liberation Sans', Arial, sans-serif" stroke="#000" stroke-width="0.2" text-anchor="middle" font-weight="bold" textLength="7.2" lengthAdjust="spacingAndGlyphs">0.4</text>
<text x="284.8" y="322.9" font-size="6.0" font-family="'Liberation Sans', Arial, sans-serif" stroke="#000" stroke-width="0.2" text-anchor="middle" font-weight="bold" textLength="7.2" lengthAdjust="spacingAndGlyphs">0.6</text>
<text x="312.5" y="322.9" font-size="6.0" font-family="'Liberation Sans', Arial, sans-serif" stroke="#000" stroke-width="0.2" text-anchor="middle" font-weight="bold" textLength="7.2" lengthAdjust="spacingAndGlyphs">0.8</text>
<text x="340.3" y="322.9" font-size="6.0" font-family="'Liberation Sans', Arial, sans-serif" stroke="#000" stroke-width="0.2" text-anchor="middle" font-weight="bold" textLength="3.1" lengthAdjust="spacingAndGlyphs">1</text>
<text x="271.4" y="330.1" font-family="'Liberation Serif', 'Times New Roman', serif" font-size="9.5" text-anchor="middle" stroke="#000" stroke-width="0.15"><tspan font-weight="bold">x</tspan> (m)</text>
<text x="179.6" y="249.2" font-family="'Liberation Serif', 'Times New Roman', serif" font-size="8.8" font-style="italic" font-weight="bold">C<tspan font-size="6.2" dy="1.6" dx="0.2">T</tspan></text>
<text x="267.7" y="202.3" font-family="'Liberation Serif', 'Times New Roman', serif" font-size="8.6" fill="#2a2aa8" stroke="#2a2aa8" stroke-width="0.25">1 + 1/<tspan font-style="italic">M</tspan><tspan font-size="5" dy="1.5" font-style="italic">e</tspan></text>
<text x="242.3" y="277.3" font-family="'Liberation Serif', 'Times New Roman', serif" font-size="8.6" fill="#2a2aa8" stroke="#2a2aa8" stroke-width="0.25">1 − 1/<tspan font-style="italic">M</tspan><tspan font-size="5" dy="1.5" font-style="italic">e</tspan></text>
<line x1="266.2" y1="286" x2="288.2" y2="286" stroke="#a020b0" stroke-width="1.2"/>
<text x="291.6" y="287.9" font-size="5.2" font-family="'Liberation Sans', Arial, sans-serif" stroke="#000" stroke-width="0.2" textLength="20.0" lengthAdjust="spacingAndGlyphs">700 kHz</text>
<line x1="266.2" y1="292.8" x2="288.2" y2="292.8" stroke="#000" stroke-width="1.2"/>
<text x="291.6" y="294.7" font-size="5.2" font-family="'Liberation Sans', Arial, sans-serif" stroke="#000" stroke-width="0.2" textLength="20.0" lengthAdjust="spacingAndGlyphs">800 kHz</text>
<line x1="266.2" y1="299.6" x2="288.2" y2="299.6" stroke="#3a3ae6" stroke-width="1.2"/>
<text x="291.6" y="301.5" font-size="5.2" font-family="'Liberation Sans', Arial, sans-serif" stroke="#000" stroke-width="0.2" textLength="20.0" lengthAdjust="spacingAndGlyphs">900 kHz</text>
<line x1="266.2" y1="306.2" x2="288.2" y2="306.2" stroke="#e8207a" stroke-width="1.2"/>
<text x="291.6" y="308.1" font-size="5.2" font-family="'Liberation Sans', Arial, sans-serif" stroke="#000" stroke-width="0.2" textLength="23.0" lengthAdjust="spacingAndGlyphs">1000 kHz</text>
<line x1="266.2" y1="312.6" x2="288.2" y2="312.6" stroke="#12a874" stroke-width="1.2"/>
<text x="291.6" y="314.5" font-size="5.2" font-family="'Liberation Sans', Arial, sans-serif" stroke="#000" stroke-width="0.2" textLength="23.0" lengthAdjust="spacingAndGlyphs">1100 kHz</text>
<g clip-path="url(#clipf)">
<polyline points="378.7,170 379.6,172.6 380.4,175.1 381.3,177.3 382.2,179.4 383.1,181.3 383.9,183.1 384.8,184.7 385.7,186.1 386.6,187.5 387.4,188.8 388.3,189.9 389.2,191 390,191.9 390.9,192.8 391.8,193.7 392.7,194.4 393.5,195.1 394.4,195.7 395.3,196.3 396.1,196.9 397,197.4 397.9,197.8 398.8,198.2 399.6,198.6 400.5,199 401.4,199.3 402.3,199.6 403.1,199.9 404,200.2 404.9,200.4 405.7,200.6 406.6,200.8 407.5,201 408.4,201.1 409.2,201.3 410.1,201.4 411,201.6 411.8,201.7 412.7,201.8 413.6,201.9 414.5,202 415.3,202.1 416.2,202.2 417.1,202.2 418,202.3 418.8,202.4 419.7,202.4 420.6,202.5 421.4,202.5 422.3,202.6 423.2,202.6 424.1,202.6 424.9,202.7 425.8,202.7 426.7,202.7 427.6,202.8 428.4,202.8 429.3,202.8 430.2,202.8 431,202.8 431.9,202.9 432.8,202.9 433.7,202.9 434.5,202.9 435.4,202.9 436.3,202.9 437.1,202.9 438,202.9 438.9,203 439.8,203 440.6,203 441.5,203 442.4,203 443.3,203 444.1,203 445,203 445.9,203 446.7,203 447.6,203 448.5,203 449.4,203 450.2,203 451.1,203 452,203 452.8,203 453.7,203 454.6,203 455.5,203 456.3,203 457.2,203 458.1,203 459,203 459.8,203 460.7,203 461.6,203 462.4,203 463.3,203 464.2,203 465.1,203 465.9,203 466.8,203 467.7,203 468.5,203.1 469.4,203.1 470.3,203.1 471.2,203.1 472,203.1 472.9,203.1 473.8,203.1 474.7,203.1 475.5,203.1 476.4,203.1 477.3,203.1 478.1,203.1 479,203.1 479.9,203.1 480.8,203.1 481.6,203.1 482.5,203.1 483.4,203.1 484.3,203.1 485.1,203.1 486,203.1 486.9,203.1 487.7,203.1 488.6,203.1 489.5,203.1 490.4,203.1 491.2,203.1 492.1,203.1 493,203.1 493.8,203.1 494.7,203.1 495.6,203.1 496.5,203.1 497.3,203.1 498.2,203.1 499.1,203.1 500,203.1 500.8,203.1 501.7,203.1 502.6,203.1 503.4,203.1 504.3,203.1 505.2,203.1 506.1,203.1 506.9,203.1 507.8,203.1 508.7,203.1 509.5,203.1 510.4,203.1 511.3,203.1 512.2,203.1 513,203.1 513.9,203.1 514.8,203.1 515.7,203.1 516.5,203.1 517.4,203.1" fill="none" stroke="#000" stroke-width="1.15" stroke-dasharray="5 0.6 0.9 0.6" stroke-linejoin="round"/>
<polyline points="378.7,272.4 379.6,271.1 380.4,269.9 381.3,268.8 382.2,267.7 383.1,266.8 383.9,265.8 384.8,265 385.7,264.2 386.6,263.5 387.4,262.8 388.3,262.1 389.2,261.5 390,261 390.9,260.5 391.8,260 392.7,259.5 393.5,259.1 394.4,258.7 395.3,258.4 396.1,258 397,257.7 397.9,257.4 398.8,257.1 399.6,256.9 400.5,256.6 401.4,256.4 402.3,256.2 403.1,256 404,255.8 404.9,255.6 405.7,255.5 406.6,255.3 407.5,255.2 408.4,255.1 409.2,255 410.1,254.8 411,254.7 411.8,254.6 412.7,254.6 413.6,254.5 414.5,254.4 415.3,254.3 416.2,254.2 417.1,254.2 418,254.1 418.8,254.1 419.7,254 420.6,254 421.4,253.9 422.3,253.9 423.2,253.8 424.1,253.8 424.9,253.8 425.8,253.7 426.7,253.7 427.6,253.7 428.4,253.7 429.3,253.6 430.2,253.6 431,253.6 431.9,253.6 432.8,253.6 433.7,253.5 434.5,253.5 435.4,253.5 436.3,253.5 437.1,253.5 438,253.5 438.9,253.5 439.8,253.4 440.6,253.4 441.5,253.4 442.4,253.4 443.3,253.4 444.1,253.4 445,253.4 445.9,253.4 446.7,253.4 447.6,253.4 448.5,253.4 449.4,253.4 450.2,253.4 451.1,253.4 452,253.4 452.8,253.4 453.7,253.3 454.6,253.3 455.5,253.3 456.3,253.3 457.2,253.3 458.1,253.3 459,253.3 459.8,253.3 460.7,253.3 461.6,253.3 462.4,253.3 463.3,253.3 464.2,253.3 465.1,253.3 465.9,253.3 466.8,253.3 467.7,253.3 468.5,253.3 469.4,253.3 470.3,253.3 471.2,253.3 472,253.3 472.9,253.3 473.8,253.3 474.7,253.3 475.5,253.3 476.4,253.3 477.3,253.3 478.1,253.3 479,253.3 479.9,253.3 480.8,253.3 481.6,253.3 482.5,253.3 483.4,253.3 484.3,253.3 485.1,253.3 486,253.3 486.9,253.3 487.7,253.3 488.6,253.3 489.5,253.3 490.4,253.3 491.2,253.3 492.1,253.3 493,253.3 493.8,253.3 494.7,253.3 495.6,253.3 496.5,253.3 497.3,253.3 498.2,253.3 499.1,253.3 500,253.3 500.8,253.3 501.7,253.3 502.6,253.3 503.4,253.3 504.3,253.3 505.2,253.3 506.1,253.3 506.9,253.3 507.8,253.3 508.7,253.3 509.5,253.3 510.4,253.3 511.3,253.3 512.2,253.3 513,253.3 513.9,253.3 514.8,253.3 515.7,253.3 516.5,253.3 517.4,253.3" fill="none" stroke="#000" stroke-width="1.15" stroke-dasharray="5 0.6 0.9 0.6" stroke-linejoin="round"/>
<polyline points="379.3,316.9 379.3,272.4" fill="none" stroke="#000" stroke-width="1.0" stroke-dasharray="5 0.6 0.9 0.6" stroke-linejoin="round"/>
<polyline points="378.7,227.9 517.4,227.9" fill="none" stroke="#000" stroke-width="1.15" stroke-dasharray="5 0.6 0.9 0.6" stroke-linejoin="round"/>
<polyline points="385.8,189.7 386.4,191.7 387,193.7 387.6,195.7 388.2,197.8 388.8,199.9 389.4,202 390,204.2 390.7,206.4 391.3,208.6 391.9,210.8 392.5,213 393.1,215.3 393.7,217.8 394.3,220.3 394.9,222.7 395.5,225 396.1,227 396.7,228.8 397.3,230.6 397.9,232.3 398.5,233.9 399.1,235.4 399.7,236.9 400.4,238.4 401,239.9 401.6,241.4 402.2,242.9 402.8,244.3 403.4,245.5 404,246.5 404.6,247.3 405.2,248.2 405.8,249 406.4,249.7 407,250.3 407.6,250.8 408.2,251 408.8,251 409.4,250.8 410.1,250.6 410.7,250.3 411.3,249.8 411.9,249.4 412.5,248.9 413.1,248.3 413.7,247.8 414.3,247.2 414.9,246.5 415.5,245.7 416.1,244.9 416.7,243.9 417.3,242.9 417.9,241.9 418.5,240.8 419.2,239.8 419.8,238.8 420.4,237.8 421,236.8 421.6,235.8 422.2,234.8 422.8,233.8 423.4,232.8 424,231.8 424.6,230.8 425.2,229.8 425.8,228.9 426.4,228.1 427,227.3 427.6,226.5 428.2,225.6 428.9,224.8 429.5,224.1 430.1,223.3 430.7,222.6 431.3,222 431.9,221.4 432.5,220.9 433.1,220.4 433.7,220 434.3,219.7 434.9,219.3 435.5,218.9 436.1,218.5 436.7,218.2 437.3,217.9 437.9,217.5 438.6,217.2 439.2,216.9 439.8,216.6 440.4,216.3 441,216.1 441.6,215.8 442.2,215.5 442.8,215.3 443.4,215.1 444,214.8 444.6,214.6 445.2,214.4 445.8,214.3 446.4,214.1 447,213.9 447.7,213.8 448.3,213.6 448.9,213.5 449.5,213.4 450.1,213.3 450.7,213.2 451.3,213.1 451.9,213 452.5,213 453.1,212.9 453.7,212.8 454.3,212.7 454.9,212.6 455.5,212.5 456.1,212.5 456.7,212.4 457.4,212.3 458,212.3 458.6,212.2 459.2,212.1 459.8,212.1 460.4,212 461,211.9 461.6,211.9 462.2,211.8 462.8,211.8 463.4,211.8 464,211.7 464.6,211.7 465.2,211.6 465.8,211.6 466.5,211.6 467.1,211.6 467.7,211.5 468.3,211.5 468.9,211.5 469.5,211.5 470.1,211.5 470.7,211.5 471.3,211.5 471.9,211.5 472.5,211.5 473.1,211.5 473.7,211.5 474.3,211.5 474.9,211.5 475.5,211.6 476.2,211.6 476.8,211.6 477.4,211.6 478,211.6 478.6,211.6 479.2,211.6 479.8,211.7 480.4,211.7 481,211.7 481.6,211.7 482.2,211.7 482.8,211.8 483.4,211.8 484,211.8 484.6,211.8 485.2,211.8 485.9,211.9 486.5,211.9 487.1,211.9 487.7,211.9 488.3,211.9 488.9,212 489.5,212 490.1,212 490.7,212 491.3,212 491.9,212 492.5,212.1 493.1,212.1 493.7,212.1 494.3,212.1 495,212.1 495.6,212.2 496.2,212.2 496.8,212.2 497.4,212.2 498,212.2 498.6,212.3 499.2,212.3 499.8,212.3 500.4,212.3 501,212.4 501.6,212.4 502.2,212.4 502.8,212.4 503.4,212.4 504,212.5 504.7,212.5 505.3,212.5 505.9,212.5 506.5,212.6 507.1,212.6 507.7,212.6 508.3,212.6 508.9,212.7 509.5,212.7 510.1,212.7 510.7,212.7 511.3,212.8 511.9,212.8 512.5,212.8 513.1,212.9 513.7,212.9 514.4,212.9 515,212.9 515.6,213 516.2,213 516.8,213 517.4,213 518,213.1 518.6,213.1" fill="none" stroke="#d63d8a" stroke-width="1.3" stroke-linejoin="round"/>
<polyline points="384.9,189.7 385.5,191.7 386.1,193.7 386.7,195.8 387.3,198 388,200.3 388.6,202.7 389.2,205.1 389.8,207.6 390.4,210.1 391,212.7 391.6,215.3 392.2,218 392.8,220.8 393.4,223.6 394.1,226.4 394.7,229.3 395.3,232.7 395.9,236.4 396.5,240.2 397.1,243.8 397.7,247 398.3,249.7 398.9,251.6 399.6,253.2 400.2,254.6 400.8,255.8 401.4,256.9 402,257.8 402.6,258.6 403.2,259.4 403.8,260.1 404.4,260.9 405,261.5 405.7,262 406.3,262.4 406.9,262.7 407.5,262.7 408.1,262.6 408.7,262.4 409.3,262 409.9,261.6 410.5,261.1 411.2,260.6 411.8,260.1 412.4,259.5 413,259 413.6,258.5 414.2,257.9 414.8,257.2 415.4,256.5 416,255.7 416.6,254.9 417.3,254.1 417.9,253.2 418.5,252.3 419.1,251.4 419.7,250.5 420.3,249.5 420.9,248.4 421.5,247.3 422.1,246.1 422.8,244.8 423.4,243.6 424,242.4 424.6,241.2 425.2,240.2 425.8,239.1 426.4,238.1 427,237 427.6,236 428.2,234.9 428.9,233.9 429.5,232.9 430.1,231.9 430.7,231 431.3,230 431.9,229.2 432.5,228.3 433.1,227.5 433.7,226.8 434.4,226.1 435,225.5 435.6,225 436.2,224.5 436.8,224 437.4,223.5 438,223.1 438.6,222.6 439.2,222.2 439.8,221.9 440.5,221.5 441.1,221.1 441.7,220.8 442.3,220.4 442.9,220.1 443.5,219.7 444.1,219.3 444.7,219 445.3,218.6 446,218.2 446.6,217.9 447.2,217.6 447.8,217.3 448.4,217 449,216.8 449.6,216.6 450.2,216.5 450.8,216.4 451.4,216.3 452.1,216.2 452.7,216.1 453.3,216 453.9,215.9 454.5,215.8 455.1,215.7 455.7,215.6 456.3,215.5 456.9,215.4 457.5,215.3 458.2,215.3 458.8,215.2 459.4,215.1 460,215.1 460.6,215 461.2,214.9 461.8,214.9 462.4,214.8 463,214.8 463.7,214.7 464.3,214.7 464.9,214.7 465.5,214.6 466.1,214.6 466.7,214.6 467.3,214.5 467.9,214.5 468.5,214.5 469.1,214.5 469.8,214.5 470.4,214.5 471,214.5 471.6,214.5 472.2,214.5 472.8,214.5 473.4,214.5 474,214.5 474.6,214.5 475.3,214.5 475.9,214.5 476.5,214.5 477.1,214.5 477.7,214.5 478.3,214.5 478.9,214.5 479.5,214.5 480.1,214.5 480.7,214.5 481.4,214.5 482,214.5 482.6,214.5 483.2,214.5 483.8,214.5 484.4,214.5 485,214.5 485.6,214.5 486.2,214.5 486.9,214.5 487.5,214.5 488.1,214.5 488.7,214.5 489.3,214.5 489.9,214.5 490.5,214.5 491.1,214.5 491.7,214.5 492.3,214.5 493,214.5 493.6,214.5 494.2,214.5 494.8,214.6 495.4,214.6 496,214.6 496.6,214.6 497.2,214.6 497.8,214.6 498.5,214.7 499.1,214.7 499.7,214.7 500.3,214.7 500.9,214.8 501.5,214.8 502.1,214.8 502.7,214.9 503.3,214.9 503.9,214.9 504.6,215 505.2,215 505.8,215.1 506.4,215.1 507,215.1 507.6,215.2 508.2,215.2 508.8,215.3 509.4,215.3 510.1,215.4 510.7,215.4 511.3,215.5 511.9,215.5 512.5,215.6 513.1,215.6 513.7,215.7 514.3,215.7 514.9,215.8 515.5,215.8 516.2,215.9 516.8,215.9 517.4,216 518,216 518.6,216.1" fill="none" stroke="#4444cc" stroke-width="1.3" stroke-linejoin="round"/>
<polyline points="383.6,189.7 384.2,194.3 384.8,198.9 385.4,203.3 386.1,207.7 386.7,211.9 387.3,216 387.9,220.1 388.5,224 389.1,227.9 389.8,231.6 390.4,235.4 391,239.1 391.6,242.6 392.2,246 392.8,249.1 393.5,251.8 394.1,254.3 394.7,256.6 395.3,258.8 395.9,260.9 396.5,262.9 397.2,264.7 397.8,266.5 398.4,268.2 399,269.8 399.6,271.3 400.2,272.8 400.9,274.2 401.5,275.5 402.1,276.8 402.7,277.9 403.3,278.8 403.9,279.5 404.6,280.3 405.2,281 405.8,281.6 406.4,282 407,282.2 407.6,282.1 408.3,281.8 408.9,281.4 409.5,280.7 410.1,279.9 410.7,279 411.3,278 412,277.1 412.6,276.1 413.2,275.1 413.8,274.2 414.4,273.5 415,272.7 415.7,272 416.3,271.4 416.9,270.7 417.5,270 418.1,269.3 418.7,268.6 419.4,267.9 420,267.1 420.6,266.3 421.2,265.4 421.8,264.5 422.4,263.4 423.1,262.2 423.7,260.9 424.3,259.7 424.9,258.5 425.5,257.4 426.1,256.2 426.8,255.1 427.4,253.9 428,252.8 428.6,251.6 429.2,250.5 429.8,249.4 430.4,248.3 431.1,247.2 431.7,246.1 432.3,245.1 432.9,244.1 433.5,243.1 434.1,242.2 434.8,241.4 435.4,240.6 436,239.9 436.6,239.2 437.2,238.5 437.8,237.9 438.5,237.3 439.1,236.7 439.7,236.2 440.3,235.6 440.9,235.1 441.5,234.6 442.2,234.1 442.8,233.6 443.4,233.1 444,232.6 444.6,232.2 445.2,231.8 445.9,231.4 446.5,231 447.1,230.6 447.7,230.2 448.3,229.9 448.9,229.5 449.6,229.2 450.2,228.9 450.8,228.6 451.4,228.3 452,228 452.6,227.7 453.3,227.5 453.9,227.2 454.5,226.9 455.1,226.7 455.7,226.4 456.3,226.2 457,226 457.6,225.8 458.2,225.6 458.8,225.5 459.4,225.3 460,225.2 460.7,225.1 461.3,224.9 461.9,224.8 462.5,224.7 463.1,224.6 463.7,224.5 464.4,224.4 465,224.3 465.6,224.2 466.2,224.1 466.8,224 467.4,223.9 468.1,223.9 468.7,223.9 469.3,223.8 469.9,223.8 470.5,223.8 471.1,223.8 471.8,223.8 472.4,223.8 473,223.8 473.6,223.8 474.2,223.8 474.8,223.8 475.4,223.8 476.1,223.8 476.7,223.9 477.3,223.9 477.9,223.9 478.5,223.9 479.1,223.9 479.8,223.9 480.4,223.9 481,223.9 481.6,223.9 482.2,224 482.8,224 483.5,224 484.1,224 484.7,224 485.3,224 485.9,224.1 486.5,224.1 487.2,224.1 487.8,224.1 488.4,224.1 489,224.2 489.6,224.2 490.2,224.2 490.9,224.2 491.5,224.2 492.1,224.3 492.7,224.3 493.3,224.3 493.9,224.3 494.6,224.4 495.2,224.4 495.8,224.4 496.4,224.5 497,224.5 497.6,224.6 498.3,224.6 498.9,224.7 499.5,224.7 500.1,224.7 500.7,224.8 501.3,224.9 502,224.9 502.6,225 503.2,225 503.8,225.1 504.4,225.1 505,225.2 505.7,225.3 506.3,225.3 506.9,225.4 507.5,225.4 508.1,225.5 508.7,225.6 509.4,225.6 510,225.7 510.6,225.8 511.2,225.9 511.8,225.9 512.4,226 513.1,226.1 513.7,226.2 514.3,226.2 514.9,226.3 515.5,226.4 516.1,226.5 516.8,226.6 517.4,226.6 518,226.7 518.6,226.8" fill="none" stroke="#28a070" stroke-width="1.3" stroke-linejoin="round"/>
<polyline points="383,189.7 383.6,194.6 384.2,199.5 384.9,204.2 385.5,208.8 386.1,213.4 386.7,217.8 387.3,222.1 388,226.4 388.6,230.5 389.2,234.6 389.8,238.7 390.4,242.8 391,246.7 391.7,250.5 392.3,254.1 392.9,257.3 393.5,260.1 394.1,262.7 394.8,265.1 395.4,267.3 396,269.5 396.6,271.5 397.2,273.5 397.9,275.3 398.5,277 399.1,278.6 399.7,280.1 400.3,281.6 401,283 401.6,284.3 402.2,285.5 402.8,286.5 403.4,287.4 404.1,288.2 404.7,289 405.3,289.7 405.9,290.2 406.5,290.6 407.1,290.8 407.8,290.7 408.4,290.5 409,290.1 409.6,289.6 410.2,288.9 410.9,288.2 411.5,287.4 412.1,286.6 412.7,285.8 413.3,284.9 414,284.1 414.6,283.3 415.2,282.5 415.8,281.6 416.4,280.7 417.1,279.7 417.7,278.7 418.3,277.6 418.9,276.5 419.5,275.4 420.2,274.3 420.8,273.2 421.4,272.1 422,271 422.6,269.9 423.2,268.9 423.9,267.8 424.5,266.8 425.1,265.7 425.7,264.6 426.3,263.5 427,262.3 427.6,261.1 428.2,259.8 428.8,258.5 429.4,257.2 430.1,255.9 430.7,254.5 431.3,253.2 431.9,251.9 432.5,250.7 433.2,249.5 433.8,248.4 434.4,247.3 435,246.3 435.6,245.4 436.2,244.6 436.9,243.9 437.5,243.2 438.1,242.5 438.7,241.9 439.3,241.3 440,240.7 440.6,240.1 441.2,239.5 441.8,239 442.4,238.5 443.1,238 443.7,237.5 444.3,237 444.9,236.6 445.5,236.1 446.2,235.7 446.8,235.3 447.4,235 448,234.6 448.6,234.3 449.3,234 449.9,233.7 450.5,233.4 451.1,233.1 451.7,232.8 452.3,232.5 453,232.2 453.6,232 454.2,231.7 454.8,231.5 455.4,231.2 456.1,231 456.7,230.8 457.3,230.7 457.9,230.5 458.5,230.4 459.2,230.3 459.8,230.2 460.4,230.2 461,230.1 461.6,230.1 462.3,230.1 462.9,230 463.5,230 464.1,230 464.7,229.9 465.4,229.9 466,229.9 466.6,229.9 467.2,229.8 467.8,229.8 468.4,229.8 469.1,229.8 469.7,229.8 470.3,229.8 470.9,229.8 471.5,229.8 472.2,229.8 472.8,229.8 473.4,229.8 474,229.9 474.6,229.9 475.3,229.9 475.9,229.9 476.5,229.9 477.1,230 477.7,230 478.4,230 479,230.1 479.6,230.1 480.2,230.1 480.8,230.2 481.4,230.2 482.1,230.2 482.7,230.3 483.3,230.3 483.9,230.4 484.5,230.4 485.2,230.5 485.8,230.5 486.4,230.5 487,230.6 487.6,230.6 488.3,230.7 488.9,230.7 489.5,230.7 490.1,230.8 490.7,230.8 491.4,230.9 492,230.9 492.6,230.9 493.2,231 493.8,231 494.5,231.1 495.1,231.1 495.7,231.2 496.3,231.2 496.9,231.3 497.5,231.3 498.2,231.3 498.8,231.4 499.4,231.4 500,231.5 500.6,231.5 501.3,231.6 501.9,231.7 502.5,231.7 503.1,231.8 503.7,231.8 504.4,231.9 505,231.9 505.6,232 506.2,232 506.8,232.1 507.5,232.2 508.1,232.2 508.7,232.3 509.3,232.3 509.9,232.4 510.6,232.5 511.2,232.5 511.8,232.6 512.4,232.6 513,232.7 513.6,232.8 514.3,232.8 514.9,232.9 515.5,233 516.1,233 516.7,233.1 517.4,233.2 518,233.2 518.6,233.3" fill="none" stroke="#e87a34" stroke-width="1.3" stroke-linejoin="round"/>
<polyline points="382.6,189.7 383.2,194.9 383.8,200.1 384.5,205.2 385.1,210.2 385.7,215.1 386.3,219.9 386.9,224.7 387.6,229.3 388.2,233.9 388.8,238.5 389.4,243.3 390.1,248 390.7,252.7 391.3,257.1 391.9,261.2 392.5,264.8 393.2,267.8 393.8,270.4 394.4,272.8 395,275 395.6,277.1 396.3,279 396.9,280.8 397.5,282.6 398.1,284.2 398.7,285.7 399.4,287.2 400,288.7 400.6,290.1 401.2,291.5 401.9,292.8 402.5,294 403.1,295 403.7,295.8 404.3,296.5 405,297.2 405.6,297.9 406.2,298.4 406.8,298.6 407.4,298.7 408.1,298.6 408.7,298.3 409.3,297.9 409.9,297.4 410.5,296.8 411.2,296.1 411.8,295.4 412.4,294.6 413,293.9 413.7,293.1 414.3,292.3 414.9,291.5 415.5,290.6 416.1,289.6 416.8,288.6 417.4,287.4 418,286.2 418.6,285 419.2,283.8 419.9,282.5 420.5,281.3 421.1,280.1 421.7,278.9 422.3,277.7 423,276.5 423.6,275.2 424.2,274 424.8,272.8 425.4,271.5 426.1,270.2 426.7,269 427.3,267.7 427.9,266.5 428.6,265.3 429.2,264.1 429.8,262.8 430.4,261.4 431,260.1 431.7,258.7 432.3,257.4 432.9,256.1 433.5,254.8 434.1,253.6 434.8,252.5 435.4,251.5 436,250.6 436.6,249.9 437.2,249.1 437.9,248.5 438.5,247.8 439.1,247.2 439.7,246.5 440.4,245.9 441,245.4 441.6,244.8 442.2,244.3 442.8,243.8 443.5,243.3 444.1,242.8 444.7,242.4 445.3,241.9 445.9,241.5 446.6,241.1 447.2,240.8 447.8,240.4 448.4,240.1 449,239.8 449.7,239.5 450.3,239.3 450.9,239 451.5,238.8 452.2,238.5 452.8,238.3 453.4,238.1 454,237.9 454.6,237.7 455.3,237.5 455.9,237.3 456.5,237.1 457.1,237 457.7,236.8 458.4,236.7 459,236.6 459.6,236.5 460.2,236.5 460.8,236.4 461.5,236.4 462.1,236.3 462.7,236.3 463.3,236.2 464,236.2 464.6,236.1 465.2,236.1 465.8,236 466.4,236 467.1,236 467.7,235.9 468.3,235.9 468.9,235.9 469.5,235.9 470.2,235.9 470.8,235.9 471.4,235.9 472,235.9 472.6,235.9 473.3,235.9 473.9,235.9 474.5,235.9 475.1,235.9 475.8,235.9 476.4,235.9 477,236 477.6,236 478.2,236 478.9,236 479.5,236 480.1,236 480.7,236 481.3,236 482,236.1 482.6,236.1 483.2,236.1 483.8,236.1 484.4,236.1 485.1,236.1 485.7,236.2 486.3,236.2 486.9,236.2 487.5,236.2 488.2,236.2 488.8,236.3 489.4,236.3 490,236.3 490.7,236.3 491.3,236.3 491.9,236.3 492.5,236.4 493.1,236.4 493.8,236.4 494.4,236.4 495,236.5 495.6,236.5 496.2,236.5 496.9,236.6 497.5,236.6 498.1,236.6 498.7,236.7 499.3,236.7 500,236.7 500.6,236.8 501.2,236.8 501.8,236.9 502.5,236.9 503.1,236.9 503.7,237 504.3,237 504.9,237.1 505.6,237.1 506.2,237.2 506.8,237.2 507.4,237.3 508,237.3 508.7,237.4 509.3,237.4 509.9,237.5 510.5,237.5 511.1,237.6 511.8,237.6 512.4,237.7 513,237.8 513.6,237.8 514.3,237.9 514.9,237.9 515.5,238 516.1,238.1 516.7,238.1 517.4,238.2 518,238.2 518.6,238.3" fill="none" stroke="#9a34b8" stroke-width="1.3" stroke-linejoin="round"/>
<polyline points="382.2,189.7 382.8,197.4 383.4,204.9 384.1,212.1 384.7,219 385.3,225.6 385.9,231.9 386.6,237.7 387.2,243.2 387.8,248.3 388.4,253.3 389.1,258.1 389.7,262.8 390.3,267.2 390.9,271.2 391.5,275 392.2,278.3 392.8,281.1 393.4,283.6 394,285.8 394.7,287.9 395.3,289.8 395.9,291.6 396.5,293.3 397.1,294.9 397.8,296.4 398.4,297.7 399,299 399.6,300.2 400.3,301.4 400.9,302.5 401.5,303.5 402.1,304.4 402.8,305.2 403.4,305.9 404,306.4 404.6,306.9 405.2,307.4 405.9,307.8 406.5,308.1 407.1,308.3 407.7,308.3 408.4,308.2 409,308 409.6,307.7 410.2,307.3 410.9,306.9 411.5,306.4 412.1,305.8 412.7,305.2 413.3,304.6 414,304 414.6,303.4 415.2,302.6 415.8,301.8 416.5,300.7 417.1,299.6 417.7,298.5 418.3,297.2 418.9,295.9 419.6,294.7 420.2,293.4 420.8,292.1 421.4,290.9 422.1,289.7 422.7,288.5 423.3,287.3 423.9,286 424.6,284.8 425.2,283.5 425.8,282.2 426.4,281 427,279.7 427.7,278.5 428.3,277.3 428.9,276.1 429.5,274.9 430.2,273.7 430.8,272.5 431.4,271.3 432,270.2 432.6,269 433.3,267.9 433.9,266.8 434.5,265.8 435.1,264.8 435.8,263.8 436.4,262.8 437,261.9 437.6,260.9 438.3,260 438.9,259.1 439.5,258.2 440.1,257.4 440.7,256.6 441.4,255.9 442,255.3 442.6,254.7 443.2,254.2 443.9,253.7 444.5,253.2 445.1,252.7 445.7,252.3 446.4,251.9 447,251.5 447.6,251.1 448.2,250.8 448.8,250.4 449.5,250.1 450.1,249.8 450.7,249.4 451.3,249.1 452,248.7 452.6,248.4 453.2,248.1 453.8,247.7 454.4,247.4 455.1,247.1 455.7,246.8 456.3,246.6 456.9,246.3 457.6,246.1 458.2,245.9 458.8,245.7 459.4,245.6 460.1,245.5 460.7,245.4 461.3,245.3 461.9,245.2 462.5,245.2 463.2,245.1 463.8,245 464.4,244.9 465,244.9 465.7,244.8 466.3,244.7 466.9,244.7 467.5,244.6 468.2,244.6 468.8,244.5 469.4,244.5 470,244.4 470.6,244.4 471.3,244.3 471.9,244.3 472.5,244.2 473.1,244.2 473.8,244.2 474.4,244.1 475,244.1 475.6,244.1 476.2,244.1 476.9,244 477.5,244 478.1,244 478.7,244 479.4,244 480,244 480.6,244 481.2,244 481.9,244 482.5,244 483.1,244 483.7,244 484.3,244 485,244 485.6,244 486.2,244 486.8,244 487.5,244.1 488.1,244.1 488.7,244.1 489.3,244.1 489.9,244.1 490.6,244.1 491.2,244.1 491.8,244.1 492.4,244.2 493.1,244.2 493.7,244.2 494.3,244.2 494.9,244.2 495.6,244.3 496.2,244.3 496.8,244.3 497.4,244.3 498,244.4 498.7,244.4 499.3,244.4 499.9,244.5 500.5,244.5 501.2,244.5 501.8,244.6 502.4,244.6 503,244.7 503.7,244.7 504.3,244.7 504.9,244.8 505.5,244.8 506.1,244.9 506.8,244.9 507.4,245 508,245.1 508.6,245.1 509.3,245.2 509.9,245.2 510.5,245.3 511.1,245.4 511.7,245.4 512.4,245.5 513,245.6 513.6,245.6 514.2,245.7 514.9,245.8 515.5,245.9 516.1,246 516.7,246 517.4,246.1 518,246.2 518.6,246.3" fill="none" stroke="#000000" stroke-width="1.3" stroke-linejoin="round"/>
</g>
<rect x="378.7" y="189.7" width="138.7" height="127.2" fill="none" stroke="#000" stroke-width="1.0"/>
<path d="M378.7 316.9v-3.0M378.7 189.7v3.0M385.6 316.9v-1.6M385.6 189.7v1.6M392.6 316.9v-1.6M392.6 189.7v1.6M399.5 316.9v-1.6M399.5 189.7v1.6M406.4 316.9v-3.0M406.4 189.7v3.0M413.4 316.9v-1.6M413.4 189.7v1.6M420.3 316.9v-1.6M420.3 189.7v1.6M427.2 316.9v-1.6M427.2 189.7v1.6M434.2 316.9v-3.0M434.2 189.7v3.0M441.1 316.9v-1.6M441.1 189.7v1.6M448 316.9v-1.6M448 189.7v1.6M455 316.9v-1.6M455 189.7v1.6M461.9 316.9v-3.0M461.9 189.7v3.0M468.9 316.9v-1.6M468.9 189.7v1.6M475.8 316.9v-1.6M475.8 189.7v1.6M482.7 316.9v-1.6M482.7 189.7v1.6M489.7 316.9v-3.0M489.7 189.7v3.0M496.6 316.9v-1.6M496.6 189.7v1.6M503.5 316.9v-1.6M503.5 189.7v1.6M510.5 316.9v-1.6M510.5 189.7v1.6M517.4 316.9v-3.0M517.4 189.7v3.0M378.7 316.9h3.0M517.4 316.9h-3.0M378.7 310.5h1.6M517.4 310.5h-1.6M378.7 304.2h1.6M517.4 304.2h-1.6M378.7 297.8h1.6M517.4 297.8h-1.6M378.7 291.5h3.0M517.4 291.5h-3.0M378.7 285.1h1.6M517.4 285.1h-1.6M378.7 278.7h1.6M517.4 278.7h-1.6M378.7 272.4h1.6M517.4 272.4h-1.6M378.7 266h3.0M517.4 266h-3.0M378.7 259.7h1.6M517.4 259.7h-1.6M378.7 253.3h1.6M517.4 253.3h-1.6M378.7 246.9h1.6M517.4 246.9h-1.6M378.7 240.6h3.0M517.4 240.6h-3.0M378.7 234.2h1.6M517.4 234.2h-1.6M378.7 227.9h1.6M517.4 227.9h-1.6M378.7 221.5h1.6M517.4 221.5h-1.6M378.7 215.1h3.0M517.4 215.1h-3.0M378.7 208.8h1.6M517.4 208.8h-1.6M378.7 202.4h1.6M517.4 202.4h-1.6M378.7 196.1h1.6M517.4 196.1h-1.6M378.7 189.7h3.0M517.4 189.7h-3.0" stroke="#000" stroke-width="0.75" fill="none"/>
<text x="376.4" y="319.1" font-size="6.0" font-family="'Liberation Sans', Arial, sans-serif" stroke="#000" stroke-width="0.2" text-anchor="end" font-weight="bold" textLength="6.8" lengthAdjust="spacingAndGlyphs">0.3</text>
<text x="376.4" y="293.7" font-size="6.0" font-family="'Liberation Sans', Arial, sans-serif" stroke="#000" stroke-width="0.2" text-anchor="end" font-weight="bold" textLength="6.8" lengthAdjust="spacingAndGlyphs">0.5</text>
<text x="376.4" y="268.2" font-size="6.0" font-family="'Liberation Sans', Arial, sans-serif" stroke="#000" stroke-width="0.2" text-anchor="end" font-weight="bold" textLength="6.8" lengthAdjust="spacingAndGlyphs">0.7</text>
<text x="376.4" y="242.8" font-size="6.0" font-family="'Liberation Sans', Arial, sans-serif" stroke="#000" stroke-width="0.2" text-anchor="end" font-weight="bold" textLength="6.8" lengthAdjust="spacingAndGlyphs">0.9</text>
<text x="376.4" y="217.3" font-size="6.0" font-family="'Liberation Sans', Arial, sans-serif" stroke="#000" stroke-width="0.2" text-anchor="end" font-weight="bold" textLength="6.8" lengthAdjust="spacingAndGlyphs">1.1</text>
<text x="376.4" y="191.9" font-size="6.0" font-family="'Liberation Sans', Arial, sans-serif" stroke="#000" stroke-width="0.2" text-anchor="end" font-weight="bold" textLength="6.8" lengthAdjust="spacingAndGlyphs">1.3</text>
<text x="378.7" y="323.3" font-size="6.0" font-family="'Liberation Sans', Arial, sans-serif" stroke="#000" stroke-width="0.2" text-anchor="middle" font-weight="bold" textLength="3.1" lengthAdjust="spacingAndGlyphs">0</text>
<text x="406.4" y="323.3" font-size="6.0" font-family="'Liberation Sans', Arial, sans-serif" stroke="#000" stroke-width="0.2" text-anchor="middle" font-weight="bold" textLength="7.2" lengthAdjust="spacingAndGlyphs">0.2</text>
<text x="434.2" y="323.3" font-size="6.0" font-family="'Liberation Sans', Arial, sans-serif" stroke="#000" stroke-width="0.2" text-anchor="middle" font-weight="bold" textLength="7.2" lengthAdjust="spacingAndGlyphs">0.4</text>
<text x="461.9" y="323.3" font-size="6.0" font-family="'Liberation Sans', Arial, sans-serif" stroke="#000" stroke-width="0.2" text-anchor="middle" font-weight="bold" textLength="7.2" lengthAdjust="spacingAndGlyphs">0.6</text>
<text x="489.7" y="323.3" font-size="6.0" font-family="'Liberation Sans', Arial, sans-serif" stroke="#000" stroke-width="0.2" text-anchor="middle" font-weight="bold" textLength="7.2" lengthAdjust="spacingAndGlyphs">0.8</text>
<text x="517.4" y="323.3" font-size="6.0" font-family="'Liberation Sans', Arial, sans-serif" stroke="#000" stroke-width="0.2" text-anchor="middle" font-weight="bold" textLength="3.1" lengthAdjust="spacingAndGlyphs">1</text>
<text x="448.5" y="330.5" font-family="'Liberation Serif', 'Times New Roman', serif" font-size="9.5" text-anchor="middle" stroke="#000" stroke-width="0.15"><tspan font-weight="bold">x</tspan> (m)</text>
<text x="356.3" y="246.2" font-family="'Liberation Serif', 'Times New Roman', serif" font-size="8.8" font-style="italic" font-weight="bold">C<tspan font-size="6.2" dy="1.6" dx="0.2">T</tspan></text>
<text x="468" y="199.8" font-family="'Liberation Serif', 'Times New Roman', serif" font-size="8.6" fill="#2a2aa8" stroke="#2a2aa8" stroke-width="0.25">1 + 1/<tspan font-style="italic">M</tspan><tspan font-size="5" dy="1.5" font-style="italic">e</tspan></text>
<text x="449" y="262.3" font-family="'Liberation Serif', 'Times New Roman', serif" font-size="8.6" fill="#2a2aa8" stroke="#2a2aa8" stroke-width="0.25">1 − 1/<tspan font-style="italic">M</tspan><tspan font-size="5" dy="1.5" font-style="italic">e</tspan></text>
<line x1="459" y1="268.9" x2="483.4" y2="268.9" stroke="#d63d8a" stroke-width="1.2"/>
<text x="487.6" y="270.8" font-size="5.2" font-family="'Liberation Sans', Arial, sans-serif" stroke="#000" stroke-width="0.2" textLength="20.0" lengthAdjust="spacingAndGlyphs">450 kHz</text>
<line x1="459" y1="276.9" x2="483.4" y2="276.9" stroke="#4444cc" stroke-width="1.2"/>
<text x="487.6" y="278.8" font-size="5.2" font-family="'Liberation Sans', Arial, sans-serif" stroke="#000" stroke-width="0.2" textLength="20.0" lengthAdjust="spacingAndGlyphs">500 kHz</text>
<line x1="459" y1="285.1" x2="483.4" y2="285.1" stroke="#28a070" stroke-width="1.2"/>
<text x="487.6" y="287" font-size="5.2" font-family="'Liberation Sans', Arial, sans-serif" stroke="#000" stroke-width="0.2" textLength="20.0" lengthAdjust="spacingAndGlyphs">600 kHz</text>
<line x1="459" y1="293.2" x2="483.4" y2="293.2" stroke="#e87a34" stroke-width="1.2"/>
<text x="487.6" y="295.1" font-size="5.2" font-family="'Liberation Sans', Arial, sans-serif" stroke="#000" stroke-width="0.2" textLength="20.0" lengthAdjust="spacingAndGlyphs">650 kHz</text>
<line x1="459" y1="301.3" x2="483.4" y2="301.3" stroke="#9a34b8" stroke-width="1.2"/>
<text x="487.6" y="303.2" font-size="5.2" font-family="'Liberation Sans', Arial, sans-serif" stroke="#000" stroke-width="0.2" textLength="20.0" lengthAdjust="spacingAndGlyphs">700 kHz</text>
<line x1="459" y1="309.5" x2="483.4" y2="309.5" stroke="#000" stroke-width="1.2"/>
<text x="487.6" y="311.4" font-size="5.2" font-family="'Liberation Sans', Arial, sans-serif" stroke="#000" stroke-width="0.2" textLength="20.0" lengthAdjust="spacingAndGlyphs">800 kHz</text>
<text x="53.5" y="173.4" font-family="'Liberation Serif', 'Times New Roman', serif" font-size="10.5" stroke="#000" stroke-width="0.3" textLength="61.3" lengthAdjust="spacingAndGlyphs">(a) No-blowing</text>
<text x="232" y="173.4" font-family="'Liberation Serif', 'Times New Roman', serif" font-size="10.5" stroke="#000" stroke-width="0.3" textLength="57.4" lengthAdjust="spacingAndGlyphs">(b) Case II (d)</text>
<text x="409.2" y="173.4" font-family="'Liberation Serif', 'Times New Roman', serif" font-size="10.5" stroke="#000" stroke-width="0.3" textLength="55.5" lengthAdjust="spacingAndGlyphs">(c) Case II (g)</text>
<text x="57" y="345.3" font-family="'Liberation Serif', 'Times New Roman', serif" font-size="10.5" stroke="#000" stroke-width="0.3" textLength="61.7" lengthAdjust="spacingAndGlyphs">(d) No-blowing</text>
<text x="236.2" y="345.6" font-family="'Liberation Serif', 'Times New Roman', serif" font-size="10.5" stroke="#000" stroke-width="0.3" textLength="56" lengthAdjust="spacingAndGlyphs">(e) Case II (d)</text>
<text x="413.5" y="345.6" font-family="'Liberation Serif', 'Times New Roman', serif" font-size="10.5" stroke="#000" stroke-width="0.3" textLength="54" lengthAdjust="spacingAndGlyphs">(f) Case II (g)</text>
</svg></body></html>
